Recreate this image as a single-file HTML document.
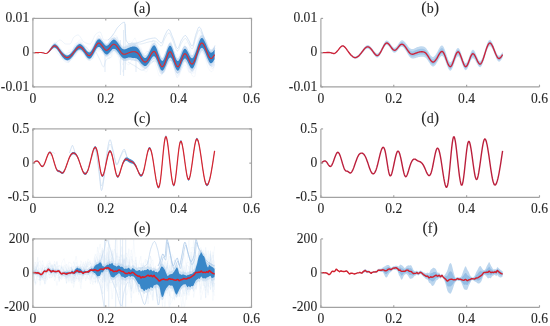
<!DOCTYPE html>
<html><head><meta charset="utf-8"><style>
html,body{margin:0;padding:0;background:#fff;width:550px;height:326px;overflow:hidden}
svg{display:block}
text{font-family:"Liberation Serif",serif;font-size:13.6px;fill:#262626;stroke:#262626;stroke-width:0.08px}
.t{font-size:14.0px}
.p{font-size:16.0px}
</style></head><body>
<svg width="550" height="326" viewBox="0 0 550 326">
<rect width="550" height="326" fill="#fff"/>
<polyline points="32.9,52.6 33.5,52.6 34.1,52.6 34.7,52.6 35.3,52.6 35.9,52.6 36.5,52.6 37.1,52.6 37.7,52.6 38.3,52.6 38.9,52.5 39.5,52.5 40.1,52.5 40.7,52.5 41.3,52.5 41.9,52.6 42.5,52.7 43.1,52.8 43.7,53.0 44.3,53.2 44.9,53.4 45.5,53.5 46.1,53.5 46.7,53.3 47.3,53.0 47.9,52.5 48.5,52.1 49.1,51.6 49.7,50.2 50.3,49.2 50.9,48.2 51.5,47.2 52.1,46.3 52.7,45.5 53.3,44.8 53.9,44.3 54.5,44.0 55.1,43.9 55.7,44.1 56.3,44.6 56.9,45.1 57.5,45.7 58.1,46.4 58.7,47.2 59.3,48.0 59.9,48.7 60.5,49.5 61.1,50.2 61.7,51.0 62.3,51.6 62.9,52.2 63.5,53.0 64.1,53.7 64.7,54.4 65.3,54.9 65.9,59.3 66.5,59.8 67.1,60.1 67.7,60.3 68.3,60.3 68.9,60.3 69.5,59.9 70.1,59.4 70.7,58.8 71.3,58.1 71.9,57.4 72.5,56.6 73.1,55.7 73.7,54.9 74.3,54.0 74.9,48.3 75.5,52.5 76.1,51.9 76.7,51.4 77.3,51.0 77.9,50.7 78.5,50.5 79.1,50.5 79.7,50.6 80.3,50.9 80.9,51.3 81.5,51.2 82.1,51.2 82.7,45.8 83.3,45.9 83.9,46.1 84.5,46.3 85.1,46.5 85.7,46.8 86.3,46.9 86.9,47.0 87.5,48.4 88.1,49.6 88.7,50.6 89.3,51.5 89.9,52.1 90.5,58.6 91.1,58.8 91.7,58.8 92.3,58.7 92.9,58.5 93.5,57.0 94.1,55.5 94.7,53.9 95.3,52.4 95.9,51.0 96.5,49.6 97.1,48.5 97.7,47.5 98.3,46.7 98.9,39.3 99.5,39.7 100.1,47.2 100.7,48.0 101.3,48.8 101.9,49.8 102.5,50.9 103.1,52.0 103.7,53.0 104.3,54.0 104.9,54.9 105.5,55.2 106.1,55.3 106.7,55.2 107.3,54.8 107.9,54.2 108.5,53.5 109.1,52.6 109.7,51.6 110.3,43.3 110.9,42.3 111.5,41.5 112.1,40.8 112.7,40.2 113.3,39.8 113.9,39.6 114.5,39.6 115.1,39.8 115.7,40.1 116.3,40.6 116.9,41.2 117.5,42.3 118.1,43.5 118.7,44.7 119.3,45.9 119.9,54.6 120.5,55.8 121.1,56.9 121.7,57.9 122.3,58.8 122.9,59.6 123.5,60.0 124.1,60.2 124.7,60.3 125.3,60.4 125.9,60.4 126.5,60.3 127.1,60.2 127.7,60.1 128.3,60.0 128.9,59.9 129.5,59.3 130.1,58.7 130.7,58.1 131.3,57.6 131.9,57.1 132.5,56.6 133.1,56.1 133.7,55.7 134.3,47.4 134.9,47.0 135.5,47.2 136.1,47.4 136.7,47.6 137.3,48.1 137.9,48.6 138.5,49.3 139.1,50.1 139.7,51.0 140.3,52.0 140.9,53.0 141.5,54.3 142.1,63.7 142.7,64.8 143.3,65.9 143.9,66.8 144.5,67.5 145.1,67.9 145.7,68.2 146.3,68.1 146.9,68.0 147.5,66.6 148.1,65.2 148.7,63.6 149.3,62.0 149.9,52.0 150.5,50.2 151.1,48.5 151.7,46.9 152.3,45.5 152.9,44.2 153.5,43.6 154.1,43.2 154.7,43.2 155.3,43.6 155.9,44.4 156.5,45.4 157.1,46.6 157.7,48.0 158.3,49.4 158.9,50.8 159.5,53.1 160.1,55.3 160.7,57.2 161.3,58.8 161.9,60.1 162.5,60.9 163.1,61.2 163.7,69.8 164.3,69.3 164.9,68.7 165.5,66.6 166.1,64.5 166.7,62.4 167.3,51.6 167.9,49.7 168.5,48.0 169.1,46.6 169.7,45.6 170.3,45.2 170.9,45.2 171.5,45.6 172.1,46.3 172.7,47.2 173.3,48.4 173.9,49.6 174.5,50.8 175.1,51.9 175.7,52.9 176.3,53.6 176.9,54.0 177.5,54.9 178.1,55.3 178.7,55.2 179.3,54.7 179.9,53.9 180.5,52.8 181.1,51.7 181.7,50.4 182.3,49.3 182.9,48.3 183.5,47.3 184.1,46.5 184.7,46.3 185.3,46.5 185.9,47.0 186.5,47.9 187.1,49.1 187.7,50.4 188.3,51.8 188.9,53.3 189.5,54.3 190.1,55.1 190.7,55.7 191.3,56.1 191.9,56.1 192.5,55.7 193.1,54.8 193.7,53.6 194.3,52.1 194.9,50.3 195.5,48.4 196.1,46.5 196.7,44.4 197.3,42.3 197.9,40.3 198.5,38.4 199.1,36.6 199.7,35.0 200.3,33.7 200.9,32.7 201.5,32.9 202.1,33.4 202.7,34.4 203.3,35.7 203.9,37.2 204.5,39.0 205.1,40.9 205.7,42.9 206.3,45.0 206.9,57.0 207.5,58.8 208.1,60.5 208.7,62.1 209.3,63.5 209.9,64.7 210.5,65.5 211.1,66.0 211.7,66.2 212.3,66.1 212.9,65.8 213.5,64.5 214.1,63.1 214.6,61.9" fill="none" stroke="#b9d1ec" stroke-width="0.6" stroke-opacity="0.22" stroke-linejoin="round"/>
<polyline points="32.9,52.6 33.5,52.6 34.1,52.6 34.7,52.6 35.3,52.6 35.9,52.6 36.5,52.6 37.1,52.6 37.7,52.6 38.3,52.6 38.9,52.5 39.5,52.5 40.1,52.5 40.7,52.5 41.3,52.5 41.9,52.6 42.5,52.7 43.1,52.8 43.7,53.0 44.3,53.2 44.9,53.4 45.5,53.5 46.1,53.5 46.7,53.3 47.3,53.0 47.9,52.5 48.5,52.1 49.1,51.6 49.7,50.2 50.3,49.3 50.9,48.3 51.5,47.4 52.1,46.6 52.7,45.9 53.3,47.6 53.9,47.5 54.5,47.6 55.1,47.9 55.7,48.3 56.3,48.9 56.9,49.6 57.5,50.4 58.1,51.3 58.7,52.2 59.3,53.2 59.9,54.1 60.5,55.1 61.1,56.0 61.7,56.9 62.3,57.8 62.9,58.6 63.5,59.0 64.1,59.4 64.7,59.7 65.3,59.9 65.9,60.0 66.5,60.0 67.1,59.9 67.7,59.7 68.3,55.2 68.9,54.7 69.5,54.2 70.1,53.6 70.7,52.9 71.3,52.2 71.9,51.4 72.5,50.6 73.1,49.7 73.7,48.8 74.3,47.8 74.9,46.8 75.5,46.3 76.1,45.7 76.7,45.2 77.3,44.8 77.9,44.5 78.5,44.3 79.1,44.3 79.7,49.6 80.3,50.0 80.9,50.5 81.5,50.9 82.1,51.4 82.7,52.0 83.3,52.7 83.9,53.5 84.5,54.3 85.1,55.1 85.7,56.0 86.3,56.8 86.9,57.5 87.5,58.4 88.1,59.1 88.7,59.6 89.3,59.9 89.9,60.0 90.5,59.8 91.1,59.5 91.7,58.9 92.3,58.2 92.9,57.4 93.5,55.7 94.1,54.0 94.7,52.3 95.3,50.6 95.9,42.3 96.5,40.8 97.1,39.4 97.7,38.1 98.3,37.1 98.9,36.4 99.5,36.7 100.1,37.1 100.7,37.8 101.3,38.6 101.9,39.4 102.5,40.4 103.1,41.3 103.7,42.3 104.3,43.2 104.9,43.9 105.5,44.3 106.1,44.6 106.7,44.6 107.3,44.3 107.9,43.9 108.5,43.2 109.1,42.5 109.7,41.7 110.3,40.8 110.9,40.0 111.5,38.9 112.1,37.9 112.7,37.1 113.3,36.4 113.9,35.9 114.5,35.7 115.1,35.6 115.7,35.6 116.3,35.8 116.9,36.1 117.5,37.6 118.1,39.1 118.7,40.6 119.3,42.2 119.9,43.7 120.5,45.3 121.1,46.8 121.7,48.2 122.3,49.5 122.9,58.2 123.5,58.6 124.1,58.9 124.7,59.0 125.3,59.1 125.9,59.1 126.5,59.0 127.1,59.0 127.7,58.9 128.3,58.8 128.9,58.7 129.5,58.0 130.1,57.3 130.7,56.7 131.3,56.0 131.9,47.6 132.5,46.9 133.1,46.4 133.7,45.8 134.3,45.3 134.9,44.9 135.5,45.8 136.1,46.9 136.7,48.0 137.3,57.2 137.9,58.6 138.5,60.1 139.1,61.8 139.7,63.6 140.3,65.4 140.9,67.2 141.5,68.0 142.1,68.7 142.7,69.3 143.3,69.8 143.9,70.1 144.5,70.3 145.1,70.2 145.7,69.8 146.3,69.3 146.9,68.5 147.5,67.7 148.1,66.8 148.7,65.8 149.3,64.7 149.9,63.5 150.5,62.4 151.1,61.2 151.7,60.2 152.3,59.3 152.9,58.6 153.5,58.1 154.1,58.0 154.7,58.2 155.3,58.7 155.9,59.7 156.5,60.9 157.1,62.3 157.7,63.8 158.3,65.4 158.9,67.0 159.5,68.8 160.1,70.4 160.7,71.8 161.3,72.9 161.9,73.7 162.5,73.9 163.1,73.7 163.7,73.1 164.3,72.1 164.9,70.9 165.5,68.4 166.1,65.8 166.7,63.2 167.3,60.6 167.9,49.5 168.5,47.3 169.1,45.4 169.7,44.0 170.3,43.0 170.9,42.5 171.5,44.2 172.1,46.2 172.7,48.4 173.3,50.8 173.9,53.3 174.5,55.8 175.1,67.2 175.7,69.5 176.3,71.5 176.9,73.1 177.5,73.6 178.1,73.6 178.7,73.0 179.3,72.1 179.9,70.9 180.5,69.4 181.1,67.8 181.7,66.1 182.3,64.6 182.9,63.1 183.5,61.0 184.1,59.2 184.7,48.7 185.3,47.8 185.9,47.3 186.5,47.1 187.1,47.2 187.7,47.4 188.3,47.7 188.9,48.1 189.5,50.2 190.1,52.2 190.7,53.9 191.3,55.4 191.9,56.6 192.5,57.3 193.1,57.6 193.7,57.5 194.3,66.5 194.9,65.9 195.5,64.0 196.1,61.9 196.7,59.7 197.3,57.6 197.9,55.4 198.5,43.8 199.1,41.9 199.7,40.2 200.3,38.8 200.9,37.7 201.5,37.6 202.1,38.0 202.7,48.4 203.3,49.5 203.9,50.9 204.5,52.5 205.1,54.2 205.7,56.1 206.3,58.0 206.9,59.9 207.5,60.9 208.1,61.8 208.7,62.6 209.3,63.2 209.9,63.5 210.5,63.5 211.1,53.3 211.7,52.6 212.3,51.7 212.9,50.5 213.5,49.8 214.1,49.0 214.6,48.3" fill="none" stroke="#b9d1ec" stroke-width="0.6" stroke-opacity="0.22" stroke-linejoin="round"/>
<polyline points="32.9,52.6 33.5,52.6 34.1,52.6 34.7,52.6 35.3,52.6 35.9,52.6 36.5,52.6 37.1,52.6 37.7,52.6 38.3,52.6 38.9,52.5 39.5,52.5 40.1,52.5 40.7,52.5 41.3,52.5 41.9,52.6 42.5,52.7 43.1,52.8 43.7,53.0 44.3,53.2 44.9,53.4 45.5,53.5 46.1,53.5 46.7,53.3 47.3,53.0 47.9,52.5 48.5,52.1 49.1,51.6 49.7,51.0 50.3,49.4 50.9,48.4 51.5,47.5 52.1,48.5 52.7,48.0 53.3,47.7 53.9,47.6 54.5,47.6 55.1,47.9 55.7,48.3 56.3,48.8 56.9,49.5 57.5,50.1 58.1,50.7 58.7,51.4 59.3,52.1 59.9,49.4 60.5,50.0 61.1,50.6 61.7,51.2 62.3,51.8 62.9,52.2 63.5,53.1 64.1,53.9 64.7,54.6 65.3,59.2 65.9,59.8 66.5,60.3 67.1,60.7 67.7,61.0 68.3,61.2 68.9,61.2 69.5,60.8 70.1,60.4 70.7,59.8 71.3,59.2 71.9,58.5 72.5,57.7 73.1,56.9 73.7,56.1 74.3,55.2 74.9,54.4 75.5,53.5 76.1,52.6 76.7,51.8 77.3,51.1 77.9,50.5 78.5,49.9 79.1,49.6 79.7,44.2 80.3,44.0 80.9,44.1 81.5,44.6 82.1,45.2 82.7,51.5 83.3,52.3 83.9,53.3 84.5,54.3 85.1,55.4 85.7,56.4 86.3,57.4 86.9,58.4 87.5,59.2 88.1,59.8 88.7,60.3 89.3,60.6 89.9,60.6 90.5,60.4 91.1,60.0 91.7,59.4 92.3,58.6 92.9,57.8 93.5,56.8 94.1,55.8 94.7,54.8 95.3,53.8 95.9,52.9 96.5,52.1 97.1,51.5 97.7,51.0 98.3,50.8 98.9,50.9 99.5,50.3 100.1,49.9 100.7,49.6 101.3,49.4 101.9,49.3 102.5,42.2 103.1,42.1 103.7,42.0 104.3,41.7 104.9,41.3 105.5,42.5 106.1,43.4 106.7,44.2 107.3,44.8 107.9,45.1 108.5,45.3 109.1,52.7 109.7,52.8 110.3,52.9 110.9,53.0 111.5,52.1 112.1,51.4 112.7,50.8 113.3,50.4 113.9,50.2 114.5,50.2 115.1,50.4 115.7,50.8 116.3,51.3 116.9,51.9 117.5,52.5 118.1,53.1 118.7,53.8 119.3,54.5 119.9,55.2 120.5,55.8 121.1,56.4 121.7,56.8 122.3,49.6 122.9,49.7 123.5,49.6 124.1,49.3 124.7,48.9 125.3,48.5 125.9,47.9 126.5,47.3 127.1,46.7 127.7,46.1 128.3,45.5 128.9,44.9 129.5,45.5 130.1,46.2 130.7,47.0 131.3,47.7 131.9,56.3 132.5,57.1 133.1,58.0 133.7,58.9 134.3,59.8 134.9,60.8 135.5,59.9 136.1,59.1 136.7,58.4 137.3,57.8 137.9,49.3 138.5,49.0 139.1,48.8 139.7,48.6 140.3,48.6 140.9,48.6 141.5,50.3 142.1,51.9 142.7,53.5 143.3,54.9 143.9,56.2 144.5,57.3 145.1,66.3 145.7,66.9 146.3,67.3 146.9,67.5 147.5,67.1 148.1,66.5 148.7,65.9 149.3,65.1 149.9,64.4 150.5,63.6 151.1,62.8 151.7,62.1 152.3,61.6 152.9,61.3 153.5,59.8 154.1,58.5 154.7,57.7 155.3,57.2 155.9,48.6 156.5,48.7 157.1,49.0 157.7,49.4 158.3,49.9 158.9,50.4 159.5,52.5 160.1,54.4 160.7,56.1 161.3,57.5 161.9,58.5 162.5,59.1 163.1,59.1 163.7,58.8 164.3,58.1 164.9,57.2 165.5,55.2 166.1,53.0 166.7,50.9 167.3,48.9 167.9,47.0 168.5,45.3 169.1,44.0 169.7,43.0 170.3,42.6 170.9,42.6 171.5,44.1 172.1,46.0 172.7,48.0 173.3,50.3 173.9,52.6 174.5,55.0 175.1,57.2 175.7,59.3 176.3,70.2 176.9,71.7 177.5,72.6 178.1,73.1 178.7,73.1 179.3,72.7 179.9,71.9 180.5,71.0 181.1,69.9 181.7,68.8 182.3,67.7 182.9,66.8 183.5,65.8 184.1,65.2 184.7,65.0 185.3,65.3 185.9,65.9 186.5,66.9 187.1,68.1 187.7,69.5 188.3,71.0 188.9,72.6 189.5,72.3 190.1,71.9 190.7,71.4 191.3,70.5 191.9,69.3 192.5,58.2 193.1,56.2 193.7,53.7 194.3,50.9 194.9,47.9 195.5,46.7 196.1,45.3 196.7,43.9 197.3,42.4 197.9,41.0 198.5,39.6 199.1,38.4 199.7,37.5 200.3,36.8 200.9,36.4 201.5,36.4 202.1,36.9 202.7,37.8 203.3,38.9 203.9,50.1 204.5,51.7 205.1,53.6 205.7,55.6 206.3,57.6 206.9,59.6 207.5,61.5 208.1,63.2 208.7,64.8 209.3,66.2 209.9,67.4 210.5,68.2 211.1,68.7 211.7,68.9 212.3,68.8 212.9,68.5 213.5,67.2 214.1,65.8 214.6,64.6" fill="none" stroke="#b9d1ec" stroke-width="0.6" stroke-opacity="0.22" stroke-linejoin="round"/>
<polyline points="32.9,52.6 33.5,52.6 34.1,52.6 34.7,52.6 35.3,52.6 35.9,52.6 36.5,52.6 37.1,52.6 37.7,52.6 38.3,52.6 38.9,52.5 39.5,52.5 40.1,52.5 40.7,52.5 41.3,52.5 41.9,52.6 42.5,52.7 43.1,52.8 43.7,53.0 44.3,53.2 44.9,53.4 45.5,53.5 46.1,53.5 46.7,53.3 47.3,53.0 47.9,52.5 48.5,51.9 49.1,51.1 49.7,50.2 50.3,49.3 50.9,48.4 51.5,47.4 52.1,46.4 52.7,45.6 53.3,44.8 53.9,44.2 54.5,43.8 55.1,43.6 55.7,43.7 56.3,44.0 56.9,44.5 57.5,45.3 58.1,46.2 58.7,47.1 59.3,48.1 59.9,49.1 60.5,50.1 61.1,54.6 61.7,55.6 62.3,56.6 62.9,57.5 63.5,58.1 64.1,58.7 64.7,59.2 65.3,59.6 65.9,59.9 66.5,60.1 67.1,60.2 67.7,60.2 68.3,60.1 68.9,59.8 69.5,59.4 70.1,59.0 70.7,58.4 71.3,57.8 71.9,57.1 72.5,56.3 73.1,55.5 73.7,50.1 74.3,49.2 74.9,48.2 75.5,47.4 76.1,46.6 76.7,45.9 77.3,45.2 77.9,44.7 78.5,44.2 79.1,43.9 79.7,43.8 80.3,43.8 80.9,44.0 81.5,44.1 82.1,44.4 82.7,44.7 83.3,45.1 83.9,45.6 84.5,46.2 85.1,46.7 85.7,47.3 86.3,47.8 86.9,48.3 87.5,49.0 88.1,49.7 88.7,50.1 89.3,50.4 89.9,50.4 90.5,50.1 91.1,49.6 91.7,49.0 92.3,48.2 92.9,47.3 93.5,46.5 94.1,45.7 94.7,51.4 95.3,50.7 95.9,50.1 96.5,49.5 97.1,49.2 97.7,49.0 98.3,49.1 98.9,49.5 99.5,49.3 100.1,49.4 100.7,49.6 101.3,50.0 101.9,50.4 102.5,50.9 103.1,51.4 103.7,51.8 104.3,45.1 104.9,45.3 105.5,45.4 106.1,45.3 106.7,45.0 107.3,44.4 107.9,43.7 108.5,42.7 109.1,41.6 109.7,40.4 110.3,39.2 110.9,38.0 111.5,38.1 112.1,38.4 112.7,38.8 113.3,39.4 113.9,40.3 114.5,48.8 115.1,50.1 115.7,51.6 116.3,53.3 116.9,55.1 117.5,55.7 118.1,56.3 118.7,56.9 119.3,57.6 119.9,58.2 120.5,58.7 121.1,59.2 121.7,59.5 122.3,59.8 122.9,59.8 123.5,60.7 124.1,61.4 124.7,62.1 125.3,62.6 125.9,63.1 126.5,63.5 127.1,63.9 127.7,64.3 128.3,64.7 128.9,65.1 129.5,64.0 130.1,63.0 130.7,62.0 131.3,61.1 131.9,60.1 132.5,59.2 133.1,58.4 133.7,57.5 134.3,56.8 134.9,56.0 135.5,55.9 136.1,48.0 136.7,48.0 137.3,48.2 137.9,48.5 138.5,49.0 139.1,49.6 139.7,50.3 140.3,51.0 140.9,51.8 141.5,52.3 142.1,52.9 142.7,53.3 143.3,53.6 143.9,53.7 144.5,53.7 145.1,53.4 145.7,52.9 146.3,52.1 146.9,51.2 147.5,51.6 148.1,51.8 148.7,52.0 149.3,52.1 149.9,52.1 150.5,60.4 151.1,60.5 151.7,60.6 152.3,60.9 152.9,61.4 153.5,61.5 154.1,61.9 154.7,62.7 155.3,63.9 155.9,65.4 156.5,67.2 157.1,69.2 157.7,71.3 158.3,73.5 158.9,75.6 159.5,75.9 160.1,75.9 160.7,75.8 161.3,75.3 161.9,74.4 162.5,73.1 163.1,71.3 163.7,60.5 164.3,57.9 164.9,55.1 165.5,53.6 166.1,51.9 166.7,50.3 167.3,48.7 167.9,47.3 168.5,46.1 169.1,45.2 169.7,44.8 170.3,44.8 170.9,45.3 171.5,46.6 172.1,48.4 172.7,50.3 173.3,52.4 173.9,54.7 174.5,65.8 175.1,68.0 175.7,70.0 176.3,71.7 176.9,73.1 177.5,73.0 178.1,72.4 178.7,71.3 179.3,69.8 179.9,58.9 180.5,56.8 181.1,54.6 181.7,52.4 182.3,50.2 182.9,48.2 183.5,47.3 184.1,46.7 184.7,46.5 185.3,46.7 185.9,47.4 186.5,48.4 187.1,49.6 187.7,51.0 188.3,52.5 188.9,54.1 189.5,55.3 190.1,56.4 190.7,57.3 191.3,57.9 191.9,58.2 192.5,58.0 193.1,57.4 193.7,56.4 194.3,55.2 194.9,53.6 195.5,52.1 196.1,50.5 196.7,48.8 197.3,47.1 197.9,45.4 198.5,43.8 199.1,51.9 199.7,50.7 200.3,49.7 200.9,49.1 201.5,49.0 202.1,49.3 202.7,50.0 203.3,51.1 203.9,52.4 204.5,53.9 205.1,55.6 205.7,57.4 206.3,59.3 206.9,61.2 207.5,62.2 208.1,63.2 208.7,64.0 209.3,64.7 209.9,65.0 210.5,65.1 211.1,64.8 211.7,64.2 212.3,63.4 212.9,62.3 213.5,61.8 214.1,61.3 214.6,60.7" fill="none" stroke="#b9d1ec" stroke-width="0.6" stroke-opacity="0.22" stroke-linejoin="round"/>
<polyline points="32.9,52.6 33.5,52.6 34.1,52.6 34.7,52.6 35.3,52.6 35.9,52.6 36.5,52.6 37.1,52.6 37.7,52.6 38.3,52.6 38.9,52.5 39.5,52.5 40.1,52.5 40.7,52.5 41.3,52.5 41.9,52.6 42.5,52.7 43.1,52.8 43.7,53.0 44.3,53.2 44.9,53.4 45.5,53.5 46.1,53.5 46.7,53.3 47.3,53.0 47.9,52.5 48.5,51.7 49.1,50.7 49.7,49.7 50.3,48.6 50.9,47.6 51.5,46.7 52.1,45.8 52.7,45.2 53.3,44.7 53.9,44.4 54.5,44.4 55.1,47.6 55.7,48.2 56.3,49.0 56.9,50.0 57.5,50.5 58.1,51.1 58.7,51.7 59.3,52.3 59.9,53.0 60.5,50.2 61.1,50.7 61.7,51.2 62.3,51.7 62.9,52.1 63.5,52.9 64.1,53.6 64.7,54.3 65.3,54.8 65.9,55.3 66.5,59.7 67.1,60.0 67.7,60.2 68.3,60.3 68.9,60.3 69.5,60.0 70.1,59.6 70.7,59.1 71.3,58.6 71.9,57.9 72.5,57.3 73.1,56.5 73.7,55.8 74.3,55.0 74.9,54.3 75.5,53.7 76.1,53.1 76.7,52.6 77.3,52.2 77.9,51.9 78.5,51.7 79.1,51.7 79.7,51.8 80.3,52.1 80.9,52.5 81.5,52.8 82.1,53.3 82.7,53.8 83.3,54.4 83.9,55.1 84.5,55.8 85.1,56.6 85.7,57.4 86.3,58.1 86.9,58.8 87.5,59.5 88.1,60.0 88.7,60.4 89.3,60.6 89.9,60.6 90.5,60.2 91.1,59.7 91.7,59.0 92.3,58.2 92.9,57.2 93.5,55.8 94.1,54.4 94.7,53.0 95.3,51.6 95.9,50.3 96.5,49.1 97.1,48.0 97.7,47.2 98.3,46.6 98.9,39.3 99.5,39.3 100.1,39.5 100.7,39.9 101.3,40.4 101.9,40.9 102.5,41.6 103.1,42.2 103.7,42.8 104.3,43.4 104.9,43.8 105.5,44.3 106.1,44.5 106.7,44.6 107.3,44.4 107.9,44.0 108.5,43.4 109.1,42.7 109.7,41.9 110.3,41.1 110.9,40.3 111.5,39.6 112.1,39.1 112.7,38.6 113.3,38.4 113.9,38.3 114.5,38.5 115.1,38.9 115.7,39.4 116.3,40.0 116.9,40.8 117.5,41.3 118.1,41.9 118.7,42.5 119.3,43.1 119.9,43.7 120.5,44.3 121.1,44.8 121.7,45.2 122.3,45.5 122.9,45.6 123.5,46.1 124.1,46.4 124.7,46.6 125.3,46.7 125.9,46.8 126.5,46.8 127.1,46.7 127.7,46.7 128.3,46.7 128.9,46.7 129.5,46.7 130.1,46.6 130.7,46.6 131.3,46.6 131.9,46.7 132.5,46.8 133.1,46.9 133.7,47.0 134.3,47.2 134.9,47.5 135.5,47.7 136.1,48.0 136.7,56.4 137.3,56.9 137.9,57.6 138.5,58.4 139.1,59.4 139.7,60.4 140.3,61.6 140.9,62.7 141.5,63.4 142.1,64.1 142.7,64.7 143.3,65.2 143.9,57.4 144.5,57.5 145.1,57.4 145.7,57.0 146.3,56.4 146.9,55.6 147.5,54.3 148.1,52.8 148.7,51.2 149.3,49.5 149.9,47.8 150.5,46.1 151.1,44.4 151.7,42.8 152.3,41.3 152.9,40.0 153.5,40.4 154.1,41.0 154.7,42.0 155.3,43.4 155.9,45.2 156.5,47.2 157.1,49.4 157.7,51.7 158.3,54.1 158.9,56.5 159.5,58.2 160.1,59.7 160.7,69.6 161.3,70.6 161.9,71.2 162.5,71.4 163.1,71.1 163.7,70.4 164.3,69.3 164.9,68.0 165.5,66.7 166.1,65.4 166.7,64.0 167.3,62.7 167.9,61.6 168.5,60.7 169.1,60.1 169.7,59.9 170.3,60.3 170.9,61.1 171.5,61.7 172.1,62.8 172.7,64.0 173.3,65.5 173.9,67.0 174.5,68.5 175.1,70.0 175.7,71.3 176.3,72.3 176.9,73.0 177.5,73.0 178.1,72.5 178.7,71.5 179.3,70.0 179.9,59.2 180.5,57.2 181.1,55.1 181.7,53.0 182.3,50.9 182.9,49.0 183.5,47.8 184.1,46.9 184.7,46.4 185.3,46.5 185.9,46.9 186.5,47.6 187.1,48.6 187.7,49.7 188.3,51.0 188.9,52.3 189.5,54.6 190.1,56.8 190.7,68.2 191.3,70.0 191.9,71.4 192.5,72.4 193.1,72.9 193.7,73.1 194.3,72.9 194.9,72.5 195.5,70.3 196.1,68.0 196.7,65.6 197.3,63.2 197.9,60.8 198.5,58.5 199.1,56.3 199.7,54.4 200.3,52.7 200.9,51.4 201.5,51.3 202.1,51.7 202.7,52.5 203.3,53.6 203.9,55.0 204.5,56.6 205.1,58.4 205.7,60.2 206.3,62.2 206.9,64.1 207.5,65.7 208.1,67.3 208.7,68.6 209.3,69.8 209.9,70.7 210.5,71.3 211.1,71.6 211.7,71.6 212.3,71.3 212.9,70.7 213.5,68.7 214.1,66.6 214.6,64.8" fill="none" stroke="#b9d1ec" stroke-width="0.6" stroke-opacity="0.22" stroke-linejoin="round"/>
<polyline points="32.9,52.6 33.5,52.6 34.1,52.6 34.7,52.6 35.3,52.6 35.9,52.6 36.5,52.6 37.1,52.6 37.7,52.6 38.3,52.6 38.9,52.5 39.5,52.5 40.1,52.5 40.7,52.5 41.3,52.5 41.9,52.6 42.5,52.7 43.1,52.8 43.7,53.0 44.3,53.2 44.9,53.4 45.5,53.5 46.1,53.5 46.7,53.3 47.3,53.0 47.9,52.5 48.5,52.1 49.1,51.7 49.7,51.2 50.3,50.6 50.9,50.1 51.5,49.5 52.1,48.9 52.7,48.4 53.3,48.0 53.9,47.8 54.5,47.8 55.1,47.9 55.7,48.1 56.3,48.5 56.9,49.1 57.5,49.8 58.1,50.6 58.7,51.4 59.3,52.3 59.9,53.1 60.5,54.0 61.1,54.8 61.7,55.6 62.3,56.4 62.9,57.1 63.5,57.5 64.1,54.0 64.7,54.1 65.3,54.2 65.9,54.2 66.5,54.0 67.1,53.8 67.7,53.4 68.3,52.9 68.9,52.3 69.5,52.2 70.1,51.9 70.7,51.6 71.3,51.2 71.9,50.8 72.5,50.3 73.1,49.8 73.7,49.2 74.3,48.7 74.9,48.1 75.5,47.2 76.1,46.3 76.7,45.5 77.3,44.7 77.9,44.1 78.5,43.5 79.1,43.1 79.7,42.9 80.3,42.8 80.9,42.9 81.5,43.4 82.1,44.1 82.7,44.8 83.3,45.7 83.9,46.6 84.5,47.5 85.1,48.5 85.7,49.5 86.3,56.3 86.9,57.2 87.5,57.8 88.1,58.1 88.7,52.4 89.3,52.3 89.9,52.0 90.5,51.4 91.1,50.6 91.7,49.7 92.3,48.6 92.9,47.3 93.5,46.4 94.1,45.5 94.7,44.5 95.3,43.6 95.9,49.4 96.5,48.7 97.1,48.2 97.7,47.9 98.3,47.8 98.9,48.0 99.5,48.3 100.1,48.7 100.7,49.3 101.3,50.1 101.9,51.0 102.5,51.9 103.1,52.8 103.7,53.7 104.3,54.6 104.9,55.3 105.5,55.7 106.1,55.9 106.7,55.9 107.3,55.6 107.9,55.1 108.5,54.5 109.1,53.7 109.7,52.8 110.3,51.9 110.9,51.0 111.5,50.4 112.1,49.8 112.7,49.3 113.3,49.0 113.9,48.9 114.5,49.1 115.1,49.4 115.7,49.9 116.3,50.5 116.9,51.3 117.5,52.0 118.1,52.8 118.7,53.7 119.3,54.5 119.9,55.3 120.5,56.0 121.1,56.7 121.7,57.3 122.3,57.8 122.9,58.1 123.5,58.1 124.1,50.4 124.7,50.1 125.3,49.8 125.9,49.4 126.5,49.0 127.1,48.5 127.7,48.0 128.3,47.5 128.9,47.1 129.5,47.0 130.1,46.9 130.7,46.8 131.3,46.8 131.9,46.8 132.5,46.8 133.1,46.8 133.7,46.9 134.3,47.0 134.9,47.2 135.5,47.2 136.1,47.2 136.7,47.3 137.3,47.6 137.9,48.0 138.5,48.5 139.1,49.2 139.7,50.0 140.3,50.8 140.9,51.6 141.5,53.0 142.1,54.2 142.7,55.4 143.3,56.5 143.9,57.4 144.5,66.2 145.1,66.7 145.7,66.9 146.3,66.9 146.9,66.8 147.5,65.9 148.1,64.9 148.7,63.8 149.3,62.7 149.9,61.4 150.5,60.2 151.1,59.0 151.7,57.9 152.3,56.9 152.9,56.2 153.5,56.0 154.1,56.2 154.7,56.7 155.3,57.6 155.9,58.8 156.5,60.3 157.1,62.0 157.7,63.9 158.3,65.8 158.9,67.7 159.5,68.5 160.1,69.2 160.7,69.6 161.3,61.1 161.9,60.8 162.5,60.1 163.1,58.9 163.7,57.3 164.3,55.3 164.9,53.1 165.5,52.3 166.1,51.5 166.7,50.7 167.3,49.9 167.9,49.3 168.5,57.7 169.1,57.7 169.7,58.1 170.3,58.9 170.9,60.3 171.5,60.5 172.1,61.1 172.7,61.9 173.3,62.9 173.9,63.9 174.5,56.1 175.1,57.1 175.7,57.9 176.3,58.4 176.9,58.6 177.5,59.1 178.1,59.1 178.7,58.5 179.3,57.6 179.9,56.3 180.5,54.9 181.1,53.3 181.7,51.6 182.3,50.1 182.9,48.6 183.5,47.7 184.1,47.0 184.7,46.8 185.3,47.1 185.9,47.7 186.5,48.7 187.1,50.0 187.7,51.4 188.3,52.8 188.9,54.4 189.5,55.5 190.1,56.5 190.7,57.2 191.3,57.7 191.9,57.9 192.5,57.6 193.1,56.9 193.7,55.8 194.3,54.4 194.9,52.8 195.5,51.4 196.1,49.9 196.7,48.3 197.3,46.7 197.9,45.1 198.5,43.6 199.1,51.9 199.7,50.8 200.3,50.0 200.9,49.5 201.5,48.7 202.1,48.3 202.7,48.3 203.3,39.0 203.9,39.5 204.5,40.3 205.1,41.3 205.7,42.4 206.3,43.6 206.9,44.7 207.5,46.0 208.1,47.2 208.7,48.2 209.3,49.0 209.9,49.6 210.5,49.9 211.1,49.9 211.7,49.5 212.3,48.8 212.9,48.0 213.5,47.2 214.1,46.4 214.6,45.6" fill="none" stroke="#b9d1ec" stroke-width="0.6" stroke-opacity="0.22" stroke-linejoin="round"/>
<polyline points="32.9,52.6 33.5,52.6 34.1,52.6 34.7,52.6 35.3,52.6 35.9,52.6 36.5,52.6 37.1,52.6 37.7,52.6 38.3,52.6 38.9,52.5 39.5,52.5 40.1,52.5 40.7,52.5 41.3,52.5 41.9,52.6 42.5,52.7 43.1,52.8 43.7,53.0 44.3,53.2 44.9,53.4 45.5,53.5 46.1,53.5 46.7,53.3 47.3,53.0 47.9,52.5 48.5,51.8 49.1,51.0 49.7,50.2 50.3,49.3 50.9,49.7 51.5,47.5 52.1,46.4 52.7,45.5 53.3,44.6 53.9,43.8 54.5,43.2 55.1,42.8 55.7,42.8 56.3,42.9 56.9,43.2 57.5,44.3 58.1,45.6 58.7,46.9 59.3,48.2 59.9,53.0 60.5,54.4 61.1,55.8 61.7,57.2 62.3,58.5 62.9,59.8 63.5,59.9 64.1,60.0 64.7,59.9 65.3,59.8 65.9,59.5 66.5,55.2 67.1,54.6 67.7,54.0 68.3,53.2 68.9,52.3 69.5,52.3 70.1,52.1 70.7,52.0 71.3,51.7 71.9,51.4 72.5,51.0 73.1,50.6 73.7,54.9 74.3,54.5 74.9,54.1 75.5,53.4 76.1,52.7 76.7,52.1 77.3,51.5 77.9,51.1 78.5,50.7 79.1,50.5 79.7,50.5 80.3,50.6 80.9,50.9 81.5,50.9 82.1,51.0 82.7,45.7 83.3,46.0 83.9,46.3 84.5,46.6 85.1,47.0 85.7,47.4 86.3,47.7 86.9,47.9 87.5,48.9 88.1,49.7 88.7,50.4 89.3,50.8 89.9,51.1 90.5,51.0 91.1,50.8 91.7,50.4 92.3,56.1 92.9,55.5 93.5,54.6 94.1,53.6 94.7,52.6 95.3,51.6 95.9,50.8 96.5,50.0 97.1,49.4 97.7,49.0 98.3,48.8 98.9,49.0 99.5,49.0 100.1,49.3 100.7,49.7 101.3,50.3 101.9,51.0 102.5,51.7 103.1,52.4 103.7,53.1 104.3,53.8 104.9,54.3 105.5,54.8 106.1,55.0 106.7,55.1 107.3,54.9 107.9,54.5 108.5,54.0 109.1,53.3 109.7,52.5 110.3,51.7 110.9,50.9 111.5,50.4 112.1,50.1 112.7,49.8 113.3,49.8 113.9,50.0 114.5,50.4 115.1,51.0 115.7,51.7 116.3,52.7 116.9,53.7 117.5,54.2 118.1,54.8 118.7,55.5 119.3,56.1 119.9,56.7 120.5,57.2 121.1,57.7 121.7,58.0 122.3,58.3 122.9,58.4 123.5,58.7 124.1,58.8 124.7,58.9 125.3,58.9 125.9,58.8 126.5,58.6 127.1,58.5 127.7,58.3 128.3,58.1 128.9,58.0 129.5,57.6 130.1,57.2 130.7,56.9 131.3,56.5 131.9,56.2 132.5,56.0 133.1,55.7 133.7,47.6 134.3,47.5 134.9,47.3 135.5,47.7 136.1,56.2 136.7,56.8 137.3,57.5 137.9,58.3 138.5,59.3 139.1,60.4 139.7,61.6 140.3,62.9 140.9,64.2 141.5,64.6 142.1,64.9 142.7,65.1 143.3,65.2 143.9,56.9 144.5,56.7 145.1,56.1 145.7,55.4 146.3,54.4 146.9,53.2 147.5,53.2 148.1,53.0 148.7,52.8 149.3,52.4 149.9,52.0 150.5,59.9 151.1,59.6 151.7,59.3 152.3,59.2 152.9,59.3 153.5,58.4 154.1,57.8 154.7,57.5 155.3,57.7 155.9,58.2 156.5,59.0 157.1,51.4 157.7,52.5 158.3,53.7 158.9,54.8 159.5,56.1 160.1,57.3 160.7,58.2 161.3,58.9 161.9,59.1 162.5,58.9 163.1,58.3 163.7,57.2 164.3,55.7 164.9,54.0 165.5,53.0 166.1,51.9 166.7,50.7 167.3,49.7 167.9,48.8 168.5,48.1 169.1,47.7 169.7,56.6 170.3,57.1 170.9,58.2 171.5,59.6 172.1,61.4 172.7,63.4 173.3,65.5 173.9,67.8 174.5,70.1 175.1,72.3 175.7,74.3 176.3,76.0 176.9,77.5 177.5,77.6 178.1,77.3 178.7,76.5 179.3,75.3 179.9,73.7 180.5,72.0 181.1,70.1 181.7,68.2 182.3,66.3 182.9,64.6 183.5,62.8 184.1,61.4 184.7,60.4 185.3,59.9 185.9,59.7 186.5,59.9 187.1,51.1 187.7,51.7 188.3,52.4 188.9,53.1 189.5,54.8 190.1,56.4 190.7,57.9 191.3,59.0 191.9,69.2 192.5,69.5 193.1,69.5 193.7,69.0 194.3,68.3 194.9,67.3 195.5,65.1 196.1,62.8 196.7,60.5 197.3,58.1 197.9,55.7 198.5,53.4 199.1,41.7 199.7,39.8 200.3,38.2 200.9,36.9 201.5,36.5 202.1,36.6 202.7,37.1 203.3,37.9 203.9,38.9 204.5,40.2 205.1,41.7 205.7,43.2 206.3,44.9 206.9,46.5 207.5,48.1 208.1,49.5 208.7,50.9 209.3,52.0 209.9,52.9 210.5,63.3 211.1,63.6 211.7,63.5 212.3,63.1 212.9,62.6 213.5,50.8 214.1,48.9 214.6,47.3" fill="none" stroke="#b9d1ec" stroke-width="0.6" stroke-opacity="0.22" stroke-linejoin="round"/>
<polyline points="32.9,52.6 33.5,52.6 34.1,52.6 34.7,52.6 35.3,52.6 35.9,52.6 36.5,52.6 37.1,52.6 37.7,52.6 38.3,52.6 38.9,52.5 39.5,52.5 40.1,52.5 40.7,52.5 41.3,52.5 41.9,52.6 42.5,52.7 43.1,52.8 43.7,53.0 44.3,53.2 44.9,53.4 45.5,53.5 46.1,53.5 46.7,53.3 47.3,53.0 47.9,52.5 48.5,51.7 49.1,50.8 49.7,49.8 50.3,48.7 50.9,47.6 51.5,46.5 52.1,45.4 52.7,44.4 53.3,43.6 53.9,42.9 54.5,42.4 55.1,42.2 55.7,42.4 56.3,42.7 56.9,43.2 57.5,44.0 58.1,44.8 58.7,45.6 59.3,46.5 59.9,47.4 60.5,48.3 61.1,49.2 61.7,50.0 62.3,50.8 62.9,51.5 63.5,52.4 64.1,53.2 64.7,54.0 65.3,54.7 65.9,55.2 66.5,59.7 67.1,60.2 67.7,60.5 68.3,60.7 68.9,60.8 69.5,60.6 70.1,60.4 70.7,60.1 71.3,59.7 71.9,59.2 72.5,58.7 73.1,58.2 73.7,57.6 74.3,57.0 74.9,56.4 75.5,55.4 76.1,54.3 76.7,53.4 77.3,52.5 77.9,51.7 78.5,51.0 79.1,50.4 79.7,50.0 80.3,49.8 80.9,44.4 81.5,50.3 82.1,51.1 82.7,52.0 83.3,52.9 83.9,54.0 84.5,55.0 85.1,56.2 85.7,57.3 86.3,58.4 86.9,59.4 87.5,59.7 88.1,60.0 88.7,60.0 89.3,59.8 89.9,59.4 90.5,58.7 91.1,57.9 91.7,56.8 92.3,49.2 92.9,47.8 93.5,46.3 94.1,44.7 94.7,43.0 95.3,41.5 95.9,39.9 96.5,38.5 97.1,37.3 97.7,36.2 98.3,35.4 98.9,34.9 99.5,35.5 100.1,36.3 100.7,37.3 101.3,38.4 101.9,39.7 102.5,41.0 103.1,42.4 103.7,43.7 104.3,45.0 104.9,53.4 105.5,54.0 106.1,54.4 106.7,54.6 107.3,54.6 107.9,54.3 108.5,53.9 109.1,53.4 109.7,52.8 110.3,52.1 110.9,51.5 111.5,50.5 112.1,49.6 112.7,48.9 113.3,48.3 113.9,47.9 114.5,40.3 115.1,40.3 115.7,40.4 116.3,40.7 116.9,41.0 117.5,42.1 118.1,43.2 118.7,44.4 119.3,45.5 119.9,46.7 120.5,55.4 121.1,56.4 121.7,57.4 122.3,58.2 122.9,58.9 123.5,59.3 124.1,59.5 124.7,59.6 125.3,59.6 125.9,59.5 126.5,59.4 127.1,59.3 127.7,59.2 128.3,59.0 128.9,58.9 129.5,58.1 130.1,57.4 130.7,56.6 131.3,48.1 131.9,47.4 132.5,46.7 133.1,46.1 133.7,45.5 134.3,44.9 134.9,44.4 135.5,44.3 136.1,44.2 136.7,44.2 137.3,44.3 137.9,44.6 138.5,45.0 139.1,45.6 139.7,46.3 140.3,47.0 140.9,47.7 141.5,49.2 142.1,50.6 142.7,51.9 143.3,53.1 143.9,54.2 144.5,55.0 145.1,55.6 145.7,56.0 146.3,56.1 146.9,56.1 147.5,55.4 148.1,54.5 148.7,53.6 149.3,52.5 149.9,51.5 150.5,50.4 151.1,49.3 151.7,48.3 152.3,47.5 152.9,46.9 153.5,46.4 154.1,46.3 154.7,46.5 155.3,47.1 155.9,48.0 156.5,49.2 157.1,50.7 157.7,52.2 158.3,53.8 158.9,55.4 159.5,57.5 160.1,59.5 160.7,69.8 161.3,71.2 161.9,72.2 162.5,72.8 163.1,72.9 163.7,72.6 164.3,71.9 164.9,71.0 165.5,69.7 166.1,68.3 166.7,66.9 167.3,65.6 167.9,64.4 168.5,63.5 169.1,62.8 169.7,62.6 170.3,62.9 170.9,63.6 171.5,63.7 172.1,64.0 172.7,64.6 173.3,65.4 173.9,66.3 174.5,67.2 175.1,68.0 175.7,68.6 176.3,60.0 176.9,60.0 177.5,60.9 178.1,61.3 178.7,61.2 179.3,69.8 179.9,69.0 180.5,68.0 181.1,66.8 181.7,65.6 182.3,64.5 182.9,63.5 183.5,62.4 184.1,61.7 184.7,61.4 185.3,61.6 185.9,62.1 186.5,63.0 187.1,64.1 187.7,65.4 188.3,66.8 188.9,68.2 189.5,69.4 190.1,70.5 190.7,71.3 191.3,71.9 191.9,72.1 192.5,71.9 193.1,71.3 193.7,70.3 194.3,68.9 194.9,67.4 195.5,65.8 196.1,64.1 196.7,62.3 197.3,60.5 197.9,58.7 198.5,57.1 199.1,55.6 199.7,54.3 200.3,53.2 200.9,52.5 201.5,51.5 202.1,50.9 202.7,50.7 203.3,50.8 203.9,51.1 204.5,51.7 205.1,52.5 205.7,43.6 206.3,44.5 206.9,45.5 207.5,47.4 208.1,49.2 208.7,50.9 209.3,62.2 209.9,63.5 210.5,64.4 211.1,65.1 211.7,65.3 212.3,65.4 212.9,65.2 213.5,64.9 214.1,64.4 214.6,64.0" fill="none" stroke="#b9d1ec" stroke-width="0.6" stroke-opacity="0.22" stroke-linejoin="round"/>
<polyline points="32.9,52.6 33.5,52.6 34.1,52.6 34.7,52.6 35.3,52.6 35.9,52.6 36.5,52.6 37.1,52.6 37.7,52.6 38.3,52.6 38.9,52.5 39.5,52.5 40.1,52.5 40.7,52.5 41.3,52.5 41.9,52.6 42.5,52.7 43.1,52.8 43.7,53.0 44.3,53.2 44.9,53.4 45.5,53.5 46.1,53.5 46.7,53.3 47.3,53.0 47.9,52.5 48.5,52.2 49.1,51.8 49.7,51.4 50.3,51.0 50.9,50.5 51.5,50.0 52.1,49.4 52.7,49.0 53.3,48.6 53.9,48.3 54.5,48.3 55.1,48.4 55.7,48.6 56.3,48.9 56.9,49.3 57.5,49.9 58.1,50.5 58.7,51.2 59.3,48.6 59.9,49.2 60.5,49.9 61.1,50.5 61.7,51.1 62.3,51.7 62.9,52.2 63.5,53.1 64.1,54.0 64.7,58.7 65.3,59.5 65.9,60.2 66.5,60.8 67.1,61.2 67.7,61.6 68.3,61.9 68.9,62.1 69.5,61.3 70.1,60.4 70.7,59.4 71.3,58.3 71.9,57.2 72.5,51.4 73.1,50.1 73.7,48.8 74.3,47.4 74.9,46.0 75.5,45.5 76.1,45.1 76.7,44.7 77.3,44.4 77.9,44.2 78.5,44.2 79.1,44.3 79.7,49.7 80.3,50.2 80.9,50.8 81.5,51.1 82.1,51.5 82.7,52.1 83.3,52.7 83.9,53.3 84.5,54.1 85.1,54.8 85.7,55.6 86.3,56.3 86.9,51.1 87.5,51.4 88.1,51.6 88.7,51.6 89.3,51.4 89.9,51.0 90.5,50.3 91.1,49.4 91.7,48.3 92.3,47.0 92.9,45.6 93.5,45.0 94.1,44.4 94.7,43.7 95.3,43.1 95.9,49.2 96.5,48.9 97.1,48.7 97.7,48.7 98.3,49.0 98.9,49.5 99.5,49.5 100.1,49.7 100.7,50.1 101.3,50.5 101.9,51.1 102.5,51.8 103.1,52.4 103.7,53.0 104.3,53.5 104.9,54.0 105.5,54.0 106.1,53.9 106.7,46.4 107.3,45.8 107.9,44.9 108.5,43.9 109.1,42.7 109.7,41.5 110.3,40.2 110.9,38.9 111.5,38.7 112.1,38.6 112.7,38.7 113.3,39.0 113.9,39.5 114.5,40.2 115.1,48.5 115.7,49.7 116.3,51.0 116.9,52.4 117.5,52.8 118.1,53.3 118.7,53.8 119.3,54.3 119.9,54.8 120.5,47.7 121.1,48.0 121.7,48.3 122.3,48.4 122.9,48.4 123.5,48.0 124.1,47.5 124.7,46.9 125.3,46.2 125.9,45.4 126.5,44.6 127.1,43.8 127.7,42.9 128.3,42.1 128.9,41.3 129.5,41.5 130.1,41.8 130.7,42.1 131.3,42.4 131.9,42.8 132.5,43.2 133.1,43.6 133.7,44.0 134.3,44.5 134.9,45.1 135.5,45.6 136.1,46.1 136.7,46.8 137.3,47.6 137.9,48.5 138.5,49.5 139.1,50.7 139.7,60.0 140.3,61.4 140.9,62.7 141.5,63.9 142.1,64.9 142.7,65.9 143.3,66.8 143.9,67.5 144.5,68.0 145.1,68.3 145.7,68.3 146.3,68.1 146.9,67.8 147.5,66.9 148.1,65.8 148.7,64.7 149.3,63.5 149.9,62.2 150.5,60.9 151.1,59.7 151.7,58.6 152.3,57.6 152.9,56.8 153.5,56.3 154.1,56.2 154.7,56.4 155.3,57.1 155.9,58.0 156.5,59.3 157.1,60.7 157.7,62.3 158.3,63.9 158.9,65.5 159.5,67.3 160.1,68.9 160.7,70.2 161.3,71.3 161.9,72.0 162.5,72.2 163.1,71.9 163.7,71.2 164.3,70.2 164.9,69.0 165.5,67.1 166.1,65.1 166.7,63.1 167.3,61.2 167.9,59.5 168.5,58.0 169.1,48.0 169.7,47.2 170.3,46.9 170.9,47.0 171.5,48.5 172.1,59.1 172.7,61.1 173.3,63.3 173.9,65.6 174.5,67.9 175.1,70.1 175.7,72.2 176.3,73.9 176.9,75.4 177.5,75.5 178.1,75.0 178.7,74.1 179.3,72.7 179.9,71.1 180.5,69.2 181.1,67.2 181.7,65.1 182.3,63.2 182.9,61.3 183.5,60.2 184.1,59.4 184.7,59.1 185.3,59.2 185.9,59.7 186.5,60.6 187.1,61.7 187.7,62.9 188.3,64.3 188.9,65.7 189.5,67.0 190.1,68.3 190.7,69.3 191.3,70.1 191.9,70.5 192.5,70.5 193.1,70.0 193.7,69.2 194.3,68.1 194.9,66.7 195.5,64.3 196.1,61.9 196.7,59.3 197.3,47.2 197.9,44.6 198.5,42.2 199.1,39.9 199.7,37.8 200.3,36.0 200.9,34.5 201.5,34.1 202.1,34.2 202.7,34.7 203.3,35.5 203.9,36.6 204.5,37.9 205.1,39.3 205.7,40.9 206.3,42.5 206.9,44.2 207.5,46.5 208.1,48.8 208.7,50.9 209.3,62.7 209.9,64.4 210.5,65.8 211.1,66.9 211.7,67.6 212.3,68.1 212.9,68.3 213.5,67.0 214.1,65.6 214.6,64.4" fill="none" stroke="#b9d1ec" stroke-width="0.6" stroke-opacity="0.22" stroke-linejoin="round"/>
<polyline points="32.9,52.6 33.5,52.6 34.1,52.6 34.7,52.6 35.3,52.6 35.9,52.6 36.5,52.6 37.1,52.6 37.7,52.6 38.3,52.6 38.9,52.5 39.5,52.5 40.1,52.5 40.7,52.5 41.3,52.5 41.9,52.6 42.5,52.7 43.1,52.8 43.7,53.0 44.3,53.2 44.9,53.4 45.5,53.5 46.1,53.5 46.7,53.3 47.3,53.0 47.9,52.5 48.5,51.9 49.1,51.6 49.7,51.1 50.3,50.5 50.9,49.9 51.5,49.2 52.1,48.5 52.7,45.9 53.3,45.2 53.9,44.5 54.5,44.1 55.1,43.9 55.7,43.9 56.3,44.2 56.9,44.6 57.5,45.3 58.1,46.2 58.7,47.2 59.3,48.1 59.9,49.1 60.5,50.1 61.1,51.0 61.7,55.5 62.3,56.4 62.9,57.3 63.5,57.6 64.1,54.1 64.7,54.2 65.3,54.3 65.9,54.2 66.5,54.0 67.1,53.8 67.7,53.3 68.3,52.8 68.9,52.2 69.5,52.3 70.1,52.4 70.7,52.4 71.3,52.3 71.9,52.1 72.5,56.5 73.1,56.4 73.7,56.2 74.3,56.0 74.9,55.8 75.5,54.7 76.1,53.6 76.7,52.6 77.3,51.7 77.9,50.9 78.5,50.1 79.1,49.5 79.7,43.9 80.3,43.6 80.9,43.4 81.5,43.5 82.1,43.8 82.7,44.1 83.3,44.5 83.9,45.0 84.5,45.5 85.1,46.1 85.7,46.7 86.3,47.2 86.9,47.6 87.5,48.5 88.1,49.3 88.7,49.8 89.3,50.2 89.9,50.3 90.5,50.2 91.1,49.9 91.7,49.3 92.3,48.7 92.9,47.9 93.5,46.7 94.1,45.5 94.7,44.2 95.3,43.0 95.9,41.8 96.5,40.8 97.1,39.9 97.7,39.3 98.3,38.8 98.9,38.7 99.5,38.9 100.1,39.4 100.7,40.0 101.3,40.8 101.9,41.7 102.5,42.7 103.1,43.6 103.7,51.7 104.3,52.6 104.9,53.4 105.5,53.5 106.1,46.3 106.7,46.0 107.3,45.4 107.9,44.7 108.5,43.7 109.1,42.6 109.7,41.4 110.3,40.2 110.9,38.9 111.5,38.7 112.1,38.5 112.7,38.5 113.3,38.7 113.9,39.2 114.5,39.8 115.1,40.7 115.7,49.1 116.3,50.3 116.9,51.6 117.5,53.7 118.1,55.8 118.7,58.0 119.3,60.2 119.9,62.5 120.5,64.6 121.1,66.7 121.7,68.7 122.3,70.5 122.9,72.2 123.5,70.5 124.1,68.6 124.7,66.7 125.3,64.6 125.9,62.5 126.5,60.3 127.1,58.1 127.7,48.2 128.3,46.0 128.9,43.8 129.5,44.2 130.1,44.6 130.7,45.1 131.3,45.6 131.9,46.1 132.5,46.6 133.1,47.2 133.7,55.7 134.3,56.4 134.9,57.1 135.5,57.0 136.1,56.9 136.7,56.9 137.3,57.1 137.9,57.3 138.5,49.8 139.1,50.3 139.7,51.0 140.3,51.7 140.9,52.4 141.5,53.5 142.1,54.7 142.7,55.7 143.3,56.6 143.9,57.3 144.5,57.9 145.1,66.4 145.7,66.4 146.3,66.3 146.9,66.0 147.5,56.2 148.1,54.6 148.7,52.8 149.3,51.0 149.9,49.1 150.5,47.2 151.1,45.3 151.7,43.5 152.3,41.9 152.9,40.5 153.5,40.3 154.1,40.5 154.7,41.0 155.3,42.0 155.9,43.2 156.5,44.8 157.1,46.5 157.7,48.4 158.3,50.3 158.9,52.2 159.5,54.4 160.1,56.5 160.7,58.3 161.3,59.8 161.9,60.9 162.5,61.6 163.1,61.8 163.7,70.3 164.3,69.7 164.9,68.9 165.5,67.1 166.1,65.2 166.7,63.3 167.3,61.5 167.9,59.8 168.5,58.4 169.1,57.3 169.7,56.5 170.3,56.3 170.9,47.7 171.5,58.1 172.1,60.0 172.7,62.2 173.3,64.5 173.9,66.9 174.5,69.3 175.1,71.6 175.7,73.8 176.3,75.7 176.9,77.2 177.5,76.8 178.1,75.8 178.7,74.3 179.3,72.5 179.9,70.3 180.5,67.9 181.1,56.2 181.7,53.6 182.3,51.1 182.9,48.7 183.5,47.9 184.1,47.4 184.7,47.3 185.3,47.7 185.9,48.5 186.5,49.7 187.1,51.0 187.7,52.6 188.3,63.5 188.9,65.2 189.5,67.5 190.1,69.8 190.7,71.8 191.3,73.6 191.9,75.0 192.5,76.0 193.1,76.5 193.7,76.7 194.3,76.5 194.9,76.2 195.5,73.0 196.1,69.7 196.7,66.3 197.3,62.9 197.9,59.5 198.5,56.2 199.1,53.1 199.7,40.6 200.3,38.0 200.9,35.6 201.5,35.1 202.1,35.0 202.7,35.3 203.3,35.9 203.9,36.8 204.5,37.9 205.1,39.1 205.7,40.5 206.3,41.9 206.9,43.4 207.5,45.2 208.1,46.9 208.7,48.5 209.3,49.9 209.9,51.0 210.5,51.9 211.1,52.4 211.7,52.5 212.3,52.4 212.9,52.1 213.5,51.3 214.1,50.3 214.6,49.5" fill="none" stroke="#b9d1ec" stroke-width="0.6" stroke-opacity="0.22" stroke-linejoin="round"/>
<polyline points="32.9,52.6 33.5,52.6 34.1,52.6 34.7,52.6 35.3,52.6 35.9,52.6 36.5,52.6 37.1,52.6 37.7,52.6 38.3,52.6 38.9,52.5 39.5,52.5 40.1,52.5 40.7,52.5 41.3,52.5 41.9,52.6 42.5,52.7 43.1,52.8 43.7,53.0 44.3,53.2 44.9,53.4 45.5,53.5 46.1,53.5 46.7,53.3 47.3,53.0 47.9,52.5 48.5,51.9 49.1,51.1 49.7,51.0 50.3,50.4 50.9,49.9 51.5,49.4 52.1,49.1 52.7,48.9 53.3,48.9 53.9,49.1 54.5,49.6 55.1,50.3 55.7,51.0 56.3,51.8 56.9,52.8 57.5,53.3 58.1,54.0 58.7,54.6 59.3,55.3 59.9,56.0 60.5,56.7 61.1,57.3 61.7,57.9 62.3,58.4 62.9,58.9 63.5,58.9 64.1,58.8 64.7,58.6 65.3,54.5 65.9,54.0 66.5,53.5 67.1,52.8 67.7,52.0 68.3,51.1 68.9,50.0 69.5,50.1 70.1,50.1 70.7,50.0 71.3,49.8 71.9,49.6 72.5,49.4 73.1,49.1 73.7,48.8 74.3,48.5 74.9,48.2 75.5,47.2 76.1,46.3 76.7,45.4 77.3,44.7 77.9,44.0 78.5,43.4 79.1,43.0 79.7,42.7 80.3,42.6 80.9,42.6 81.5,43.3 82.1,44.1 82.7,45.0 83.3,45.9 83.9,47.0 84.5,53.7 85.1,54.9 85.7,56.1 86.3,57.2 86.9,58.3 87.5,58.8 88.1,59.2 88.7,59.3 89.3,59.3 89.9,59.0 90.5,58.4 91.1,57.7 91.7,50.5 92.3,49.3 92.9,48.0 93.5,53.8 94.1,53.1 94.7,52.5 95.3,51.9 95.9,51.3 96.5,50.9 97.1,50.7 97.7,50.6 98.3,50.8 98.9,51.3 99.5,51.2 100.1,51.4 100.7,51.8 101.3,52.3 101.9,52.8 102.5,53.5 103.1,54.1 103.7,54.7 104.3,55.2 104.9,55.6 105.5,56.2 106.1,56.5 106.7,56.6 107.3,56.5 107.9,56.2 108.5,55.7 109.1,55.1 109.7,54.4 110.3,53.7 110.9,53.0 111.5,52.1 112.1,51.3 112.7,50.6 113.3,50.1 113.9,49.8 114.5,49.6 115.1,49.7 115.7,50.0 116.3,50.3 116.9,50.8 117.5,51.5 118.1,52.3 118.7,53.1 119.3,54.0 119.9,54.8 120.5,55.5 121.1,56.2 121.7,56.8 122.3,49.7 122.9,50.0 123.5,50.3 124.1,58.2 124.7,58.4 125.3,58.4 125.9,58.4 126.5,58.3 127.1,58.2 127.7,58.2 128.3,58.1 128.9,58.0 129.5,58.2 130.1,58.4 130.7,58.6 131.3,58.8 131.9,59.1 132.5,59.4 133.1,59.7 133.7,60.1 134.3,60.5 134.9,60.9 135.5,60.8 136.1,60.6 136.7,60.6 137.3,60.7 137.9,61.0 138.5,61.3 139.1,61.9 139.7,62.5 140.3,63.1 140.9,63.8 141.5,64.4 142.1,65.0 142.7,65.5 143.3,65.9 143.9,66.1 144.5,66.1 145.1,57.7 145.7,57.2 146.3,56.5 146.9,55.6 147.5,55.5 148.1,55.3 148.7,63.3 149.3,62.9 149.9,62.5 150.5,62.0 151.1,61.6 151.7,61.3 152.3,61.2 152.9,61.2 153.5,60.4 154.1,59.9 154.7,59.7 155.3,60.0 155.9,60.5 156.5,61.4 157.1,62.5 157.7,63.7 158.3,64.9 158.9,66.1 159.5,67.6 160.1,68.9 160.7,70.0 161.3,70.8 161.9,71.2 162.5,71.1 163.1,70.6 163.7,61.0 164.3,59.6 164.9,58.1 165.5,56.2 166.1,54.2 166.7,52.2 167.3,50.2 167.9,48.5 168.5,46.9 169.1,45.7 169.7,44.9 170.3,44.5 170.9,44.7 171.5,45.7 172.1,47.0 172.7,48.5 173.3,50.2 173.9,52.0 174.5,53.9 175.1,55.6 175.7,57.1 176.3,58.5 176.9,59.4 177.5,59.8 178.1,59.8 178.7,59.2 179.3,58.2 179.9,56.9 180.5,55.4 181.1,53.8 181.7,52.1 182.3,50.5 182.9,49.0 183.5,47.0 184.1,45.3 184.7,44.0 185.3,43.2 185.9,42.7 186.5,42.7 187.1,42.8 187.7,43.1 188.3,43.5 188.9,44.0 189.5,46.8 190.1,49.4 190.7,51.9 191.3,54.0 191.9,55.9 192.5,57.2 193.1,58.2 193.7,68.2 194.3,68.5 194.9,68.6 195.5,66.7 196.1,64.7 196.7,62.6 197.3,60.5 197.9,58.4 198.5,56.4 199.1,54.6 199.7,53.0 200.3,51.6 200.9,50.6 201.5,49.8 202.1,49.5 202.7,49.5 203.3,49.9 203.9,50.5 204.5,51.4 205.1,52.4 205.7,43.8 206.3,45.0 206.9,46.2 207.5,48.1 208.1,59.8 208.7,61.6 209.3,63.1 209.9,64.5 210.5,65.5 211.1,66.1 211.7,66.5 212.3,66.5 212.9,66.4 213.5,65.3 214.1,64.1 214.6,63.1" fill="none" stroke="#b9d1ec" stroke-width="0.6" stroke-opacity="0.22" stroke-linejoin="round"/>
<polyline points="32.9,52.6 33.5,52.6 34.1,52.6 34.7,52.6 35.3,52.6 35.9,52.6 36.5,52.6 37.1,52.6 37.7,52.6 38.3,52.6 38.9,52.5 39.5,52.5 40.1,52.5 40.7,52.5 41.3,52.5 41.9,52.6 42.5,52.7 43.1,52.8 43.7,53.0 44.3,53.2 44.9,53.4 45.5,53.5 46.1,53.5 46.7,53.3 47.3,53.0 47.9,52.5 48.5,52.1 49.1,51.7 49.7,51.2 50.3,50.6 50.9,50.1 51.5,49.6 52.1,49.1 52.7,48.8 53.3,48.6 53.9,48.7 54.5,48.9 55.1,49.4 55.7,49.8 56.3,50.5 56.9,51.2 57.5,52.0 58.1,52.8 58.7,53.7 59.3,54.7 59.9,55.6 60.5,56.5 61.1,57.4 61.7,58.3 62.3,59.1 62.9,59.9 63.5,60.5 64.1,61.0 64.7,61.5 65.3,61.9 65.9,62.1 66.5,62.3 67.1,62.4 67.7,62.3 68.3,62.1 68.9,61.9 69.5,61.1 70.1,60.2 70.7,59.3 71.3,58.2 71.9,57.1 72.5,51.4 73.1,50.1 73.7,48.8 74.3,47.5 74.9,46.2 75.5,45.1 76.1,44.2 76.7,43.2 77.3,42.4 77.9,41.6 78.5,41.0 79.1,40.5 79.7,40.1 80.3,39.9 80.9,39.9 81.5,40.8 82.1,41.8 82.7,43.0 83.3,44.2 83.9,45.5 84.5,46.9 85.1,48.3 85.7,55.4 86.3,56.9 86.9,58.2 87.5,58.8 88.1,59.2 88.7,59.4 89.3,59.4 89.9,59.2 90.5,58.7 91.1,58.0 91.7,57.1 92.3,56.0 92.9,54.9 93.5,54.0 94.1,53.0 94.7,52.1 95.3,51.2 95.9,50.4 96.5,49.7 97.1,49.1 97.7,48.8 98.3,48.7 98.9,48.9 99.5,48.8 100.1,48.9 100.7,49.2 101.3,49.7 101.9,50.2 102.5,50.7 103.1,51.3 103.7,51.8 104.3,45.1 104.9,45.5 105.5,46.1 106.1,46.5 106.7,46.6 107.3,53.8 107.9,53.5 108.5,53.1 109.1,52.6 109.7,52.0 110.3,51.4 110.9,50.8 111.5,49.5 112.1,41.0 112.7,39.9 113.3,38.9 113.9,38.2 114.5,37.7 115.1,37.3 115.7,37.1 116.3,37.0 116.9,37.0 117.5,38.5 118.1,40.0 118.7,41.6 119.3,43.2 119.9,44.9 120.5,46.5 121.1,48.0 121.7,57.0 122.3,58.3 122.9,59.5 123.5,59.4 124.1,59.1 124.7,58.8 125.3,58.3 125.9,57.8 126.5,49.5 127.1,48.9 127.7,48.3 128.3,47.7 128.9,47.1 129.5,47.2 130.1,47.3 130.7,47.4 131.3,47.6 131.9,47.8 132.5,55.8 133.1,56.1 133.7,56.4 134.3,56.8 134.9,57.2 135.5,57.3 136.1,57.6 136.7,57.9 137.3,58.3 137.9,58.9 138.5,59.6 139.1,60.5 139.7,61.5 140.3,62.5 140.9,63.5 141.5,64.3 142.1,65.0 142.7,65.6 143.3,66.1 143.9,66.4 144.5,66.5 145.1,66.4 145.7,57.9 146.3,57.3 146.9,56.5 147.5,56.0 148.1,55.3 148.7,62.8 149.3,61.9 149.9,61.0 150.5,60.1 151.1,59.2 151.7,58.4 152.3,57.8 152.9,57.4 153.5,56.9 154.1,56.7 154.7,56.8 155.3,57.3 155.9,58.2 156.5,59.4 157.1,60.7 157.7,62.2 158.3,63.8 158.9,56.8 159.5,67.2 160.1,68.9 160.7,70.4 161.3,71.6 161.9,72.4 162.5,72.8 163.1,72.7 163.7,72.1 164.3,71.3 164.9,70.1 165.5,68.4 166.1,66.6 166.7,64.8 167.3,63.1 167.9,61.5 168.5,60.2 169.1,59.1 169.7,58.5 170.3,58.4 170.9,58.7 171.5,59.2 172.1,60.0 172.7,61.1 173.3,62.3 173.9,54.7 174.5,56.0 175.1,57.2 175.7,58.2 176.3,59.0 176.9,59.5 177.5,59.9 178.1,59.9 178.7,59.3 179.3,58.3 179.9,57.1 180.5,55.6 181.1,53.9 181.7,52.3 182.3,50.7 182.9,49.2 183.5,49.0 184.1,49.0 184.7,58.8 185.3,59.8 185.9,61.2 186.5,62.9 187.1,64.8 187.7,67.0 188.3,69.2 188.9,71.5 189.5,72.0 190.1,72.4 190.7,72.6 191.3,72.5 191.9,72.1 192.5,71.2 193.1,70.0 193.7,68.3 194.3,66.3 194.9,54.6 195.5,62.8 196.1,61.4 196.7,60.0 197.3,58.5 197.9,57.0 198.5,55.6 199.1,54.4 199.7,53.4 200.3,52.7 200.9,52.3 201.5,51.6 202.1,51.3 202.7,51.4 203.3,51.9 203.9,52.6 204.5,53.5 205.1,54.6 205.7,55.8 206.3,57.1 206.9,58.4 207.5,59.5 208.1,60.5 208.7,61.4 209.3,62.0 209.9,52.6 210.5,52.7 211.1,52.4 211.7,51.9 212.3,51.1 212.9,50.0 213.5,49.1 214.1,48.1 214.6,47.2" fill="none" stroke="#b9d1ec" stroke-width="0.6" stroke-opacity="0.22" stroke-linejoin="round"/>
<polyline points="32.9,52.6 33.5,52.6 34.1,52.6 34.7,52.6 35.3,52.6 35.9,52.6 36.5,52.6 37.1,52.6 37.7,52.6 38.3,52.6 38.9,52.5 39.5,52.5 40.1,52.5 40.7,52.5 41.3,52.5 41.9,52.6 42.5,52.7 43.1,52.8 43.7,53.0 44.3,53.2 44.9,53.4 45.5,53.5 46.1,53.5 46.7,53.3 47.3,53.0 47.9,52.5 48.5,51.8 49.1,50.9 49.7,50.0 50.3,48.9 50.9,47.7 51.5,46.7 52.1,45.7 52.7,44.9 53.3,44.1 53.9,43.6 54.5,43.3 55.1,43.2 55.7,43.6 56.3,44.0 56.9,44.7 57.5,45.4 58.1,46.2 58.7,47.1 59.3,48.0 59.9,48.9 60.5,49.7 61.1,50.6 61.7,51.4 62.3,52.2 62.9,53.0 63.5,57.6 64.1,58.5 64.7,59.3 65.3,60.0 65.9,60.6 66.5,61.1 67.1,61.6 67.7,61.9 68.3,62.1 68.9,62.2 69.5,61.2 70.1,60.0 70.7,58.8 71.3,57.5 71.9,51.7 72.5,50.2 73.1,48.7 73.7,47.1 74.3,45.5 74.9,43.8 75.5,43.6 76.1,43.3 76.7,43.1 77.3,43.0 77.9,43.1 78.5,43.2 79.1,43.5 79.7,44.0 80.3,49.8 80.9,50.7 81.5,50.9 82.1,51.2 82.7,51.6 83.3,52.1 83.9,47.1 84.5,47.7 85.1,48.3 85.7,48.9 86.3,49.5 86.9,49.9 87.5,50.7 88.1,51.4 88.7,51.9 89.3,52.2 89.9,52.2 90.5,58.2 91.1,57.8 91.7,57.3 92.3,56.6 92.9,55.8 93.5,54.5 94.1,53.1 94.7,51.7 95.3,50.4 95.9,42.5 96.5,41.3 97.1,40.2 97.7,39.4 98.3,38.7 98.9,38.4 99.5,38.7 100.1,39.3 100.7,40.0 101.3,40.9 101.9,41.8 102.5,50.0 103.1,51.0 103.7,52.1 104.3,53.1 104.9,54.0 105.5,54.9 106.1,55.6 106.7,56.1 107.3,56.3 107.9,56.4 108.5,56.3 109.1,56.1 109.7,55.8 110.3,55.5 110.9,55.2 111.5,54.2 112.1,53.2 112.7,52.4 113.3,51.7 113.9,51.2 114.5,51.0 115.1,50.9 115.7,51.0 116.3,51.1 116.9,51.4 117.5,52.3 118.1,53.2 118.7,54.2 119.3,55.1 119.9,56.0 120.5,56.9 121.1,57.7 121.7,58.4 122.3,59.0 122.9,59.4 123.5,59.7 124.1,59.7 124.7,59.7 125.3,59.6 125.9,59.4 126.5,59.2 127.1,58.9 127.7,58.6 128.3,58.4 128.9,58.1 129.5,57.5 130.1,56.8 130.7,56.2 131.3,47.8 131.9,47.2 132.5,46.7 133.1,46.2 133.7,45.7 134.3,45.2 134.9,44.8 135.5,45.5 136.1,46.2 136.7,46.9 137.3,47.9 137.9,48.9 138.5,58.1 139.1,59.4 139.7,60.9 140.3,62.3 140.9,63.9 141.5,64.5 142.1,65.2 142.7,65.7 143.3,66.1 143.9,66.4 144.5,66.4 145.1,66.3 145.7,57.7 146.3,57.0 146.9,56.2 147.5,55.2 148.1,54.1 148.7,52.9 149.3,51.6 149.9,50.3 150.5,48.9 151.1,47.6 151.7,46.4 152.3,45.3 152.9,44.5 153.5,44.4 154.1,44.6 154.7,45.2 155.3,46.1 155.9,47.5 156.5,49.0 157.1,50.8 157.7,52.7 158.3,54.7 158.9,56.7 159.5,58.2 160.1,59.5 160.7,60.6 161.3,61.4 161.9,61.8 162.5,61.8 163.1,61.2 163.7,60.3 164.3,59.0 164.9,57.5 165.5,56.3 166.1,54.9 166.7,62.4 167.3,61.1 167.9,60.0 168.5,59.2 169.1,58.7 169.7,58.5 170.3,58.9 170.9,59.7 171.5,60.3 172.1,61.2 172.7,62.4 173.3,63.7 173.9,65.1 174.5,66.5 175.1,67.9 175.7,69.0 176.3,69.9 176.9,61.5 177.5,61.8 178.1,61.5 178.7,60.8 179.3,59.7 179.9,58.2 180.5,56.5 181.1,54.7 181.7,52.9 182.3,51.1 182.9,49.4 183.5,49.1 184.1,49.0 184.7,58.6 185.3,59.4 185.9,60.7 186.5,62.3 187.1,64.1 187.7,66.1 188.3,68.2 188.9,70.3 189.5,71.4 190.1,72.3 190.7,73.1 191.3,73.6 191.9,73.7 192.5,73.4 193.1,72.7 193.7,71.6 194.3,70.1 194.9,68.5 195.5,66.9 196.1,65.2 196.7,63.4 197.3,61.5 197.9,59.7 198.5,58.0 199.1,56.5 199.7,55.2 200.3,54.1 200.9,53.4 201.5,52.7 202.1,52.4 202.7,52.5 203.3,52.9 203.9,53.6 204.5,54.5 205.1,55.5 205.7,56.7 206.3,58.0 206.9,59.2 207.5,60.4 208.1,61.5 208.7,62.5 209.3,63.3 209.9,63.8 210.5,64.0 211.1,63.9 211.7,63.4 212.3,52.8 212.9,51.8 213.5,50.9 214.1,49.8 214.6,48.8" fill="none" stroke="#b9d1ec" stroke-width="0.6" stroke-opacity="0.22" stroke-linejoin="round"/>
<polyline points="32.9,52.6 33.5,52.6 34.1,52.6 34.7,52.6 35.3,52.6 35.9,52.6 36.5,52.6 37.1,52.6 37.7,52.6 38.3,52.6 38.9,52.5 39.5,52.5 40.1,52.5 40.7,52.5 41.3,52.5 41.9,52.6 42.5,52.7 43.1,52.8 43.7,53.0 44.3,53.2 44.9,53.4 45.5,53.5 46.1,53.5 46.7,53.3 47.3,53.0 47.9,52.5 48.5,51.8 49.1,50.9 49.7,49.9 50.3,48.7 50.9,47.6 51.5,46.6 52.1,45.7 52.7,44.9 53.3,44.3 53.9,43.8 54.5,43.6 55.1,43.7 55.7,44.2 56.3,44.8 56.9,45.5 57.5,46.0 58.1,46.5 58.7,47.0 59.3,47.6 59.9,48.2 60.5,48.8 61.1,49.4 61.7,49.9 62.3,50.3 62.9,50.7 63.5,51.6 64.1,52.4 64.7,53.1 65.3,53.7 65.9,54.2 66.5,54.7 67.1,55.0 67.7,55.2 68.3,59.5 68.9,59.6 69.5,59.0 70.1,54.0 70.7,53.2 71.3,52.3 71.9,51.4 72.5,50.4 73.1,49.4 73.7,48.3 74.3,47.2 74.9,46.1 75.5,45.3 76.1,44.5 76.7,43.7 77.3,43.1 77.9,42.5 78.5,42.1 79.1,41.8 79.7,41.6 80.3,41.7 80.9,41.8 81.5,42.5 82.1,43.2 82.7,44.1 83.3,45.0 83.9,46.0 84.5,47.1 85.1,48.2 85.7,49.3 86.3,50.4 86.9,57.2 87.5,57.8 88.1,58.3 88.7,58.6 89.3,58.7 89.9,58.5 90.5,58.1 91.1,51.3 91.7,50.4 92.3,49.4 92.9,48.2 93.5,46.7 94.1,45.1 94.7,43.5 95.3,42.0 95.9,40.5 96.5,39.1 97.1,37.9 97.7,36.8 98.3,36.0 98.9,35.5 99.5,36.2 100.1,37.1 100.7,38.2 101.3,39.4 101.9,40.8 102.5,42.2 103.1,50.8 103.7,52.3 104.3,53.7 104.9,55.1 105.5,56.1 106.1,56.8 106.7,57.4 107.3,57.7 107.9,57.9 108.5,57.9 109.1,57.8 109.7,57.6 110.3,57.4 110.9,57.2 111.5,55.4 112.1,53.6 112.7,51.9 113.3,50.4 113.9,49.1 114.5,40.5 115.1,39.5 115.7,38.6 116.3,37.8 116.9,37.1 117.5,39.1 118.1,41.1 118.7,43.3 119.3,45.4 119.9,55.1 120.5,57.3 121.1,59.4 121.7,61.4 122.3,63.3 122.9,65.0 123.5,64.2 124.1,63.3 124.7,62.3 125.3,61.2 125.9,60.1 126.5,58.8 127.1,57.6 127.7,48.6 128.3,47.4 128.9,46.1 129.5,46.0 130.1,45.9 130.7,45.7 131.3,45.7 131.9,45.6 132.5,45.6 133.1,45.6 133.7,45.6 134.3,45.7 134.9,45.9 135.5,46.1 136.1,46.4 136.7,46.8 137.3,47.3 137.9,48.0 138.5,48.8 139.1,49.7 139.7,50.7 140.3,51.8 140.9,52.9 141.5,53.4 142.1,53.8 142.7,54.1 143.3,54.3 143.9,54.3 144.5,54.2 145.1,53.8 145.7,53.1 146.3,52.3 146.9,51.2 147.5,51.6 148.1,51.8 148.7,52.0 149.3,52.0 149.9,52.0 150.5,60.3 151.1,60.4 151.7,60.5 152.3,60.8 152.9,61.3 153.5,60.6 154.1,60.2 154.7,60.2 155.3,60.5 155.9,61.2 156.5,62.2 157.1,63.3 157.7,64.6 158.3,66.0 158.9,67.3 159.5,68.4 160.1,69.3 160.7,70.0 161.3,61.8 161.9,61.8 162.5,61.3 163.1,60.4 163.7,59.0 164.3,57.3 164.9,55.4 165.5,54.0 166.1,52.4 166.7,50.9 167.3,49.4 167.9,48.1 168.5,47.1 169.1,46.3 169.7,46.0 170.3,46.1 170.9,46.8 171.5,47.1 172.1,47.8 172.7,48.8 173.3,50.0 173.9,51.2 174.5,52.4 175.1,53.5 175.7,54.5 176.3,55.2 176.9,55.6 177.5,56.5 178.1,57.0 178.7,56.9 179.3,56.4 179.9,55.6 180.5,54.6 181.1,53.4 181.7,52.3 182.3,51.1 182.9,50.2 183.5,49.5 184.1,49.2 184.7,58.5 185.3,59.0 185.9,60.0 186.5,61.3 187.1,62.9 187.7,64.6 188.3,66.4 188.9,68.2 189.5,68.4 190.1,68.5 190.7,68.4 191.3,58.6 191.9,57.8 192.5,56.7 193.1,55.0 193.7,53.0 194.3,50.7 194.9,48.2 195.5,47.0 196.1,45.6 196.7,44.2 197.3,42.8 197.9,41.4 198.5,40.1 199.1,38.9 199.7,38.0 200.3,37.3 200.9,36.9 201.5,36.7 202.1,36.9 202.7,37.5 203.3,38.4 203.9,39.5 204.5,40.9 205.1,42.5 205.7,53.9 206.3,55.6 206.9,57.4 207.5,59.2 208.1,61.0 208.7,62.6 209.3,64.0 209.9,65.2 210.5,66.0 211.1,66.6 211.7,66.8 212.3,66.7 212.9,66.4 213.5,65.7 214.1,64.9 214.6,64.1" fill="none" stroke="#b9d1ec" stroke-width="0.6" stroke-opacity="0.22" stroke-linejoin="round"/>
<polyline points="32.9,52.6 33.5,52.6 34.1,52.6 34.7,52.6 35.3,52.6 35.9,52.6 36.5,52.6 37.1,52.6 37.7,52.6 38.3,52.6 38.9,52.5 39.5,52.5 40.1,52.5 40.7,52.5 41.3,52.5 41.9,52.6 42.5,52.7 43.1,52.8 43.7,53.0 44.3,53.2 44.9,53.4 45.5,53.5 46.1,53.5 46.7,53.3 47.3,53.0 47.9,52.5 48.5,51.9 49.1,51.1 49.7,50.2 50.3,49.3 50.9,48.3 51.5,47.3 52.1,46.4 52.7,45.6 53.3,44.9 53.9,44.4 54.5,44.0 55.1,43.9 55.7,44.2 56.3,44.6 56.9,45.1 57.5,46.0 58.1,46.9 58.7,51.3 59.3,52.4 59.9,53.5 60.5,54.6 61.1,55.6 61.7,56.7 62.3,57.7 62.9,58.6 63.5,59.4 64.1,60.1 64.7,60.7 65.3,61.3 65.9,61.7 66.5,62.1 67.1,62.3 67.7,62.4 68.3,62.4 68.9,62.3 69.5,61.8 70.1,61.1 70.7,60.4 71.3,59.6 71.9,58.7 72.5,57.8 73.1,56.8 73.7,55.8 74.3,54.8 74.9,53.7 75.5,52.9 76.1,52.1 76.7,51.3 77.3,50.7 77.9,50.1 78.5,44.6 79.1,44.2 79.7,44.0 80.3,44.0 80.9,44.1 81.5,44.6 82.1,45.2 82.7,51.4 83.3,52.3 83.9,53.2 84.5,54.2 85.1,55.3 85.7,56.3 86.3,57.3 86.9,58.2 87.5,58.3 88.1,58.3 88.7,52.1 89.3,51.6 89.9,50.9 90.5,49.9 91.1,48.7 91.7,47.3 92.3,45.7 92.9,44.0 93.5,43.3 94.1,42.5 94.7,41.7 95.3,40.9 95.9,40.3 96.5,39.7 97.1,39.3 97.7,39.1 98.3,39.2 98.9,39.5 99.5,39.4 100.1,39.5 100.7,39.7 101.3,40.1 101.9,40.6 102.5,41.1 103.1,41.6 103.7,42.1 104.3,42.5 104.9,42.8 105.5,44.2 106.1,45.5 106.7,46.6 107.3,54.7 107.9,55.4 108.5,56.0 109.1,56.6 109.7,57.0 110.3,57.5 110.9,57.9 111.5,56.8 112.1,55.7 112.7,54.8 113.3,54.0 113.9,53.4 114.5,52.9 115.1,52.7 115.7,52.6 116.3,52.7 116.9,52.8 117.5,53.4 118.1,54.1 118.7,54.8 119.3,55.5 119.9,56.2 120.5,56.8 121.1,57.3 121.7,57.8 122.3,58.1 122.9,58.3 123.5,58.4 124.1,58.4 124.7,58.2 125.3,58.0 125.9,50.0 126.5,49.6 127.1,49.3 127.7,48.9 128.3,48.5 128.9,48.1 129.5,47.0 130.1,45.8 130.7,44.7 131.3,43.6 131.9,42.6 132.5,41.5 133.1,40.5 133.7,39.6 134.3,38.7 134.9,37.8 135.5,39.2 136.1,40.7 136.7,42.2 137.3,43.9 137.9,45.7 138.5,47.7 139.1,49.8 139.7,60.0 140.3,62.2 140.9,64.5 141.5,65.9 142.1,67.2 142.7,68.4 143.3,69.5 143.9,70.4 144.5,71.1 145.1,71.6 145.7,71.9 146.3,71.9 146.9,71.7 147.5,70.1 148.1,68.3 148.7,66.4 149.3,64.4 149.9,62.4 150.5,60.4 151.1,50.1 151.7,48.1 152.3,46.4 152.9,44.8 153.5,45.0 154.1,45.5 154.7,46.3 155.3,47.5 155.9,49.1 156.5,59.4 157.1,61.4 157.7,63.6 158.3,65.9 158.9,68.1 159.5,69.7 160.1,71.1 160.7,72.3 161.3,73.2 161.9,73.7 162.5,73.8 163.1,73.4 163.7,72.6 164.3,71.4 164.9,70.0 165.5,67.5 166.1,64.9 166.7,62.2 167.3,51.0 167.9,48.6 168.5,46.4 169.1,44.5 169.7,43.1 170.3,42.1 170.9,41.7 171.5,43.5 172.1,45.7 172.7,48.2 173.3,50.8 173.9,53.5 174.5,56.3 175.1,67.8 175.7,70.3 176.3,72.5 176.9,74.4 177.5,75.1 178.1,75.2 178.7,74.9 179.3,74.1 179.9,73.0 180.5,71.7 181.1,70.3 181.7,68.8 182.3,67.4 182.9,66.1 183.5,64.5 184.1,63.2 184.7,62.4 185.3,62.0 185.9,62.0 186.5,62.3 187.1,62.9 187.7,63.7 188.3,64.5 188.9,65.4 189.5,66.5 190.1,67.6 190.7,68.4 191.3,68.9 191.9,69.1 192.5,68.9 193.1,68.2 193.7,57.8 194.3,56.4 194.9,54.8 195.5,62.9 196.1,61.4 196.7,59.8 197.3,58.2 197.9,56.7 198.5,55.2 199.1,53.9 199.7,52.8 200.3,52.0 200.9,51.5 201.5,50.1 202.1,49.1 202.7,48.6 203.3,38.6 203.9,38.6 204.5,38.8 205.1,39.2 205.7,39.7 206.3,40.3 206.9,40.9 207.5,43.0 208.1,45.0 208.7,46.9 209.3,48.6 209.9,50.0 210.5,51.2 211.1,52.0 211.7,52.4 212.3,52.6 212.9,62.6 213.5,62.1 214.1,61.6 214.6,61.1" fill="none" stroke="#b9d1ec" stroke-width="0.6" stroke-opacity="0.22" stroke-linejoin="round"/>
<polyline points="32.9,52.6 33.5,52.6 34.1,52.6 34.7,52.6 35.3,52.6 35.9,52.6 36.5,52.6 37.1,52.6 37.7,52.6 38.3,52.6 38.9,52.5 39.5,52.5 40.1,52.5 40.7,52.5 41.3,52.5 41.9,52.6 42.5,52.7 43.1,52.8 43.7,53.0 44.3,53.2 44.9,53.4 45.5,53.5 46.1,53.5 46.7,53.3 47.3,53.0 47.9,52.5 48.5,51.7 49.1,50.7 49.7,49.6 50.3,48.5 50.9,47.2 51.5,46.2 52.1,45.2 52.7,44.4 53.3,43.8 53.9,43.4 54.5,43.2 55.1,43.4 55.7,43.9 56.3,44.6 56.9,45.4 57.5,45.9 58.1,46.5 58.7,47.2 59.3,47.9 59.9,48.5 60.5,49.2 61.1,49.8 61.7,50.4 62.3,51.0 62.9,51.5 63.5,52.3 64.1,53.0 64.7,53.7 65.3,54.3 65.9,54.8 66.5,55.2 67.1,55.4 67.7,59.7 68.3,59.8 68.9,59.9 69.5,59.3 70.1,58.6 70.7,53.4 71.3,52.5 71.9,51.6 72.5,50.6 73.1,49.5 73.7,48.4 74.3,47.3 74.9,46.2 75.5,45.8 76.1,45.4 76.7,45.1 77.3,45.0 77.9,44.9 78.5,50.0 79.1,50.2 79.7,50.6 80.3,51.2 80.9,51.9 81.5,52.0 82.1,52.1 82.7,52.4 83.3,52.7 83.9,53.1 84.5,48.0 85.1,48.4 85.7,48.8 86.3,49.2 86.9,49.5 87.5,50.3 88.1,51.0 88.7,51.5 89.3,51.9 89.9,51.9 90.5,51.8 91.1,57.6 91.7,57.1 92.3,56.4 92.9,55.6 93.5,54.3 94.1,52.9 94.7,51.5 95.3,43.6 95.9,42.3 96.5,41.1 97.1,40.0 97.7,39.1 98.3,38.5 98.9,38.1 99.5,38.3 100.1,38.7 100.7,39.3 101.3,40.0 101.9,40.8 102.5,41.7 103.1,42.6 103.7,43.4 104.3,44.2 104.9,44.9 105.5,45.8 106.1,46.6 106.7,54.3 107.3,54.6 107.9,54.7 108.5,54.7 109.1,54.6 109.7,54.4 110.3,54.2 110.9,54.0 111.5,53.0 112.1,52.1 112.7,51.3 113.3,50.7 113.9,50.3 114.5,50.1 115.1,50.1 115.7,50.3 116.3,50.5 116.9,50.9 117.5,51.5 118.1,52.1 118.7,52.8 119.3,46.0 119.9,46.6 120.5,47.2 121.1,47.7 121.7,48.1 122.3,48.4 122.9,48.5 123.5,48.4 124.1,48.2 124.7,47.8 125.3,47.3 125.9,46.8 126.5,46.2 127.1,45.7 127.7,45.1 128.3,44.5 128.9,43.9 129.5,44.6 130.1,45.4 130.7,46.2 131.3,47.0 131.9,47.8 132.5,56.5 133.1,57.4 133.7,58.4 134.3,59.4 134.9,60.4 135.5,60.3 136.1,60.4 136.7,60.5 137.3,60.7 137.9,61.1 138.5,61.6 139.1,62.2 139.7,63.0 140.3,63.8 140.9,64.6 141.5,65.2 142.1,65.7 142.7,66.1 143.3,66.4 143.9,66.5 144.5,66.5 145.1,58.0 145.7,57.4 146.3,56.7 146.9,55.7 147.5,55.2 148.1,54.6 148.7,53.8 149.3,53.0 149.9,52.2 150.5,59.6 151.1,58.8 151.7,58.0 152.3,57.5 152.9,57.1 153.5,56.2 154.1,47.2 154.7,46.9 155.3,47.1 155.9,47.6 156.5,48.3 157.1,49.3 157.7,50.4 158.3,51.6 158.9,52.7 159.5,54.3 160.1,55.7 160.7,56.9 161.3,57.7 161.9,58.2 162.5,58.3 163.1,57.8 163.7,57.0 164.3,55.8 164.9,54.3 165.5,52.8 166.1,51.2 166.7,49.5 167.3,47.9 167.9,46.5 168.5,45.3 169.1,44.5 169.7,44.0 170.3,44.0 170.9,44.6 171.5,45.9 172.1,47.6 172.7,49.5 173.3,51.6 173.9,53.8 174.5,56.0 175.1,58.1 175.7,69.0 176.3,70.7 176.9,72.1 177.5,72.6 178.1,72.5 178.7,72.0 179.3,71.0 179.9,69.7 180.5,68.2 181.1,66.6 181.7,64.9 182.3,63.4 182.9,61.9 183.5,60.3 184.1,59.1 184.7,49.0 185.3,48.7 185.9,48.7 186.5,49.1 187.1,49.7 187.7,50.4 188.3,51.3 188.9,52.2 189.5,54.0 190.1,55.7 190.7,57.3 191.3,58.5 191.9,59.4 192.5,69.3 193.1,69.3 193.7,69.0 194.3,68.4 194.9,67.5 195.5,65.8 196.1,64.0 196.7,62.1 197.3,60.2 197.9,58.3 198.5,56.5 199.1,54.9 199.7,53.4 200.3,52.3 200.9,51.5 201.5,50.8 202.1,50.5 202.7,50.6 203.3,51.0 203.9,51.7 204.5,52.7 205.1,53.7 205.7,54.9 206.3,56.2 206.9,57.5 207.5,59.3 208.1,61.1 208.7,62.7 209.3,64.1 209.9,65.2 210.5,66.1 211.1,66.6 211.7,66.7 212.3,66.7 212.9,66.4 213.5,65.0 214.1,63.5 214.6,62.3" fill="none" stroke="#b9d1ec" stroke-width="0.6" stroke-opacity="0.22" stroke-linejoin="round"/>
<polyline points="48.0,52.0 48.5,51.3 49.0,50.7 49.5,50.0 50.0,49.4 50.5,48.8 51.0,48.2 51.5,47.6 52.0,47.1 52.5,46.5 53.0,46.0 53.5,45.5 54.0,45.0 54.5,44.5 55.0,44.0 55.5,43.5 56.0,43.0 56.5,42.5 57.0,41.9 57.5,41.4 58.0,41.0 58.5,40.6 59.0,40.3 59.5,40.1 60.0,40.0 60.5,40.1 61.0,40.3 61.5,40.6 62.0,41.0 62.5,41.5 63.0,42.0 63.5,42.5 64.0,43.0 64.5,43.4 65.0,43.7 65.5,43.9 66.0,44.0 66.5,44.0 67.0,44.0 67.5,44.0 68.0,44.0 68.5,44.0 69.0,44.0 69.5,44.0 70.0,44.0 70.5,43.7 71.0,43.1 71.5,42.1 72.0,40.9 72.5,39.7 73.0,38.5 73.5,37.6 74.0,37.0 74.5,36.6 75.0,36.2 75.5,35.9 76.0,35.6 76.5,35.4 77.0,35.2 77.5,35.0 78.0,35.0 78.5,35.1 79.0,35.4 79.5,35.9 80.0,36.6 80.5,37.3 81.0,38.1 81.5,38.9 82.0,39.7 82.5,40.5 83.0,41.1 83.5,41.6 84.0,42.0 84.5,42.3 85.0,42.5 85.5,42.8 86.0,43.0 86.5,43.2 87.0,43.4 87.5,43.6 88.0,43.7 88.5,43.8 89.0,43.9 89.5,44.0 90.0,44.0 90.5,43.8 91.0,43.4 91.5,42.6 92.0,41.7 92.5,40.7 93.0,39.6 93.5,38.4 94.0,37.3 94.5,36.2 95.0,35.3 95.5,34.5 96.0,34.0 96.5,33.6 97.0,33.3 97.5,32.9 98.0,32.6 98.5,32.4 99.0,32.2 99.5,32.0 100.0,32.0 100.5,32.3 101.0,33.2 101.5,34.5 102.0,36.0 102.5,37.5 103.0,38.8 103.5,39.7 104.0,40.0 104.5,40.0 105.0,40.0 105.5,40.0 106.0,40.0 106.5,40.0 107.0,40.0 107.5,40.0 108.0,40.0 108.5,39.9 109.0,39.7 109.5,39.4 110.0,39.0 110.5,38.5 111.0,37.9 111.5,37.2 112.0,36.5 112.5,35.7 113.0,34.9 113.5,34.1" fill="none" stroke="#b9d1ec" stroke-width="0.8" stroke-opacity="0.3" stroke-linejoin="round"/>
<polyline points="108.0,40.0 108.5,39.6 109.0,39.1 109.5,38.6 110.0,38.1 110.5,37.6 111.0,37.1 111.5,36.5 112.0,35.9 112.5,35.3 113.0,34.7 113.5,34.0 114.0,33.3 114.5,32.6 115.0,31.7 115.5,30.8 116.0,29.9 116.5,29.1 117.0,28.3 117.5,27.6 118.0,27.0 118.5,26.5 119.0,26.0 119.5,25.5 120.0,25.0 120.5,24.5 121.0,24.1 121.5,23.6 122.0,23.3 122.5,22.9 123.0,22.6 123.5,22.4 124.0,22.3 124.5,22.2 125.0,24.5 125.5,33.7 126.0,40.0 126.5,41.0 127.0,41.9 127.5,42.5 128.0,43.1 128.5,43.5 129.0,43.8 129.5,43.9 130.0,44.0 130.5,44.0 131.0,44.0 131.5,43.9 132.0,43.9 132.5,43.8 133.0,43.7 133.5,43.6 134.0,43.5 134.5,43.4 135.0,43.3 135.5,43.2 136.0,43.1 136.5,42.9 137.0,42.8 137.5,42.7 138.0,42.5 138.5,42.4 139.0,42.3 139.5,42.1 140.0,42.0 140.5,41.9 141.0,41.7 141.5,41.5 142.0,41.4 142.5,41.2 143.0,41.0 143.5,40.8 144.0,40.6 144.5,40.4 145.0,40.2 145.5,40.0 146.0,39.8 146.5,39.6 147.0,39.5 147.5,39.3 148.0,39.2 148.5,39.0 149.0,38.9 149.5,38.8 150.0,38.7 150.5,38.6 151.0,38.5 151.5,38.4 152.0,38.3 152.5,38.2 153.0,38.1 153.5,38.1 154.0,38.0 154.5,38.0 155.0,38.0 155.5,38.1 156.0,38.3 156.5,38.7 157.0,39.2 157.5,39.7 158.0,40.3 158.5,40.9 159.0,41.4 159.5,41.9 160.0,42.4 160.5,42.7 161.0,42.9 161.5,43.0 162.0,42.6 162.5,41.6 163.0,40.4 163.5,38.9 164.0,37.4 164.5,36.1 165.0,35.0 165.5,34.1 166.0,33.1 166.5,32.1 167.0,31.2 167.5,30.4 168.0,29.8 168.5,29.5 169.0,29.6 169.5,30.0 170.0,30.8 170.5,31.8 171.0,33.0 171.5,34.3 172.0,35.6 172.5,36.8 173.0,38.0 173.5,39.2 174.0,40.6 174.5,42.1 175.0,43.7 175.5,45.2 176.0,46.5 176.5,47.5 177.0,48.2 177.5,48.5 178.0,48.2 178.5,47.5 179.0,46.3 179.5,45.0 180.0,43.6 180.5,42.2 181.0,40.9 181.5,40.0 182.0,39.2 182.5,38.4 183.0,37.6 183.5,36.9 184.0,36.3 184.5,35.8 185.0,35.5 185.5,35.5 186.0,35.9 186.5,36.5 187.0,37.3 187.5,38.2 188.0,39.2 188.5,40.0 189.0,40.9 189.5,41.9 190.0,43.0 190.5,44.1 191.0,45.1 191.5,45.8 192.0,46.2 192.5,46.0 193.0,45.1 193.5,43.7 194.0,41.7 194.5,39.6 195.0,37.5 195.5,35.6 196.0,34.0 196.5,32.6 197.0,31.2 197.5,29.7 198.0,28.5 198.5,27.5 199.0,27.0 199.5,27.1 200.0,27.5 200.5,28.2 201.0,29.1 201.5,30.3 202.0,31.7 202.5,33.1 203.0,34.6 203.5,36.1 204.0,37.5 204.5,38.8 205.0,40.0 205.5,41.2 206.0,42.5 206.5,43.8 207.0,45.2 207.5,46.6 208.0,47.9 208.5,49.0 209.0,50.0 209.5,50.8 210.0,51.3 210.5,51.5 211.0,51.4 211.5,51.2 212.0,50.9 212.5,50.4 213.0,49.8 213.5,49.0 214.0,48.0 214.5,46.8 215.0,45.5" fill="none" stroke="#b9d1ec" stroke-width="0.8" stroke-opacity="0.75" stroke-linejoin="round"/>
<polyline points="126.0,46.0 126.5,45.6 127.0,45.3 127.5,45.0 128.0,44.7 128.5,44.4 129.0,44.1 129.5,43.9 130.0,43.7 130.5,43.5 131.0,43.3 131.5,43.2 132.0,43.1 132.5,43.0 133.0,43.0 133.5,43.0 134.0,43.1 134.5,43.1 135.0,43.2 135.5,43.3 136.0,43.4 136.5,43.5 137.0,43.6 137.5,43.7 138.0,43.8 138.5,43.9 139.0,43.9 139.5,44.0 140.0,44.0 140.5,44.0 141.0,43.9 141.5,43.9 142.0,43.8 142.5,43.7 143.0,43.6 143.5,43.4 144.0,43.3 144.5,43.2 145.0,43.0 145.5,42.9 146.0,42.7 146.5,42.5 147.0,42.4 147.5,42.3 148.0,42.1 148.5,42.0 149.0,41.9 149.5,41.8 150.0,41.7 150.5,41.6 151.0,41.5 151.5,41.4 152.0,41.3 152.5,41.2 153.0,41.2 153.5,41.1 154.0,41.0 154.5,41.0 155.0,41.0 155.5,41.1 156.0,41.3 156.5,41.7 157.0,42.2 157.5,42.7 158.0,43.3 158.5,43.9 159.0,44.4 159.5,44.9 160.0,45.4 160.5,45.7 161.0,45.9 161.5,46.0 162.0,45.5 162.5,44.6 163.0,43.3 163.5,41.8 164.0,40.4 164.5,39.0 165.0,38.0 165.5,37.2 166.0,36.3 166.5,35.4 167.0,34.6 167.5,33.9 168.0,33.4 168.5,33.1 169.0,33.0 169.5,33.3 170.0,34.0 170.5,34.9 171.0,36.1 171.5,37.3 172.0,38.6 172.5,39.9 173.0,41.0 173.5,42.2 174.0,43.5 174.5,45.0 175.0,46.5 175.5,47.9 176.0,49.1 176.5,50.1 177.0,50.8 177.5,51.0 178.0,50.7 178.5,50.0 179.0,49.0 179.5,47.7 180.0,46.4 180.5,45.1 181.0,43.9 181.5,43.0 182.0,42.2 182.5,41.4 183.0,40.6 183.5,39.9 184.0,39.3 184.5,38.8 185.0,38.5 185.5,38.5 186.0,38.9 186.5,39.5 187.0,40.3 187.5,41.2 188.0,42.2 188.5,43.0 189.0,43.9 189.5,44.9 190.0,46.0 190.5,47.0 191.0,47.9 191.5,48.6 192.0,49.0 192.5,48.8 193.0,48.0 193.5,46.5 194.0,44.6 194.5,42.5 195.0,40.4 195.5,38.5 196.0,37.0 196.5,35.7 197.0,34.3 197.5,33.0 198.0,31.7 198.5,30.8 199.0,30.2 199.5,30.0 200.0,30.3 200.5,30.9 201.0,31.9 201.5,33.1 202.0,34.4 202.5,35.9 203.0,37.4 203.5,39.0 204.0,40.5 204.5,41.8 205.0,43.0 205.5,44.1 206.0,45.4 206.5,46.7 207.0,48.0 207.5,49.3 208.0,50.6 208.5,51.7 209.0,52.6 209.5,53.4 210.0,53.8 210.5,54.0 211.0,53.9 211.5,53.7 212.0,53.4 212.5,52.9 213.0,52.3 213.5,51.4 214.0,50.5 214.5,49.3 215.0,48.0" fill="none" stroke="#b9d1ec" stroke-width="0.8" stroke-opacity="0.5" stroke-linejoin="round"/>
<polyline points="96.0,52.0 96.5,53.0 97.0,54.0 97.5,55.0 98.0,56.0 98.5,57.0 99.0,58.0 99.5,59.0 100.0,60.0 100.5,61.1 101.0,62.4 101.5,63.7 102.0,65.0 102.5,66.0 103.0,66.7 103.5,67.0 104.0,66.3 104.5,64.8 105.0,62.8 105.5,61.0 106.0,60.0 106.5,59.6 107.0,59.2 107.5,58.8 108.0,58.6 108.5,58.3 109.0,58.1 109.5,58.0 110.0,58.0" fill="none" stroke="#b9d1ec" stroke-width="0.8" stroke-opacity="0.45" stroke-linejoin="round"/>
<polyline points="128.0,62.0 128.5,62.3 129.0,62.6 129.5,62.9 130.0,63.1 130.5,63.4 131.0,63.7 131.5,64.0 132.0,64.3 132.5,64.6 133.0,64.9 133.5,65.1 134.0,65.4 134.5,65.7 135.0,66.0 135.5,66.3 136.0,66.6 136.5,67.0 137.0,67.4 137.5,67.7 138.0,68.1 138.5,68.5 139.0,68.8 139.5,69.2 140.0,69.5 140.5,69.7 141.0,69.9 141.5,70.1 142.0,70.2 142.5,70.2 143.0,70.1 143.5,69.9 144.0,69.6 144.5,69.2 145.0,68.8 145.5,68.3 146.0,67.8 146.5,67.3 147.0,66.8 147.5,66.4 148.0,66.0 148.5,65.6 149.0,65.2 149.5,64.7 150.0,64.3 150.5,63.8 151.0,63.3 151.5,62.9 152.0,62.4 152.5,62.0 153.0,61.7 153.5,61.4 154.0,61.2 154.5,61.0 155.0,61.0 155.5,61.2 156.0,61.9 156.5,62.8 157.0,64.0 157.5,65.4 158.0,66.9 158.5,68.4 159.0,69.9 159.5,71.2 160.0,72.4 160.5,73.3 161.0,73.9 161.5,74.0 162.0,73.7 162.5,73.1 163.0,72.3 163.5,71.3 164.0,70.1 164.5,69.0 165.0,67.8 165.5,66.8 166.0,66.0 166.5,65.3 167.0,64.5 167.5,63.7 168.0,62.9 168.5,62.1 169.0,61.4 169.5,60.8 170.0,60.4 170.5,60.1 171.0,60.0 171.5,60.2 172.0,60.9 172.5,61.9 173.0,63.1 173.5,64.5 174.0,66.0 174.5,67.6 175.0,69.1 175.5,70.4 176.0,71.6 176.5,72.4 177.0,72.9 177.5,73.0 178.0,72.8 178.5,72.3 179.0,71.6 179.5,70.7 180.0,69.7 180.5,68.4 181.0,67.0" fill="none" stroke="#b9d1ec" stroke-width="0.8" stroke-opacity="0.5" stroke-linejoin="round"/>
<line x1="120.4" y1="40" x2="120.4" y2="75" stroke="#b9d1ec" stroke-width="0.7" stroke-opacity="0.6"/>
<line x1="123.6" y1="30" x2="123.6" y2="76" stroke="#b9d1ec" stroke-width="0.7" stroke-opacity="0.6"/>
<line x1="125.2" y1="24" x2="125.2" y2="70" stroke="#b9d1ec" stroke-width="0.7" stroke-opacity="0.6"/>
<line x1="105" y1="52" x2="105" y2="72" stroke="#b9d1ec" stroke-width="0.7" stroke-opacity="0.6"/>
<line x1="136" y1="58" x2="136" y2="72" stroke="#b9d1ec" stroke-width="0.7" stroke-opacity="0.6"/>
<path d="M32.9,52.6 33.5,52.6 34.1,52.6 34.7,52.6 35.3,52.6 35.9,52.6 36.5,52.6 37.1,52.6 37.7,52.6 38.3,52.6 38.9,52.5 39.5,52.5 40.1,52.5 40.7,52.5 41.3,52.5 41.9,52.6 42.5,52.7 43.1,52.8 43.7,53.0 44.3,53.2 44.9,53.4 45.5,53.5 46.1,53.5 46.7,53.3 47.3,52.9 47.9,52.2 48.5,51.3 49.1,50.5 49.7,49.6 50.3,48.6 50.9,47.7 51.5,46.7 52.1,45.9 52.7,45.1 53.3,44.5 53.9,44.0 54.5,43.8 55.1,43.8 55.7,44.0 56.3,44.3 56.9,44.9 57.5,45.5 58.1,46.2 58.7,47.0 59.3,47.8 59.9,48.6 60.5,49.4 61.1,50.2 61.7,51.0 62.3,51.7 62.9,52.3 63.5,52.9 64.1,53.5 64.7,53.9 65.3,54.3 65.9,54.6 66.5,54.7 67.1,54.8 67.7,54.7 68.3,54.5 68.9,54.2 69.5,53.9 70.1,53.4 70.7,52.8 71.3,52.2 71.9,51.5 72.5,50.8 73.1,50.0 73.7,49.2 74.3,48.4 74.9,47.5 75.5,46.7 76.1,46.0 76.7,45.2 77.3,44.6 77.9,44.1 78.5,43.7 79.1,43.4 79.7,43.3 80.3,43.3 80.9,43.5 81.5,43.8 82.1,44.3 82.7,44.9 83.3,45.5 83.9,46.2 84.5,47.0 85.1,47.8 85.7,48.6 86.3,49.4 86.9,50.1 87.5,50.7 88.1,51.1 88.7,51.4 89.3,51.4 89.9,51.2 90.5,50.8 91.1,50.1 91.7,49.3 92.3,48.3 92.9,47.1 93.5,45.9 94.1,44.7 94.7,43.4 95.3,42.2 95.9,41.1 96.5,40.0 97.1,39.1 97.7,38.4 98.3,38.0 98.9,37.8 99.5,37.9 100.1,38.1 100.7,38.6 101.3,39.1 101.9,39.8 102.5,40.5 103.1,41.2 103.7,41.9 104.3,42.6 104.9,43.2 105.5,43.6 106.1,43.8 106.7,43.9 107.3,43.7 107.9,43.3 108.5,42.7 109.1,42.0 109.7,41.3 110.3,40.4 110.9,39.7 111.5,38.9 112.1,38.2 112.7,37.7 113.3,37.4 113.9,37.2 114.5,37.3 115.1,37.6 115.7,38.0 116.3,38.6 116.9,39.3 117.5,40.0 118.1,40.9 118.7,41.7 119.3,42.6 119.9,43.4 120.5,44.3 121.1,45.0 121.7,45.6 122.3,46.2 122.9,46.5 123.5,46.7 124.1,46.8 124.7,46.8 125.3,46.7 125.9,46.5 126.5,46.2 127.1,45.9 127.7,45.7 128.3,45.4 128.9,45.1 129.5,44.9 130.1,44.7 130.7,44.4 131.3,44.3 131.9,44.1 132.5,44.0 133.1,43.9 133.7,43.9 134.3,43.9 134.9,44.0 135.5,44.1 136.1,44.3 136.7,44.6 137.3,45.0 137.9,45.6 138.5,46.3 139.1,47.1 139.7,48.1 140.3,49.2 140.9,50.3 141.5,51.4 142.1,52.5 142.7,53.4 143.3,54.3 143.9,54.9 144.5,55.3 145.1,55.4 145.7,55.2 146.3,54.7 146.9,54.1 147.5,53.2 148.1,52.2 148.7,51.1 149.3,49.8 149.9,48.6 150.5,47.3 151.1,46.0 151.7,44.9 152.3,43.9 152.9,43.1 153.5,42.7 154.1,42.5 154.7,42.7 155.3,43.4 155.9,44.4 156.5,45.7 157.1,47.2 157.7,48.9 158.3,50.6 158.9,52.3 159.5,53.9 160.1,55.3 160.7,56.6 161.3,57.5 161.9,58.0 162.5,58.0 163.1,57.6 163.7,56.7 164.3,55.4 164.9,54.0 165.5,52.3 166.1,50.5 166.7,48.8 167.3,47.1 167.9,45.5 168.5,44.3 169.1,43.3 169.7,42.8 170.3,42.8 170.9,43.2 171.5,44.1 172.1,45.4 172.7,46.9 173.3,48.5 173.9,50.3 174.5,52.1 175.1,53.8 175.7,55.3 176.3,56.5 176.9,57.5 177.5,58.0 178.1,58.0 178.7,57.5 179.3,56.6 179.9,55.5 180.5,54.1 181.1,52.5 181.7,51.0 182.3,49.5 182.9,48.1 183.5,47.0 184.1,46.2 184.7,45.8 185.3,45.8 185.9,46.2 186.5,46.9 187.1,47.9 187.7,49.0 188.3,50.2 188.9,51.4 189.5,52.5 190.1,53.6 190.7,54.4 191.3,55.1 191.9,55.3 192.5,55.2 193.1,54.7 193.7,53.8 194.3,52.6 194.9,51.1 195.5,49.5 196.1,47.7 196.7,45.9 197.3,44.0 197.9,42.2 198.5,40.4 199.1,38.8 199.7,37.4 200.3,36.3 200.9,35.5 201.5,35.1 202.1,35.0 202.7,35.4 203.3,36.0 203.9,36.9 204.5,38.0 205.1,39.2 205.7,40.6 206.3,42.0 206.9,43.5 207.5,44.9 208.1,46.2 208.7,47.4 209.3,48.3 209.9,49.1 210.5,49.6 211.1,49.7 211.7,49.6 212.3,49.2 212.9,48.7 213.5,48.0 214.1,47.2 214.6,46.5 L214.6,62.2 214.1,63.0 213.5,64.1 212.9,64.9 212.3,65.6 211.7,66.1 211.1,66.3 210.5,66.1 209.9,65.7 209.3,64.9 208.7,63.8 208.1,62.6 207.5,61.2 206.9,59.7 206.3,58.2 205.7,56.7 205.1,55.2 204.5,53.9 203.9,52.8 203.3,51.8 202.7,51.1 202.1,50.8 201.5,50.8 200.9,51.3 200.3,52.1 199.7,53.3 199.1,54.7 198.5,56.3 197.9,58.1 197.3,60.0 196.7,61.9 196.1,63.8 195.5,65.6 194.9,67.3 194.3,68.8 193.7,70.0 193.1,70.9 192.5,71.5 191.9,71.6 191.3,71.3 190.7,70.6 190.1,69.7 189.5,68.6 188.9,67.4 188.3,66.1 187.7,64.9 187.1,63.7 186.5,62.7 185.9,62.0 185.3,61.5 184.7,61.5 184.1,61.8 183.5,62.6 182.9,63.8 182.3,65.1 181.7,66.6 181.1,68.1 180.5,69.7 179.9,71.1 179.3,72.2 178.7,73.1 178.1,73.6 177.5,73.6 176.9,73.1 176.3,72.3 175.7,71.1 175.1,69.8 174.5,68.3 173.9,66.7 173.3,65.2 172.7,63.8 172.1,62.5 171.5,61.5 170.9,60.7 170.3,60.4 169.7,60.5 169.1,61.1 168.5,62.0 167.9,63.1 167.3,64.4 166.7,65.9 166.1,67.3 165.5,68.8 164.9,70.2 164.3,71.4 163.7,72.4 163.1,73.1 162.5,73.5 161.9,73.5 161.3,73.0 160.7,72.2 160.1,71.1 159.5,69.8 158.9,68.3 158.3,66.7 157.7,65.2 157.1,63.6 156.5,62.2 155.9,61.0 155.3,60.0 154.7,59.3 154.1,59.0 153.5,59.1 152.9,59.4 152.3,60.0 151.7,60.8 151.1,61.6 150.5,62.6 149.9,63.7 149.3,64.7 148.7,65.6 148.1,66.5 147.5,67.3 146.9,68.0 146.3,68.4 145.7,68.8 145.1,68.9 144.5,68.7 143.9,68.4 143.3,68.0 142.7,67.6 142.1,67.0 141.5,66.4 140.9,65.7 140.3,65.0 139.7,64.2 139.1,63.5 138.5,62.7 137.9,62.1 137.3,61.6 136.7,61.2 136.1,61.0 135.5,60.8 134.9,60.7 134.3,60.7 133.7,60.6 133.1,60.6 132.5,60.5 131.9,60.4 131.3,60.3 130.7,60.2 130.1,60.1 129.5,60.1 128.9,60.1 128.3,60.2 127.7,60.4 127.1,60.5 126.5,60.7 125.9,60.8 125.3,61.0 124.7,61.0 124.1,60.9 123.5,60.8 122.9,60.5 122.3,60.1 121.7,59.5 121.1,58.8 120.5,58.1 119.9,57.3 119.3,56.4 118.7,55.6 118.1,54.7 117.5,53.9 116.9,53.2 116.3,52.5 115.7,52.0 115.1,51.5 114.5,51.2 113.9,51.1 113.3,51.1 112.7,51.4 112.1,51.8 111.5,52.4 110.9,53.0 110.3,53.7 109.7,54.4 109.1,55.1 108.5,55.6 107.9,56.1 107.3,56.4 106.7,56.4 106.1,56.3 105.5,55.9 104.9,55.3 104.3,54.6 103.7,53.8 103.1,52.9 102.5,52.0 101.9,51.1 101.3,50.3 100.7,49.5 100.1,48.9 99.5,48.5 98.9,48.3 98.3,48.3 97.7,48.6 97.1,49.1 96.5,49.8 95.9,50.7 95.3,51.7 94.7,52.8 94.1,53.9 93.5,55.0 92.9,56.1 92.3,57.1 91.7,58.0 91.1,58.7 90.5,59.3 89.9,59.6 89.3,59.7 88.7,59.5 88.1,59.2 87.5,58.6 86.9,57.9 86.3,57.1 85.7,56.3 85.1,55.4 84.5,54.5 83.9,53.6 83.3,52.8 82.7,52.1 82.1,51.4 81.5,50.9 80.9,50.5 80.3,50.2 79.7,50.1 79.1,50.2 78.5,50.5 77.9,50.8 77.3,51.3 76.7,51.9 76.1,52.6 75.5,53.4 74.9,54.1 74.3,54.9 73.7,55.7 73.1,56.5 72.5,57.3 71.9,58.0 71.3,58.6 70.7,59.2 70.1,59.7 69.5,60.1 68.9,60.5 68.3,60.7 67.7,60.9 67.1,60.9 66.5,60.8 65.9,60.6 65.3,60.3 64.7,59.9 64.1,59.3 63.5,58.8 62.9,58.1 62.3,57.4 61.7,56.6 61.1,55.7 60.5,54.9 59.9,54.0 59.3,53.0 58.7,52.1 58.1,51.2 57.5,50.4 56.9,49.6 56.3,49.0 55.7,48.5 55.1,48.2 54.5,48.0 53.9,48.1 53.3,48.4 52.7,48.8 52.1,49.3 51.5,49.9 50.9,50.5 50.3,51.1 49.7,51.7 49.1,52.2 48.5,52.6 47.9,52.8 47.3,53.0 46.7,53.3 46.1,53.5 45.5,53.5 44.9,53.4 44.3,53.2 43.7,53.0 43.1,52.8 42.5,52.7 41.9,52.6 41.3,52.5 40.7,52.5 40.1,52.5 39.5,52.5 38.9,52.5 38.3,52.6 37.7,52.6 37.1,52.6 36.5,52.6 35.9,52.6 35.3,52.6 34.7,52.6 34.1,52.6 33.5,52.6 32.9,52.6Z" fill="#9fc3e6" fill-opacity="0.4"/>
<path d="M32.9,52.6 33.5,52.6 34.1,52.6 34.7,52.6 35.3,52.6 35.9,52.6 36.5,52.6 37.1,52.6 37.7,52.6 38.3,52.6 38.9,52.5 39.5,52.5 40.1,52.5 40.7,52.5 41.3,52.5 41.9,52.6 42.5,52.7 43.1,52.8 43.7,53.0 44.3,53.2 44.9,53.4 45.5,53.5 46.1,53.5 46.7,53.3 47.3,52.9 47.9,52.2 48.5,51.4 49.1,50.5 49.7,49.7 50.3,48.8 50.9,47.9 51.5,47.0 52.1,46.2 52.7,45.5 53.3,44.9 53.9,44.5 54.5,44.3 55.1,44.3 55.7,44.5 56.3,44.9 56.9,45.4 57.5,46.1 58.1,46.8 58.7,47.6 59.3,48.4 59.9,49.3 60.5,50.1 61.1,50.9 61.7,51.6 62.3,52.3 62.9,53.0 63.5,53.6 64.1,54.1 64.7,54.6 65.3,55.0 65.9,55.3 66.5,55.4 67.1,55.5 67.7,55.4 68.3,55.3 68.9,55.0 69.5,54.6 70.1,54.1 70.7,53.6 71.3,53.0 71.9,52.3 72.5,51.6 73.1,50.8 73.7,50.0 74.3,49.2 74.9,48.3 75.5,47.5 76.1,46.8 76.7,46.1 77.3,45.4 77.9,44.9 78.5,44.5 79.1,44.2 79.7,44.1 80.3,44.1 80.9,44.4 81.5,44.7 82.1,45.2 82.7,45.7 83.3,46.4 83.9,47.1 84.5,47.9 85.1,48.7 85.7,49.5 86.3,50.3 86.9,51.0 87.5,51.6 88.1,52.1 88.7,52.3 89.3,52.4 89.9,52.2 90.5,51.8 91.1,51.2 91.7,50.3 92.3,49.3 92.9,48.2 93.5,47.1 94.1,45.8 94.7,44.6 95.3,43.4 95.9,42.3 96.5,41.3 97.1,40.4 97.7,39.8 98.3,39.4 98.9,39.2 99.5,39.3 100.1,39.6 100.7,40.1 101.3,40.7 101.9,41.4 102.5,42.1 103.1,42.9 103.7,43.6 104.3,44.3 104.9,44.9 105.5,45.4 106.1,45.7 106.7,45.8 107.3,45.6 107.9,45.3 108.5,44.7 109.1,44.1 109.7,43.3 110.3,42.6 110.9,41.8 111.5,41.1 112.1,40.5 112.7,40.0 113.3,39.7 113.9,39.6 114.5,39.7 115.1,40.0 115.7,40.4 116.3,41.0 116.9,41.7 117.5,42.5 118.1,43.3 118.7,44.2 119.3,45.1 119.9,45.9 120.5,46.8 121.1,47.5 121.7,48.2 122.3,48.7 122.9,49.1 123.5,49.3 124.1,49.4 124.7,49.3 125.3,49.2 125.9,49.0 126.5,48.8 127.1,48.5 127.7,48.2 128.3,48.0 128.9,47.7 129.5,47.5 130.1,47.3 130.7,47.1 131.3,46.9 131.9,46.7 132.5,46.6 133.1,46.5 133.7,46.5 134.3,46.5 134.9,46.6 135.5,46.7 136.1,46.9 136.7,47.2 137.3,47.7 137.9,48.2 138.5,48.9 139.1,49.8 139.7,50.8 140.3,51.9 140.9,53.0 141.5,54.1 142.1,55.2 142.7,56.2 143.3,57.0 143.9,57.6 144.5,58.0 145.1,58.1 145.7,57.9 146.3,57.5 146.9,56.8 147.5,56.0 148.1,54.9 148.7,53.8 149.3,52.6 149.9,51.3 150.5,50.0 151.1,48.8 151.7,47.7 152.3,46.7 152.9,45.9 153.5,45.5 154.1,45.3 154.7,45.5 155.3,46.2 155.9,47.2 156.5,48.5 157.1,50.0 157.7,51.7 158.3,53.4 158.9,55.1 159.5,56.7 160.1,58.2 160.7,59.4 161.3,60.3 161.9,60.8 162.5,60.9 163.1,60.4 163.7,59.5 164.3,58.3 164.9,56.8 165.5,55.2 166.1,53.4 166.7,51.6 167.3,49.9 167.9,48.4 168.5,47.2 169.1,46.2 169.7,45.7 170.3,45.7 170.9,46.1 171.5,47.0 172.1,48.3 172.7,49.8 173.3,51.5 173.9,53.2 174.5,55.0 175.1,56.7 175.7,58.2 176.3,59.5 176.9,60.4 177.5,60.9 178.1,60.9 178.7,60.4 179.3,59.6 179.9,58.4 180.5,57.0 181.1,55.5 181.7,53.9 182.3,52.4 182.9,51.0 183.5,49.9 184.1,49.1 184.7,48.7 185.3,48.8 185.9,49.2 186.5,49.9 187.1,50.8 187.7,51.9 188.3,53.1 188.9,54.3 189.5,55.5 190.1,56.6 190.7,57.4 191.3,58.0 191.9,58.3 192.5,58.2 193.1,57.7 193.7,56.8 194.3,55.6 194.9,54.1 195.5,52.5 196.1,50.7 196.7,48.9 197.3,47.0 197.9,45.2 198.5,43.4 199.1,41.8 199.7,40.4 200.3,39.3 200.9,38.5 201.5,38.0 202.1,38.0 202.7,38.3 203.3,39.0 203.9,39.9 204.5,41.0 205.1,42.2 205.7,43.6 206.3,45.0 206.9,46.5 207.5,47.9 208.1,49.2 208.7,50.3 209.3,51.3 209.9,52.1 210.5,52.6 211.1,52.7 211.7,52.6 212.3,52.2 212.9,51.7 213.5,51.0 214.1,50.2 214.6,49.5 L214.6,59.2 214.1,60.0 213.5,61.1 212.9,61.9 212.3,62.6 211.7,63.1 211.1,63.3 210.5,63.2 209.9,62.7 209.3,61.9 208.7,60.8 208.1,59.6 207.5,58.2 206.9,56.7 206.3,55.2 205.7,53.7 205.1,52.2 204.5,50.9 203.9,49.8 203.3,48.8 202.7,48.2 202.1,47.8 201.5,47.9 200.9,48.3 200.3,49.1 199.7,50.3 199.1,51.7 198.5,53.4 197.9,55.1 197.3,57.0 196.7,58.9 196.1,60.8 195.5,62.6 194.9,64.3 194.3,65.8 193.7,67.0 193.1,67.9 192.5,68.5 191.9,68.6 191.3,68.3 190.7,67.7 190.1,66.8 189.5,65.7 188.9,64.4 188.3,63.2 187.7,61.9 187.1,60.8 186.5,59.8 185.9,59.0 185.3,58.6 184.7,58.5 184.1,58.9 183.5,59.7 182.9,60.8 182.3,62.2 181.7,63.7 181.1,65.2 180.5,66.7 179.9,68.1 179.3,69.3 178.7,70.2 178.1,70.7 177.5,70.7 176.9,70.2 176.3,69.3 175.7,68.2 175.1,66.9 174.5,65.4 173.9,63.8 173.3,62.3 172.7,60.9 172.1,59.6 171.5,58.6 170.9,57.8 170.3,57.5 169.7,57.7 169.1,58.2 168.5,59.1 167.9,60.3 167.3,61.6 166.7,63.0 166.1,64.5 165.5,65.9 164.9,67.3 164.3,68.5 163.7,69.5 163.1,70.3 162.5,70.7 161.9,70.6 161.3,70.2 160.7,69.4 160.1,68.3 159.5,67.0 158.9,65.5 158.3,63.9 157.7,62.3 157.1,60.8 156.5,59.4 155.9,58.1 155.3,57.2 154.7,56.5 154.1,56.2 153.5,56.3 152.9,56.6 152.3,57.2 151.7,58.0 151.1,58.9 150.5,59.9 149.9,60.9 149.3,61.9 148.7,62.9 148.1,63.8 147.5,64.5 146.9,65.2 146.3,65.7 145.7,66.0 145.1,66.1 144.5,66.0 143.9,65.7 143.3,65.3 142.7,64.8 142.1,64.3 141.5,63.7 140.9,63.0 140.3,62.3 139.7,61.6 139.1,60.8 138.5,60.0 137.9,59.4 137.3,58.9 136.7,58.6 136.1,58.3 135.5,58.2 134.9,58.1 134.3,58.0 133.7,58.0 133.1,57.9 132.5,57.9 131.9,57.8 131.3,57.7 130.7,57.6 130.1,57.5 129.5,57.5 128.9,57.6 128.3,57.6 127.7,57.8 127.1,58.0 126.5,58.1 125.9,58.3 125.3,58.4 124.7,58.4 124.1,58.4 123.5,58.2 122.9,58.0 122.3,57.5 121.7,57.0 121.1,56.3 120.5,55.6 119.9,54.8 119.3,53.9 118.7,53.1 118.1,52.3 117.5,51.5 116.9,50.8 116.3,50.1 115.7,49.6 115.1,49.1 114.5,48.9 113.9,48.8 113.3,48.9 112.7,49.1 112.1,49.6 111.5,50.2 110.9,50.9 110.3,51.6 109.7,52.3 109.1,53.0 108.5,53.6 107.9,54.1 107.3,54.4 106.7,54.5 106.1,54.4 105.5,54.1 104.9,53.5 104.3,52.9 103.7,52.1 103.1,51.2 102.5,50.4 101.9,49.5 101.3,48.7 100.7,48.0 100.1,47.4 99.5,47.0 98.9,46.9 98.3,46.9 97.7,47.3 97.1,47.8 96.5,48.6 95.9,49.5 95.3,50.5 94.7,51.7 94.1,52.8 93.5,53.9 92.9,55.0 92.3,56.0 91.7,56.9 91.1,57.7 90.5,58.3 89.9,58.6 89.3,58.7 88.7,58.6 88.1,58.2 87.5,57.7 86.9,57.0 86.3,56.2 85.7,55.4 85.1,54.5 84.5,53.6 83.9,52.7 83.3,51.9 82.7,51.2 82.1,50.6 81.5,50.0 80.9,49.6 80.3,49.4 79.7,49.3 79.1,49.4 78.5,49.6 77.9,50.0 77.3,50.5 76.7,51.1 76.1,51.8 75.5,52.6 74.9,53.3 74.3,54.1 73.7,55.0 73.1,55.7 72.5,56.5 71.9,57.2 71.3,57.8 70.7,58.4 70.1,59.0 69.5,59.4 68.9,59.8 68.3,60.0 67.7,60.2 67.1,60.2 66.5,60.1 65.9,59.9 65.3,59.6 64.7,59.2 64.1,58.7 63.5,58.1 62.9,57.4 62.3,56.7 61.7,55.9 61.1,55.1 60.5,54.2 59.9,53.3 59.3,52.4 58.7,51.5 58.1,50.7 57.5,49.8 56.9,49.1 56.3,48.5 55.7,48.0 55.1,47.7 54.5,47.5 53.9,47.6 53.3,47.9 52.7,48.4 52.1,49.0 51.5,49.6 50.9,50.3 50.3,51.0 49.7,51.6 49.1,52.2 48.5,52.6 47.9,52.8 47.3,53.0 46.7,53.3 46.1,53.5 45.5,53.5 44.9,53.4 44.3,53.2 43.7,53.0 43.1,52.8 42.5,52.7 41.9,52.6 41.3,52.5 40.7,52.5 40.1,52.5 39.5,52.5 38.9,52.5 38.3,52.6 37.7,52.6 37.1,52.6 36.5,52.6 35.9,52.6 35.3,52.6 34.7,52.6 34.1,52.6 33.5,52.6 32.9,52.6Z" fill="#3582c6"/>
<polyline points="32.9,52.6 33.5,52.6 34.1,52.6 34.7,52.6 35.3,52.6 35.9,52.6 36.5,52.6 37.1,52.6 37.7,52.6 38.3,52.6 38.9,52.5 39.5,52.5 40.1,52.5 40.7,52.5 41.3,52.5 41.9,52.6 42.5,52.7 43.1,52.8 43.7,53.0 44.3,53.2 44.9,53.4 45.5,53.5 46.1,53.5 46.7,53.3 47.3,53.0 47.9,52.5 48.5,52.0 49.1,51.3 49.7,50.6 50.3,49.9 50.9,49.1 51.5,48.3 52.1,47.6 52.7,46.9 53.3,46.4 53.9,46.1 54.5,45.9 55.1,45.9 55.7,46.2 56.3,46.6 56.9,47.2 57.5,47.8 58.1,48.6 58.7,49.4 59.3,50.3 59.9,51.1 60.5,52.0 61.1,52.8 61.7,53.5 62.3,54.3 62.9,55.0 63.5,55.6 64.1,56.1 64.7,56.6 65.3,57.0 65.9,57.3 66.5,57.5 67.1,57.6 67.7,57.6 68.3,57.4 68.9,57.2 69.5,56.8 70.1,56.4 70.7,55.9 71.3,55.3 71.9,54.6 72.5,53.9 73.1,53.2 73.7,52.4 74.3,51.6 74.9,50.8 75.5,50.0 76.1,49.3 76.7,48.6 77.3,48.0 77.9,47.5 78.5,47.1 79.1,46.9 79.7,46.8 80.3,46.9 80.9,47.1 81.5,47.5 82.1,48.0 82.7,48.6 83.3,49.3 83.9,50.0 84.5,50.8 85.1,51.7 85.7,52.5 86.3,53.3 86.9,54.0 87.5,54.7 88.1,55.2 88.7,55.5 89.3,55.6 89.9,55.4 90.5,55.0 91.1,54.4 91.7,53.6 92.3,52.7 92.9,51.6 93.5,50.5 94.1,49.3 94.7,48.1 95.3,47.0 95.9,45.9 96.5,44.9 97.1,44.1 97.7,43.5 98.3,43.1 98.9,43.0 99.5,43.2 100.1,43.6 100.7,44.1 101.3,44.8 101.9,45.5 102.5,46.4 103.1,47.2 103.7,48.0 104.3,48.8 104.9,49.4 105.5,49.9 106.1,50.2 106.7,50.3 107.3,50.1 107.9,49.8 108.5,49.3 109.1,48.6 109.7,47.9 110.3,47.1 110.9,46.4 111.5,45.7 112.1,45.1 112.7,44.6 113.3,44.3 113.9,44.2 114.5,44.3 115.1,44.6 115.7,45.1 116.3,45.7 116.9,46.4 117.5,47.2 118.1,48.0 118.7,48.9 119.3,49.8 119.9,50.7 120.5,51.5 121.1,52.3 121.7,53.0 122.3,53.5 122.9,53.9 123.5,54.1 124.1,54.2 124.7,54.2 125.3,54.1 125.9,54.0 126.5,53.7 127.1,53.5 127.7,53.2 128.3,53.0 128.9,52.8 129.5,52.5 130.1,52.3 130.7,52.2 131.3,52.0 131.9,51.9 132.5,51.8 133.1,51.7 133.7,51.7 134.3,51.7 134.9,51.8 135.5,51.9 136.1,52.1 136.7,52.4 137.3,52.8 137.9,53.3 138.5,54.0 139.1,54.8 139.7,55.7 140.3,56.7 140.9,57.7 141.5,58.6 142.1,59.5 142.7,60.4 143.3,61.1 143.9,61.6 144.5,62.0 145.1,62.1 145.7,62.0 146.3,61.6 146.9,61.1 147.5,60.4 148.1,59.5 148.7,58.6 149.3,57.6 149.9,56.5 150.5,55.4 151.1,54.3 151.7,53.4 152.3,52.5 152.9,51.9 153.5,51.5 154.1,51.4 154.7,51.7 155.3,52.4 155.9,53.4 156.5,54.7 157.1,56.1 157.7,57.8 158.3,59.4 158.9,61.1 159.5,62.7 160.1,64.1 160.7,65.3 161.3,66.1 161.9,66.6 162.5,66.7 163.1,66.2 163.7,65.4 164.3,64.2 164.9,62.7 165.5,61.1 166.1,59.4 166.7,57.7 167.3,56.1 167.9,54.6 168.5,53.3 169.1,52.4 169.7,51.9 170.3,51.8 170.9,52.3 171.5,53.2 172.1,54.4 172.7,55.9 173.3,57.5 173.9,59.2 174.5,61.0 175.1,62.6 175.7,64.1 176.3,65.3 176.9,66.2 177.5,66.7 178.1,66.6 178.7,66.1 179.3,65.1 179.9,63.9 180.5,62.4 181.1,60.8 181.7,59.2 182.3,57.6 182.9,56.1 183.5,55.0 184.1,54.1 184.7,53.7 185.3,53.8 185.9,54.2 186.5,55.0 187.1,56.0 187.7,57.2 188.3,58.5 188.9,59.8 189.5,61.1 190.1,62.2 190.7,63.1 191.3,63.8 191.9,64.1 192.5,64.0 193.1,63.4 193.7,62.5 194.3,61.3 194.9,59.8 195.5,58.1 196.1,56.2 196.7,54.3 197.3,52.4 197.9,50.4 198.5,48.6 199.1,47.0 199.7,45.5 200.3,44.4 200.9,43.5 201.5,43.1 202.1,43.0 202.7,43.4 203.3,44.0 203.9,45.0 204.5,46.1 205.1,47.4 205.7,48.9 206.3,50.4 206.9,51.9 207.5,53.4 208.1,54.8 208.7,56.0 209.3,57.1 209.9,57.9 210.5,58.4 211.1,58.5 211.7,58.3 212.3,57.9 212.9,57.2 213.5,56.4 214.1,55.5 214.6,54.6" fill="none" stroke="#d92a30" stroke-width="1.15" stroke-linejoin="round"/>
<path d="M320.9,52.3 321.5,52.3 322.1,52.3 322.7,52.3 323.3,52.3 323.9,52.3 324.5,52.3 325.1,52.3 325.7,52.3 326.3,52.2 326.9,52.2 327.5,52.2 328.1,52.2 328.7,52.2 329.3,52.2 329.9,52.3 330.5,52.3 331.1,52.5 331.7,52.7 332.3,52.9 332.9,53.1 333.5,53.1 334.1,53.1 334.7,52.9 335.3,52.6 335.9,52.1 336.5,51.6 337.1,51.0 337.7,50.2 338.3,49.5 338.9,48.7 339.5,47.9 340.1,47.2 340.7,46.5 341.3,46.0 341.9,45.6 342.5,45.4 343.1,45.5 343.7,45.7 344.3,46.1 344.9,46.7 345.5,47.3 346.1,48.1 346.7,48.9 347.3,49.7 347.9,50.5 348.5,51.3 349.1,52.1 349.7,52.8 350.3,53.5 350.9,54.1 351.5,54.7 352.1,55.2 352.7,55.7 353.3,56.0 353.9,56.2 354.5,56.4 355.1,56.4 355.7,56.3 356.3,56.2 356.9,55.9 357.5,55.5 358.1,55.0 358.7,54.4 359.3,53.8 359.9,53.1 360.5,52.4 361.1,51.6 361.7,50.8 362.3,50.0 362.9,49.2 363.5,48.4 364.1,47.6 364.7,46.9 365.3,46.3 365.9,45.8 366.5,45.4 367.1,45.1 367.7,45.0 368.3,45.1 368.9,45.3 369.5,45.7 370.1,46.2 370.7,46.7 371.3,47.4 371.9,48.1 372.5,48.9 373.1,49.7 373.7,50.6 374.3,51.3 374.9,52.0 375.5,52.6 376.1,53.1 376.7,53.4 377.3,53.5 377.9,53.3 378.5,52.8 379.1,52.2 379.7,51.4 380.3,50.4 380.9,49.3 381.5,48.1 382.1,46.9 382.7,45.7 383.3,44.5 383.9,43.4 384.5,42.4 385.1,41.6 385.7,41.0 386.3,40.6 386.9,40.5 387.5,40.7 388.1,41.1 388.7,41.6 389.3,42.3 389.9,43.0 390.5,43.9 391.1,44.7 391.7,45.5 392.3,46.3 392.9,46.9 393.5,47.4 394.1,47.7 394.7,47.8 395.3,47.6 395.9,47.1 396.5,46.5 397.1,45.7 397.7,44.9 398.3,44.0 398.9,43.1 399.5,42.3 400.1,41.5 400.7,40.9 401.3,40.5 401.9,40.3 402.5,40.3 403.1,40.5 403.7,40.9 404.3,41.4 404.9,42.0 405.5,42.7 406.1,43.5 406.7,44.3 407.3,45.1 407.9,45.9 408.5,46.7 409.1,47.4 409.7,48.0 410.3,48.5 410.9,48.8 411.5,49.0 412.1,49.1 412.7,49.0 413.3,48.9 413.9,48.7 414.5,48.4 415.1,48.1 415.7,47.9 416.3,47.6 416.9,47.3 417.5,47.1 418.1,46.9 418.7,46.7 419.3,46.5 419.9,46.4 420.5,46.3 421.1,46.3 421.7,46.3 422.3,46.3 422.9,46.4 423.5,46.6 424.1,46.8 424.7,47.1 425.3,47.5 425.9,48.1 426.5,48.8 427.1,49.7 427.7,50.6 428.3,51.6 428.9,52.6 429.5,53.6 430.1,54.5 430.7,55.4 431.3,56.1 431.9,56.6 432.5,56.9 433.1,56.9 433.7,56.8 434.3,56.3 434.9,55.7 435.5,55.0 436.1,54.0 436.7,53.0 437.3,51.9 437.9,50.7 438.5,49.6 439.1,48.5 439.7,47.4 440.3,46.6 440.9,45.9 441.5,45.5 442.1,45.4 442.7,45.7 443.3,46.5 443.9,47.5 444.5,48.9 445.1,50.5 445.7,52.3 446.3,54.1 446.9,55.9 447.5,57.6 448.1,59.2 448.7,60.5 449.3,61.5 449.9,62.1 450.5,62.2 451.1,61.8 451.7,61.0 452.3,59.8 452.9,58.4 453.5,56.9 454.1,55.2 454.7,53.5 455.3,51.9 455.9,50.5 456.5,49.3 457.1,48.4 457.7,47.9 458.3,47.9 458.9,48.4 459.5,49.3 460.1,50.5 460.7,52.1 461.3,53.8 461.9,55.5 462.5,57.3 463.1,59.0 463.7,60.5 464.3,61.8 464.9,62.7 465.5,63.1 466.1,63.1 466.7,62.6 467.3,61.6 467.9,60.3 468.5,58.8 469.1,57.1 469.7,55.4 470.3,53.7 470.9,52.3 471.5,51.0 472.1,50.1 472.7,49.7 473.3,49.8 473.9,50.3 474.5,51.1 475.1,52.2 475.7,53.5 476.3,54.9 476.9,56.3 477.5,57.6 478.1,58.9 478.7,59.9 479.3,60.6 479.9,60.9 480.5,60.8 481.1,60.2 481.7,59.3 482.3,58.1 482.9,56.6 483.5,54.9 484.1,53.0 484.7,51.1 485.3,49.2 485.9,47.2 486.5,45.4 487.1,43.8 487.7,42.3 488.3,41.2 488.9,40.3 489.5,39.9 490.1,39.8 490.7,40.2 491.3,40.9 491.9,41.9 492.5,43.1 493.1,44.5 493.7,46.0 494.3,47.5 494.9,49.1 495.5,50.6 496.1,52.0 496.7,53.3 497.3,54.4 497.9,55.2 498.5,55.6 499.1,55.8 499.7,55.6 500.3,55.1 500.9,54.4 501.5,53.5 502.1,52.5 502.6,51.7 L502.6,57.6 502.1,58.5 501.5,59.5 500.9,60.3 500.3,61.0 499.7,61.5 499.1,61.7 498.5,61.5 497.9,61.1 497.3,60.3 496.7,59.2 496.1,58.0 495.5,56.6 494.9,55.1 494.3,53.6 493.7,52.1 493.1,50.6 492.5,49.3 491.9,48.2 491.3,47.2 490.7,46.6 490.1,46.2 489.5,46.3 488.9,46.7 488.3,47.6 487.7,48.7 487.1,50.2 486.5,51.8 485.9,53.6 485.3,55.6 484.7,57.5 484.1,59.4 483.5,61.3 482.9,63.0 482.3,64.5 481.7,65.7 481.1,66.6 480.5,67.2 479.9,67.3 479.3,67.0 478.7,66.5 478.1,65.6 477.5,64.7 476.9,63.6 476.3,62.4 475.7,61.3 475.1,60.2 474.5,59.3 473.9,58.7 473.3,58.3 472.7,58.2 472.1,58.6 471.5,59.3 470.9,60.4 470.3,61.7 469.7,63.2 469.1,64.7 468.5,66.2 467.9,67.6 467.3,68.7 466.7,69.6 466.1,70.1 465.5,70.2 464.9,69.7 464.3,68.9 463.7,67.8 463.1,66.4 462.5,64.9 461.9,63.2 461.3,61.6 460.7,60.1 460.1,58.7 459.5,57.6 458.9,56.8 458.3,56.3 457.7,56.4 457.1,56.9 456.5,57.8 455.9,59.0 455.3,60.4 454.7,62.0 454.1,63.7 453.5,65.3 452.9,66.9 452.3,68.3 451.7,69.4 451.1,70.2 450.5,70.7 449.9,70.6 449.3,70.2 448.7,69.3 448.1,68.2 447.5,66.8 446.9,65.3 446.3,63.7 445.7,62.1 445.1,60.5 444.5,59.1 443.9,57.8 443.3,56.8 442.7,56.2 442.1,55.9 441.5,56.0 440.9,56.4 440.3,57.0 439.7,57.9 439.1,58.8 438.5,59.9 437.9,61.0 437.3,62.1 436.7,63.1 436.1,64.0 435.5,64.9 434.9,65.6 434.3,66.1 433.7,66.5 433.1,66.6 432.5,66.5 431.9,66.1 431.3,65.6 430.7,64.9 430.1,64.0 429.5,63.1 428.9,62.2 428.3,61.2 427.7,60.3 427.1,59.4 426.5,58.6 425.9,58.0 425.3,57.5 424.7,57.2 424.1,56.9 423.5,56.8 422.9,56.7 422.3,56.7 421.7,56.7 421.1,56.7 420.5,56.8 419.9,56.9 419.3,57.0 418.7,57.1 418.1,57.3 417.5,57.4 416.9,57.6 416.3,57.8 415.7,58.0 415.1,58.2 414.5,58.3 413.9,58.5 413.3,58.6 412.7,58.6 412.1,58.5 411.5,58.3 410.9,58.0 410.3,57.6 409.7,56.9 409.1,56.2 408.5,55.3 407.9,54.4 407.3,53.3 406.7,52.3 406.1,51.3 405.5,50.3 404.9,49.4 404.3,48.5 403.7,47.8 403.1,47.2 402.5,46.9 401.9,46.7 401.3,46.8 400.7,47.1 400.1,47.6 399.5,48.2 398.9,48.9 398.3,49.6 397.7,50.4 397.1,51.1 396.5,51.8 395.9,52.3 395.3,52.6 394.7,52.8 394.1,52.7 393.5,52.4 392.9,51.9 392.3,51.2 391.7,50.4 391.1,49.5 390.5,48.7 389.9,47.8 389.3,47.0 388.7,46.2 388.1,45.6 387.5,45.2 386.9,45.1 386.3,45.1 385.7,45.5 385.1,46.1 384.5,46.9 383.9,47.9 383.3,49.0 382.7,50.1 382.1,51.3 381.5,52.5 380.9,53.6 380.3,54.7 379.7,55.6 379.1,56.4 378.5,57.0 377.9,57.4 377.3,57.6 376.7,57.5 376.1,57.2 375.5,56.7 374.9,56.0 374.3,55.3 373.7,54.5 373.1,53.7 372.5,52.8 371.9,52.0 371.3,51.2 370.7,50.5 370.1,49.9 369.5,49.4 368.9,49.0 368.3,48.7 367.7,48.6 367.1,48.7 366.5,48.9 365.9,49.3 365.3,49.8 364.7,50.3 364.1,51.0 363.5,51.7 362.9,52.4 362.3,53.2 361.7,54.0 361.1,54.7 360.5,55.5 359.9,56.1 359.3,56.7 358.7,57.3 358.1,57.8 357.5,58.2 356.9,58.5 356.3,58.7 355.7,58.8 355.1,58.8 354.5,58.6 353.9,58.4 353.3,58.0 352.7,57.6 352.1,57.1 351.5,56.5 350.9,55.8 350.3,55.0 349.7,54.3 349.1,53.5 348.5,52.6 347.9,51.7 347.3,50.8 346.7,50.0 346.1,49.1 345.5,48.4 344.9,47.7 344.3,47.1 343.7,46.7 343.1,46.4 342.5,46.4 341.9,46.5 341.3,46.9 340.7,47.4 340.1,48.0 339.5,48.7 338.9,49.5 338.3,50.3 337.7,51.0 337.1,51.7 336.5,52.4 335.9,52.9 335.3,53.3 334.7,53.6 334.1,53.8 333.5,53.9 332.9,53.8 332.3,53.6 331.7,53.4 331.1,53.2 330.5,53.0 329.9,52.9 329.3,52.9 328.7,52.8 328.1,52.8 327.5,52.8 326.9,52.8 326.3,52.9 325.7,52.9 325.1,52.9 324.5,52.9 323.9,52.9 323.3,52.9 322.7,52.9 322.1,52.9 321.5,52.9 320.9,52.9Z" fill="#c2daf0"/>
<path d="M320.9,52.4 321.5,52.4 322.1,52.4 322.7,52.4 323.3,52.5 323.9,52.5 324.5,52.4 325.1,52.4 325.7,52.4 326.3,52.4 326.9,52.4 327.5,52.3 328.1,52.3 328.7,52.3 329.3,52.3 329.9,52.4 330.5,52.5 331.1,52.6 331.7,52.8 332.3,53.1 332.9,53.2 333.5,53.3 334.1,53.3 334.7,53.1 335.3,52.7 335.9,52.3 336.5,51.8 337.1,51.1 337.7,50.4 338.3,49.7 338.9,48.9 339.5,48.1 340.1,47.4 340.7,46.7 341.3,46.2 341.9,45.8 342.5,45.6 343.1,45.7 343.7,45.9 344.3,46.3 344.9,46.9 345.5,47.6 346.1,48.3 346.7,49.1 347.3,50.0 347.9,50.8 348.5,51.6 349.1,52.4 349.7,53.1 350.3,53.9 350.9,54.5 351.5,55.1 352.1,55.6 352.7,56.1 353.3,56.5 353.9,56.7 354.5,56.9 355.1,57.0 355.7,56.9 356.3,56.7 356.9,56.4 357.5,56.1 358.1,55.6 358.7,55.1 359.3,54.5 359.9,53.8 360.5,53.1 361.1,52.3 361.7,51.5 362.3,50.7 362.9,49.9 363.5,49.1 364.1,48.4 364.7,47.7 365.3,47.1 365.9,46.6 366.5,46.2 367.1,45.9 367.7,45.8 368.3,45.9 368.9,46.1 369.5,46.5 370.1,47.0 370.7,47.6 371.3,48.2 371.9,49.0 372.5,49.8 373.1,50.6 373.7,51.4 374.3,52.2 374.9,52.9 375.5,53.6 376.1,54.0 376.7,54.3 377.3,54.4 377.9,54.2 378.5,53.8 379.1,53.2 379.7,52.4 380.3,51.4 380.9,50.3 381.5,49.2 382.1,48.0 382.7,46.8 383.3,45.6 383.9,44.5 384.5,43.6 385.1,42.7 385.7,42.1 386.3,41.8 386.9,41.7 387.5,41.8 388.1,42.2 388.7,42.7 389.3,43.4 389.9,44.2 390.5,45.0 391.1,45.8 391.7,46.6 392.3,47.4 392.9,48.0 393.5,48.5 394.1,48.8 394.7,48.9 395.3,48.7 395.9,48.3 396.5,47.7 397.1,47.0 397.7,46.2 398.3,45.4 398.9,44.6 399.5,43.8 400.1,43.1 400.7,42.6 401.3,42.2 401.9,42.0 402.5,42.1 403.1,42.4 403.7,42.8 404.3,43.3 404.9,44.0 405.5,44.7 406.1,45.5 406.7,46.4 407.3,47.2 407.9,48.1 408.5,48.9 409.1,49.6 409.7,50.2 410.3,50.8 410.9,51.1 411.5,51.3 412.1,51.4 412.7,51.4 413.3,51.2 413.9,51.1 414.5,50.8 415.1,50.5 415.7,50.3 416.3,50.0 416.9,49.8 417.5,49.5 418.1,49.3 418.7,49.2 419.3,49.0 419.9,48.9 420.5,48.8 421.1,48.7 421.7,48.7 422.3,48.7 422.9,48.8 423.5,49.0 424.1,49.2 424.7,49.5 425.3,49.9 425.9,50.4 426.5,51.2 427.1,52.0 427.7,52.9 428.3,53.9 428.9,54.9 429.5,55.9 430.1,56.8 430.7,57.6 431.3,58.3 431.9,58.9 432.5,59.2 433.1,59.3 433.7,59.1 434.3,58.7 434.9,58.1 435.5,57.4 436.1,56.5 436.7,55.5 437.3,54.4 437.9,53.3 438.5,52.2 439.1,51.1 439.7,50.1 440.3,49.3 440.9,48.6 441.5,48.2 442.1,48.1 442.7,48.4 443.3,49.1 443.9,50.2 444.5,51.5 445.1,53.1 445.7,54.8 446.3,56.5 446.9,58.3 447.5,59.9 448.1,61.4 448.7,62.6 449.3,63.6 449.9,64.1 450.5,64.2 451.1,63.8 451.7,63.0 452.3,61.8 452.9,60.4 453.5,58.8 454.1,57.1 454.7,55.4 455.3,53.8 455.9,52.3 456.5,51.1 457.1,50.2 457.7,49.7 458.3,49.7 458.9,50.1 459.5,51.0 460.1,52.3 460.7,53.8 461.3,55.4 461.9,57.2 462.5,58.9 463.1,60.6 463.7,62.1 464.3,63.4 464.9,64.3 465.5,64.7 466.1,64.7 466.7,64.1 467.3,63.2 467.9,61.9 468.5,60.4 469.1,58.8 469.7,57.1 470.3,55.5 470.9,54.0 471.5,52.8 472.1,51.9 472.7,51.5 473.3,51.6 473.9,52.0 474.5,52.9 475.1,53.9 475.7,55.2 476.3,56.5 476.9,57.9 477.5,59.2 478.1,60.4 478.7,61.3 479.3,62.0 479.9,62.3 480.5,62.2 481.1,61.7 481.7,60.7 482.3,59.5 482.9,58.0 483.5,56.3 484.1,54.5 484.7,52.5 485.3,50.6 485.9,48.7 486.5,46.9 487.1,45.2 487.7,43.8 488.3,42.6 488.9,41.7 489.5,41.3 490.1,41.3 490.7,41.6 491.3,42.3 491.9,43.3 492.5,44.5 493.1,45.8 493.7,47.3 494.3,48.8 494.9,50.4 495.5,51.9 496.1,53.3 496.7,54.5 497.3,55.6 497.9,56.4 498.5,56.9 499.1,57.0 499.7,56.8 500.3,56.4 500.9,55.7 501.5,54.8 502.1,53.9 502.6,53.0 L502.6,56.3 502.1,57.1 501.5,58.1 500.9,58.9 500.3,59.6 499.7,60.1 499.1,60.3 498.5,60.1 497.9,59.6 497.3,58.8 496.7,57.8 496.1,56.5 495.5,55.2 494.9,53.7 494.3,52.2 493.7,50.6 493.1,49.2 492.5,47.9 491.9,46.7 491.3,45.8 490.7,45.1 490.1,44.8 489.5,44.8 488.9,45.3 488.3,46.1 487.7,47.3 487.1,48.7 486.5,50.4 485.9,52.2 485.3,54.1 484.7,56.1 484.1,58.0 483.5,59.8 482.9,61.5 482.3,63.0 481.7,64.3 481.1,65.2 480.5,65.7 479.9,65.9 479.3,65.6 478.7,65.0 478.1,64.1 477.5,63.0 476.9,61.9 476.3,60.7 475.7,59.5 475.1,58.3 474.5,57.4 473.9,56.7 473.3,56.2 472.7,56.2 472.1,56.6 471.5,57.4 470.9,58.5 470.3,59.9 469.7,61.4 469.1,62.9 468.5,64.5 467.9,65.9 467.3,67.1 466.7,68.0 466.1,68.5 465.5,68.6 464.9,68.1 464.3,67.3 463.7,66.1 463.1,64.7 462.5,63.1 461.9,61.4 461.3,59.8 460.7,58.2 460.1,56.8 459.5,55.6 458.9,54.8 458.3,54.3 457.7,54.4 457.1,54.9 456.5,55.8 455.9,57.0 455.3,58.5 454.7,60.1 454.1,61.8 453.5,63.4 452.9,65.0 452.3,66.4 451.7,67.6 451.1,68.4 450.5,68.9 449.9,68.8 449.3,68.3 448.7,67.5 448.1,66.3 447.5,64.9 446.9,63.4 446.3,61.8 445.7,60.1 445.1,58.5 444.5,57.1 443.9,55.8 443.3,54.8 442.7,54.2 442.1,53.9 441.5,54.0 440.9,54.4 440.3,55.0 439.7,55.8 439.1,56.8 438.5,57.8 437.9,58.9 437.3,60.0 436.7,61.1 436.1,62.0 435.5,62.9 434.9,63.6 434.3,64.1 433.7,64.5 433.1,64.6 432.5,64.5 431.9,64.1 431.3,63.6 430.7,62.9 430.1,62.0 429.5,61.1 428.9,60.1 428.3,59.2 427.7,58.2 427.1,57.3 426.5,56.5 425.9,55.9 425.3,55.4 424.7,55.0 424.1,54.7 423.5,54.6 422.9,54.5 422.3,54.4 421.7,54.4 421.1,54.5 420.5,54.5 419.9,54.6 419.3,54.8 418.7,54.9 418.1,55.1 417.5,55.2 416.9,55.4 416.3,55.6 415.7,55.8 415.1,56.1 414.5,56.3 413.9,56.4 413.3,56.6 412.7,56.6 412.1,56.6 411.5,56.5 410.9,56.2 410.3,55.7 409.7,55.2 409.1,54.4 408.5,53.6 407.9,52.7 407.3,51.8 406.7,50.8 406.1,49.8 405.5,48.9 404.9,48.0 404.3,47.2 403.7,46.6 403.1,46.0 402.5,45.7 401.9,45.6 401.3,45.6 400.7,45.9 400.1,46.4 399.5,47.0 398.9,47.8 398.3,48.5 397.7,49.3 397.1,50.0 396.5,50.6 395.9,51.2 395.3,51.5 394.7,51.7 394.1,51.6 393.5,51.3 392.9,50.8 392.3,50.1 391.7,49.3 391.1,48.5 390.5,47.6 389.9,46.8 389.3,46.0 388.7,45.3 388.1,44.7 387.5,44.3 386.9,44.1 386.3,44.2 385.7,44.6 385.1,45.2 384.5,46.0 383.9,47.0 383.3,48.1 382.7,49.2 382.1,50.4 381.5,51.6 380.9,52.7 380.3,53.8 379.7,54.7 379.1,55.5 378.5,56.1 377.9,56.5 377.3,56.7 376.7,56.6 376.1,56.3 375.5,55.8 374.9,55.1 374.3,54.4 373.7,53.6 373.1,52.8 372.5,51.9 371.9,51.1 371.3,50.3 370.7,49.7 370.1,49.0 369.5,48.5 368.9,48.2 368.3,47.9 367.7,47.8 367.1,47.9 366.5,48.1 365.9,48.5 365.3,49.0 364.7,49.6 364.1,50.2 363.5,50.9 362.9,51.7 362.3,52.5 361.7,53.3 361.1,54.0 360.5,54.8 359.9,55.4 359.3,56.1 358.7,56.6 358.1,57.1 357.5,57.6 356.9,57.9 356.3,58.1 355.7,58.2 355.1,58.2 354.5,58.1 353.9,57.9 353.3,57.6 352.7,57.2 352.1,56.6 351.5,56.1 350.9,55.4 350.3,54.7 349.7,53.9 349.1,53.1 348.5,52.3 347.9,51.5 347.3,50.6 346.7,49.7 346.1,48.9 345.5,48.1 344.9,47.4 344.3,46.9 343.7,46.5 343.1,46.2 342.5,46.1 341.9,46.3 341.3,46.7 340.7,47.2 340.1,47.8 339.5,48.6 338.9,49.3 338.3,50.1 337.7,50.9 337.1,51.6 336.5,52.2 335.9,52.7 335.3,53.2 334.7,53.5 334.1,53.7 333.5,53.7 332.9,53.6 332.3,53.4 331.7,53.2 331.1,53.0 330.5,52.9 329.9,52.8 329.3,52.7 328.7,52.7 328.1,52.7 327.5,52.7 326.9,52.7 326.3,52.7 325.7,52.7 325.1,52.8 324.5,52.8 323.9,52.8 323.3,52.8 322.7,52.8 322.1,52.8 321.5,52.8 320.9,52.8Z" fill="#9fc5e8"/>
<polyline points="320.9,52.6 321.5,52.6 322.1,52.6 322.7,52.6 323.3,52.6 323.9,52.6 324.5,52.6 325.1,52.6 325.7,52.6 326.3,52.6 326.9,52.5 327.5,52.5 328.1,52.5 328.7,52.5 329.3,52.5 329.9,52.6 330.5,52.7 331.1,52.8 331.7,53.0 332.3,53.2 332.9,53.4 333.5,53.5 334.1,53.5 334.7,53.3 335.3,53.0 335.9,52.5 336.5,52.0 337.1,51.3 337.7,50.6 338.3,49.9 338.9,49.1 339.5,48.3 340.1,47.6 340.7,46.9 341.3,46.4 341.9,46.1 342.5,45.9 343.1,45.9 343.7,46.2 344.3,46.6 344.9,47.2 345.5,47.8 346.1,48.6 346.7,49.4 347.3,50.3 347.9,51.1 348.5,52.0 349.1,52.8 349.7,53.5 350.3,54.3 350.9,55.0 351.5,55.6 352.1,56.1 352.7,56.6 353.3,57.0 353.9,57.3 354.5,57.5 355.1,57.6 355.7,57.6 356.3,57.4 356.9,57.2 357.5,56.8 358.1,56.4 358.7,55.9 359.3,55.3 359.9,54.6 360.5,53.9 361.1,53.2 361.7,52.4 362.3,51.6 362.9,50.8 363.5,50.0 364.1,49.3 364.7,48.6 365.3,48.0 365.9,47.5 366.5,47.1 367.1,46.9 367.7,46.8 368.3,46.9 368.9,47.1 369.5,47.5 370.1,48.0 370.7,48.6 371.3,49.3 371.9,50.0 372.5,50.8 373.1,51.7 373.7,52.5 374.3,53.3 374.9,54.0 375.5,54.7 376.1,55.2 376.7,55.5 377.3,55.6 377.9,55.4 378.5,55.0 379.1,54.4 379.7,53.6 380.3,52.7 380.9,51.6 381.5,50.5 382.1,49.3 382.7,48.1 383.3,47.0 383.9,45.9 384.5,44.9 385.1,44.1 385.7,43.5 386.3,43.1 386.9,43.0 387.5,43.2 388.1,43.6 388.7,44.1 389.3,44.8 389.9,45.5 390.5,46.4 391.1,47.2 391.7,48.0 392.3,48.8 392.9,49.4 393.5,49.9 394.1,50.2 394.7,50.3 395.3,50.1 395.9,49.8 396.5,49.3 397.1,48.6 397.7,47.9 398.3,47.1 398.9,46.4 399.5,45.7 400.1,45.1 400.7,44.6 401.3,44.3 401.9,44.2 402.5,44.3 403.1,44.6 403.7,45.1 404.3,45.7 404.9,46.4 405.5,47.2 406.1,48.0 406.7,48.9 407.3,49.8 407.9,50.7 408.5,51.5 409.1,52.3 409.7,53.0 410.3,53.5 410.9,53.9 411.5,54.1 412.1,54.2 412.7,54.2 413.3,54.1 413.9,54.0 414.5,53.7 415.1,53.5 415.7,53.2 416.3,53.0 416.9,52.8 417.5,52.5 418.1,52.3 418.7,52.2 419.3,52.0 419.9,51.9 420.5,51.8 421.1,51.7 421.7,51.7 422.3,51.7 422.9,51.8 423.5,51.9 424.1,52.1 424.7,52.4 425.3,52.8 425.9,53.3 426.5,54.0 427.1,54.8 427.7,55.7 428.3,56.7 428.9,57.7 429.5,58.6 430.1,59.5 430.7,60.4 431.3,61.1 431.9,61.6 432.5,62.0 433.1,62.1 433.7,62.0 434.3,61.6 434.9,61.1 435.5,60.4 436.1,59.5 436.7,58.6 437.3,57.6 437.9,56.5 438.5,55.4 439.1,54.3 439.7,53.4 440.3,52.5 440.9,51.9 441.5,51.5 442.1,51.4 442.7,51.7 443.3,52.4 443.9,53.4 444.5,54.7 445.1,56.1 445.7,57.8 446.3,59.4 446.9,61.1 447.5,62.7 448.1,64.1 448.7,65.3 449.3,66.1 449.9,66.6 450.5,66.7 451.1,66.2 451.7,65.4 452.3,64.2 452.9,62.7 453.5,61.1 454.1,59.4 454.7,57.7 455.3,56.1 455.9,54.6 456.5,53.3 457.1,52.4 457.7,51.9 458.3,51.8 458.9,52.3 459.5,53.2 460.1,54.4 460.7,55.9 461.3,57.5 461.9,59.2 462.5,61.0 463.1,62.6 463.7,64.1 464.3,65.3 464.9,66.2 465.5,66.7 466.1,66.6 466.7,66.1 467.3,65.1 467.9,63.9 468.5,62.4 469.1,60.8 469.7,59.2 470.3,57.6 470.9,56.1 471.5,55.0 472.1,54.1 472.7,53.7 473.3,53.8 473.9,54.2 474.5,55.0 475.1,56.0 475.7,57.2 476.3,58.5 476.9,59.8 477.5,61.1 478.1,62.2 478.7,63.1 479.3,63.8 479.9,64.1 480.5,64.0 481.1,63.4 481.7,62.5 482.3,61.3 482.9,59.8 483.5,58.1 484.1,56.2 484.7,54.3 485.3,52.4 485.9,50.4 486.5,48.6 487.1,47.0 487.7,45.5 488.3,44.4 488.9,43.5 489.5,43.1 490.1,43.0 490.7,43.4 491.3,44.0 491.9,45.0 492.5,46.1 493.1,47.4 493.7,48.9 494.3,50.4 494.9,51.9 495.5,53.4 496.1,54.8 496.7,56.0 497.3,57.1 497.9,57.9 498.5,58.4 499.1,58.5 499.7,58.3 500.3,57.9 500.9,57.2 501.5,56.4 502.1,55.5 502.6,54.6" fill="none" stroke="#cf2238" stroke-width="1.35" stroke-linejoin="round"/>
<polyline points="88.0,167.0 88.5,165.8 89.0,164.6 89.5,163.4 90.0,162.2 90.5,160.9 91.0,159.6 91.5,158.3 92.0,157.0 92.5,155.4 93.0,153.6 93.5,151.8 94.0,150.1 94.5,148.9 95.0,148.5 95.5,149.2 96.0,151.1 96.5,153.8 97.0,157.2 97.5,160.9 98.0,164.6 98.5,168.0 99.0,171.9 99.5,176.7 100.0,181.7 100.5,186.1 101.0,189.3 101.5,190.5 102.0,189.7 102.5,187.6 103.0,184.7 103.5,181.3 104.0,178.0 104.5,174.3 105.0,169.7 105.5,164.7 106.0,159.8 106.5,155.4 107.0,152.0 107.5,149.2 108.0,146.3 108.5,143.8 109.0,141.7 109.5,140.2 110.0,139.7 110.5,140.2 111.0,141.6 111.5,143.5 112.0,145.7 112.5,148.0 113.0,150.0 113.5,152.1 114.0,154.6 114.5,157.2 115.0,159.7 115.5,162.0 116.0,163.8 116.5,164.8 117.0,164.9 117.5,164.4 118.0,163.3 118.5,161.9 119.0,160.3 119.5,158.7 120.0,157.2 120.5,156.0 121.0,154.9 121.5,153.7 122.0,152.4 122.5,151.3 123.0,150.3 123.5,149.6 124.0,149.2 124.5,149.4 125.0,150.3 125.5,151.9 126.0,153.7 126.5,155.5 127.0,157.0 127.5,157.8 128.0,158.4 128.5,159.0 129.0,159.5 129.5,159.9 130.0,160.2 130.5,160.4 131.0,160.5" fill="none" stroke="#b9d1ec" stroke-width="0.8" stroke-opacity="0.8" stroke-linejoin="round"/>
<polyline points="92.0,157.0 92.5,154.2 93.0,152.0 93.5,150.4 94.0,149.3 94.5,148.7 95.0,148.5 95.5,149.1 96.0,150.8 96.5,153.2 97.0,156.3 97.5,159.8 98.0,163.3 98.5,166.8 99.0,170.0 99.5,173.5 100.0,177.7 100.5,181.8 101.0,184.8 101.5,186.0 102.0,185.4 102.5,183.7 103.0,181.3 103.5,178.6 104.0,176.0 104.5,173.1 105.0,169.7 105.5,166.0 106.0,162.3 106.5,158.9 107.0,156.0 107.5,153.4 108.0,150.7 108.5,148.1 109.0,146.0 109.5,144.5 110.0,144.0 110.5,144.4 111.0,145.4 111.5,146.9 112.0,148.6 112.5,150.4 113.0,152.0 113.5,153.7 114.0,155.6 114.5,157.7 115.0,159.8 115.5,161.6 116.0,163.0 116.5,163.9 117.0,164.0 117.5,163.5 118.0,162.7 118.5,161.7 119.0,160.4 119.5,159.2 120.0,158.0 120.5,157.0 121.0,156.0 121.5,155.0 122.0,153.9 122.5,152.9 123.0,152.0 123.5,151.4 124.0,151.0 124.5,151.1 125.0,151.8 125.5,153.0 126.0,154.3 126.5,155.7 127.0,156.9 127.5,157.6 128.0,158.2 128.5,158.8 129.0,159.3 129.5,159.7 130.0,160.1 130.5,160.3 131.0,160.5" fill="none" stroke="#b9d1ec" stroke-width="0.8" stroke-opacity="0.5" stroke-linejoin="round"/>
<polyline points="69.5,153.0 70.0,151.4 70.5,149.9 71.0,148.5 71.5,147.2 72.0,145.8 72.5,145.3 73.0,146.2 73.5,147.7 74.0,149.2 74.5,151.0 75.0,153.0" fill="none" stroke="#b9d1ec" stroke-width="1.0" stroke-opacity="0.6" stroke-linejoin="round"/>
<polyline points="50.0,156.0 50.5,154.9 51.0,154.1 51.5,153.4 52.0,152.9 52.5,152.6 53.0,152.5 53.5,152.6 54.0,152.9 54.5,153.3 55.0,154.0" fill="none" stroke="#b9d1ec" stroke-width="0.8" stroke-opacity="0.5" stroke-linejoin="round"/>
<path d="M32.9,163.3 33.5,162.7 34.1,162.1 34.7,161.5 35.3,161.1 35.9,160.7 36.5,160.5 37.1,160.5 37.7,160.7 38.3,161.2 38.9,161.9 39.5,162.8 40.1,163.7 40.7,164.5 41.3,165.2 41.9,165.7 42.5,165.8 43.1,165.4 43.7,164.6 44.3,163.4 44.9,162.0 45.5,160.4 46.1,158.7 46.7,156.9 47.3,155.3 47.9,153.9 48.5,152.7 49.1,151.8 49.7,151.4 50.3,151.5 50.9,152.1 51.5,153.2 52.1,154.7 52.7,156.5 53.3,158.4 53.9,160.4 54.5,162.5 55.1,164.4 55.7,166.2 56.3,167.8 56.9,168.9 57.5,169.7 58.1,170.0 58.7,170.1 59.3,170.2 59.9,170.4 60.5,170.9 61.1,171.4 61.7,171.8 62.3,171.9 62.9,171.7 63.5,171.1 64.1,170.2 64.7,169.0 65.3,167.6 65.9,166.1 66.5,164.4 67.1,162.7 67.7,161.0 68.3,159.3 68.9,157.7 69.5,156.2 70.1,154.9 70.7,153.9 71.3,153.1 71.9,152.5 72.5,152.1 73.1,152.0 73.7,151.9 74.3,152.1 74.9,152.3 75.5,152.8 76.1,153.5 76.7,154.3 77.3,155.3 77.9,156.6 78.5,158.0 79.1,159.7 79.7,161.4 80.3,163.2 80.9,165.0 81.5,166.7 82.1,168.3 82.7,169.8 83.3,171.0 83.9,171.9 84.5,172.4 85.1,172.6 85.7,172.5 86.3,172.0 86.9,171.1 87.5,170.0 88.1,168.5 88.7,166.7 89.3,164.6 89.9,162.2 90.5,159.7 91.1,157.2 91.7,154.7 92.3,152.3 92.9,150.2 93.5,148.4 94.1,147.1 94.7,146.3 95.3,146.1 95.9,146.6 96.5,147.8 97.1,149.8 97.7,152.7 98.3,156.1 98.9,159.9 99.5,163.8 100.1,167.5 100.7,170.7 101.3,173.1 101.9,174.4 102.5,174.7 103.1,174.0 103.7,172.5 104.3,170.4 104.9,167.9 105.5,165.2 106.1,162.3 106.7,159.5 107.3,156.8 107.9,154.3 108.5,152.3 109.1,150.8 109.7,150.0 110.3,150.0 110.9,150.7 111.5,152.1 112.1,154.1 112.7,156.5 113.3,159.3 113.9,162.3 114.5,165.4 115.1,168.3 115.7,171.0 116.3,173.2 116.9,174.7 117.5,175.5 118.1,175.4 118.7,174.6 119.3,173.3 119.9,171.5 120.5,169.6 121.1,167.5 121.7,165.4 122.3,163.5 122.9,161.8 123.5,160.4 124.1,159.2 124.7,158.4 125.3,157.7 125.9,157.4 126.5,157.3 127.1,157.4 127.7,157.6 128.3,158.0 128.9,158.3 129.5,158.7 130.1,159.0 130.7,159.3 131.3,159.5 131.9,159.9 132.5,160.3 133.1,160.7 133.7,161.3 134.3,162.1 134.9,163.0 135.5,164.0 136.1,165.1 136.7,166.5 137.3,167.9 137.9,169.4 138.5,170.8 139.1,172.1 139.7,173.1 140.3,173.9 140.9,174.3 141.5,174.2 142.1,173.6 142.7,172.6 143.3,170.9 143.9,168.8 144.5,166.2 145.1,163.2 145.7,160.1 146.3,157.0 146.9,154.0 147.5,151.4 148.1,149.2 148.7,147.6 149.3,146.9 149.9,147.0 150.5,147.8 151.1,149.4 151.7,151.7 152.3,154.5 152.9,157.9 153.5,161.7 154.1,165.7 154.7,169.8 155.3,173.7 155.9,177.4 156.5,180.6 157.1,183.2 157.7,185.1 158.3,186.0 158.9,185.8 159.5,184.3 160.1,181.4 160.7,177.0 161.3,171.6 161.9,165.4 162.5,158.9 163.1,152.5 163.7,146.6 164.3,141.5 164.9,137.8 165.5,135.7 166.1,135.5 166.7,137.0 167.3,139.9 167.9,143.9 168.5,148.7 169.1,154.1 169.7,159.6 170.3,165.1 170.9,170.3 171.5,175.0 172.1,178.9 172.7,181.9 173.3,183.6 173.9,183.9 174.5,182.6 175.1,179.8 175.7,175.7 176.3,170.8 176.9,165.2 177.5,159.6 178.1,154.0 178.7,148.9 179.3,144.7 179.9,141.7 180.5,140.2 181.1,140.1 181.7,141.3 182.3,143.7 182.9,146.8 183.5,150.6 184.1,154.8 184.7,159.3 185.3,163.7 185.9,167.9 186.5,171.7 187.1,174.8 187.7,177.0 188.3,178.2 188.9,178.1 189.5,176.9 190.1,174.6 190.7,171.6 191.3,167.9 191.9,163.8 192.5,159.5 193.1,155.1 193.7,150.8 194.3,146.8 194.9,143.3 195.5,140.5 196.1,138.6 196.7,137.7 197.3,137.9 197.9,139.0 198.5,141.0 199.1,143.6 199.7,146.8 200.3,150.5 200.9,154.4 201.5,158.6 202.1,162.8 202.7,167.0 203.3,170.9 203.9,174.5 204.5,177.7 205.1,180.3 205.7,182.1 206.3,183.3 206.9,183.7 207.5,183.5 208.1,182.7 208.7,181.3 209.3,179.5 209.9,177.2 210.5,174.5 211.1,171.5 211.7,168.1 212.3,164.6 212.9,160.8 213.5,156.9 214.1,152.9 214.6,149.5 L214.6,152.1 214.1,155.5 213.5,159.5 212.9,163.4 212.3,167.2 211.7,170.7 211.1,174.1 210.5,177.1 209.9,179.8 209.3,182.1 208.7,183.9 208.1,185.3 207.5,186.1 206.9,186.3 206.3,185.9 205.7,184.7 205.1,182.9 204.5,180.3 203.9,177.1 203.3,173.5 202.7,169.6 202.1,165.4 201.5,161.2 200.9,157.0 200.3,153.1 199.7,149.4 199.1,146.2 198.5,143.6 197.9,141.6 197.3,140.5 196.7,140.3 196.1,141.2 195.5,143.1 194.9,145.9 194.3,149.4 193.7,153.4 193.1,157.7 192.5,162.1 191.9,166.4 191.3,170.5 190.7,174.2 190.1,177.2 189.5,179.5 188.9,180.7 188.3,180.8 187.7,179.6 187.1,177.4 186.5,174.3 185.9,170.5 185.3,166.3 184.7,161.9 184.1,157.4 183.5,153.2 182.9,149.4 182.3,146.3 181.7,143.9 181.1,142.7 180.5,142.8 179.9,144.3 179.3,147.3 178.7,151.5 178.1,156.6 177.5,162.2 176.9,167.8 176.3,173.4 175.7,178.3 175.1,182.4 174.5,185.2 173.9,186.5 173.3,186.2 172.7,184.5 172.1,181.5 171.5,177.6 170.9,172.9 170.3,167.7 169.7,162.2 169.1,156.7 168.5,151.3 167.9,146.5 167.3,142.5 166.7,139.6 166.1,138.1 165.5,138.3 164.9,140.4 164.3,144.1 163.7,149.2 163.1,155.1 162.5,161.5 161.9,168.0 161.3,174.2 160.7,179.6 160.1,184.0 159.5,186.9 158.9,188.4 158.3,188.6 157.7,187.7 157.1,185.8 156.5,183.2 155.9,180.0 155.3,176.3 154.7,172.4 154.1,168.3 153.5,164.3 152.9,160.5 152.3,157.1 151.7,154.3 151.1,152.0 150.5,150.4 149.9,149.6 149.3,149.5 148.7,150.2 148.1,151.8 147.5,154.0 146.9,156.6 146.3,159.6 145.7,162.7 145.1,165.8 144.5,168.8 143.9,171.4 143.3,173.5 142.7,175.2 142.1,176.2 141.5,176.8 140.9,176.9 140.3,176.5 139.7,175.7 139.1,174.7 138.5,173.4 137.9,172.1 137.3,170.6 136.7,169.3 136.1,168.0 135.5,166.9 134.9,166.0 134.3,165.2 133.7,164.6 133.1,164.1 132.5,163.8 131.9,163.6 131.3,163.4 130.7,163.2 130.1,163.0 129.5,162.7 128.9,162.3 128.3,161.9 127.7,161.4 127.1,161.1 126.5,160.9 125.9,160.9 125.3,161.1 124.7,161.7 124.1,162.5 123.5,163.5 122.9,164.8 122.3,166.3 121.7,168.0 121.1,170.0 120.5,172.0 119.9,173.9 119.3,175.7 118.7,177.0 118.1,177.8 117.5,177.9 116.9,177.1 116.3,175.6 115.7,173.4 115.1,170.7 114.5,167.8 113.9,164.7 113.3,161.7 112.7,158.9 112.1,156.5 111.5,154.5 110.9,153.1 110.3,152.4 109.7,152.4 109.1,153.2 108.5,154.7 107.9,156.7 107.3,159.2 106.7,161.9 106.1,164.7 105.5,167.6 104.9,170.3 104.3,172.8 103.7,174.9 103.1,176.4 102.5,177.1 101.9,176.8 101.3,175.5 100.7,173.1 100.1,169.9 99.5,166.2 98.9,162.3 98.3,158.5 97.7,155.1 97.1,152.2 96.5,150.2 95.9,149.0 95.3,148.5 94.7,148.7 94.1,149.5 93.5,150.8 92.9,152.6 92.3,154.7 91.7,157.1 91.1,159.6 90.5,162.1 89.9,164.6 89.3,167.0 88.7,169.1 88.1,170.9 87.5,172.4 86.9,173.5 86.3,174.4 85.7,174.9 85.1,175.0 84.5,174.8 83.9,174.3 83.3,173.4 82.7,172.2 82.1,170.7 81.5,169.1 80.9,167.4 80.3,165.6 79.7,163.8 79.1,162.1 78.5,160.4 77.9,159.0 77.3,157.7 76.7,156.7 76.1,155.8 75.5,155.2 74.9,154.7 74.3,154.4 73.7,154.3 73.1,154.3 72.5,154.5 71.9,154.9 71.3,155.4 70.7,156.2 70.1,157.2 69.5,158.5 68.9,160.0 68.3,161.5 67.7,163.2 67.1,165.0 66.5,166.7 65.9,168.3 65.3,169.8 64.7,171.2 64.1,172.4 63.5,173.3 62.9,173.9 62.3,174.1 61.7,173.9 61.1,173.5 60.5,173.0 59.9,172.5 59.3,172.2 58.7,172.2 58.1,172.0 57.5,171.7 56.9,171.0 56.3,169.8 55.7,168.2 55.1,166.4 54.5,164.4 53.9,162.4 53.3,160.3 52.7,158.3 52.1,156.6 51.5,155.1 50.9,154.0 50.3,153.3 49.7,153.2 49.1,153.6 48.5,154.4 47.9,155.6 47.3,157.0 46.7,158.6 46.1,160.3 45.5,161.9 44.9,163.5 44.3,164.9 43.7,166.1 43.1,166.8 42.5,167.2 41.9,167.0 41.3,166.5 40.7,165.8 40.1,164.9 39.5,163.9 38.9,163.0 38.3,162.2 37.7,161.7 37.1,161.4 36.5,161.4 35.9,161.6 35.3,161.9 34.7,162.3 34.1,162.8 33.5,163.3 32.9,163.9Z" fill="#4a8fd0"/>
<polyline points="32.9,163.6 33.5,163.0 34.1,162.4 34.7,161.9 35.3,161.5 35.9,161.1 36.5,161.0 37.1,161.0 37.7,161.2 38.3,161.7 38.9,162.4 39.5,163.3 40.1,164.3 40.7,165.2 41.3,165.9 41.9,166.4 42.5,166.5 43.1,166.1 43.7,165.3 44.3,164.2 44.9,162.8 45.5,161.2 46.1,159.5 46.7,157.8 47.3,156.2 47.9,154.7 48.5,153.5 49.1,152.7 49.7,152.3 50.3,152.4 50.9,153.1 51.5,154.2 52.1,155.6 52.7,157.4 53.3,159.4 53.9,161.4 54.5,163.5 55.1,165.4 55.7,167.2 56.3,168.8 56.9,169.9 57.5,170.7 58.1,171.0 58.7,171.1 59.3,171.2 59.9,171.5 60.5,171.9 61.1,172.4 61.7,172.8 62.3,173.0 62.9,172.8 63.5,172.2 64.1,171.3 64.7,170.1 65.3,168.7 65.9,167.2 66.5,165.5 67.1,163.8 67.7,162.1 68.3,160.4 68.9,158.8 69.5,157.3 70.1,156.1 70.7,155.0 71.3,154.2 71.9,153.7 72.5,153.3 73.1,153.1 73.7,153.1 74.3,153.2 74.9,153.5 75.5,154.0 76.1,154.6 76.7,155.5 77.3,156.5 77.9,157.8 78.5,159.2 79.1,160.9 79.7,162.6 80.3,164.4 80.9,166.2 81.5,167.9 82.1,169.5 82.7,171.0 83.3,172.2 83.9,173.1 84.5,173.6 85.1,173.8 85.7,173.7 86.3,173.2 86.9,172.3 87.5,171.2 88.1,169.7 88.7,167.9 89.3,165.8 89.9,163.4 90.5,160.9 91.1,158.4 91.7,155.9 92.3,153.5 92.9,151.4 93.5,149.6 94.1,148.3 94.7,147.5 95.3,147.3 95.9,147.8 96.5,149.0 97.1,151.0 97.7,153.9 98.3,157.3 98.9,161.1 99.5,165.0 100.1,168.7 100.7,171.9 101.3,174.3 101.9,175.6 102.5,175.9 103.1,175.2 103.7,173.7 104.3,171.6 104.9,169.1 105.5,166.4 106.1,163.5 106.7,160.7 107.3,158.0 107.9,155.5 108.5,153.5 109.1,152.0 109.7,151.2 110.3,151.2 110.9,151.9 111.5,153.3 112.1,155.3 112.7,157.7 113.3,160.5 113.9,163.5 114.5,166.6 115.1,169.5 115.7,172.2 116.3,174.4 116.9,175.9 117.5,176.7 118.1,176.6 118.7,175.8 119.3,174.5 119.9,172.7 120.5,170.8 121.1,168.7 121.7,166.7 122.3,164.9 122.9,163.3 123.5,162.0 124.1,160.9 124.7,160.0 125.3,159.4 125.9,159.1 126.5,159.1 127.1,159.2 127.7,159.5 128.3,159.9 128.9,160.3 129.5,160.7 130.1,161.0 130.7,161.2 131.3,161.5 131.9,161.7 132.5,162.0 133.1,162.4 133.7,163.0 134.3,163.6 134.9,164.5 135.5,165.4 136.1,166.6 136.7,167.9 137.3,169.3 137.9,170.7 138.5,172.1 139.1,173.4 139.7,174.4 140.3,175.2 140.9,175.6 141.5,175.5 142.1,174.9 142.7,173.9 143.3,172.2 143.9,170.1 144.5,167.5 145.1,164.5 145.7,161.4 146.3,158.3 146.9,155.3 147.5,152.7 148.1,150.5 148.7,148.9 149.3,148.2 149.9,148.3 150.5,149.1 151.1,150.7 151.7,153.0 152.3,155.8 152.9,159.2 153.5,163.0 154.1,167.0 154.7,171.1 155.3,175.0 155.9,178.7 156.5,181.9 157.1,184.5 157.7,186.4 158.3,187.3 158.9,187.1 159.5,185.6 160.1,182.7 160.7,178.3 161.3,172.9 161.9,166.7 162.5,160.2 163.1,153.8 163.7,147.9 164.3,142.8 164.9,139.1 165.5,137.0 166.1,136.8 166.7,138.3 167.3,141.2 167.9,145.2 168.5,150.0 169.1,155.4 169.7,160.9 170.3,166.4 170.9,171.6 171.5,176.3 172.1,180.2 172.7,183.2 173.3,184.9 173.9,185.2 174.5,183.9 175.1,181.1 175.7,177.0 176.3,172.1 176.9,166.5 177.5,160.9 178.1,155.3 178.7,150.2 179.3,146.0 179.9,143.0 180.5,141.5 181.1,141.4 181.7,142.6 182.3,145.0 182.9,148.1 183.5,151.9 184.1,156.1 184.7,160.6 185.3,165.0 185.9,169.2 186.5,173.0 187.1,176.1 187.7,178.3 188.3,179.5 188.9,179.4 189.5,178.2 190.1,175.9 190.7,172.9 191.3,169.2 191.9,165.1 192.5,160.8 193.1,156.4 193.7,152.1 194.3,148.1 194.9,144.6 195.5,141.8 196.1,139.9 196.7,139.0 197.3,139.2 197.9,140.3 198.5,142.3 199.1,144.9 199.7,148.1 200.3,151.8 200.9,155.7 201.5,159.9 202.1,164.1 202.7,168.3 203.3,172.2 203.9,175.8 204.5,179.0 205.1,181.6 205.7,183.4 206.3,184.6 206.9,185.0 207.5,184.8 208.1,184.0 208.7,182.6 209.3,180.8 209.9,178.5 210.5,175.8 211.1,172.8 211.7,169.4 212.3,165.9 212.9,162.1 213.5,158.2 214.1,154.2 214.6,150.8" fill="none" stroke="#d82630" stroke-width="1.25" stroke-linejoin="round"/>
<polyline points="320.9,163.6 321.5,163.0 322.1,162.4 322.7,161.9 323.3,161.5 323.9,161.1 324.5,161.0 325.1,161.0 325.7,161.2 326.3,161.7 326.9,162.4 327.5,163.3 328.1,164.3 328.7,165.2 329.3,165.9 329.9,166.4 330.5,166.5 331.1,166.1 331.7,165.3 332.3,164.2 332.9,162.8 333.5,161.2 334.1,159.5 334.7,157.8 335.3,156.2 335.9,154.7 336.5,153.5 337.1,152.7 337.7,152.3 338.3,152.4 338.9,153.1 339.5,154.2 340.1,155.6 340.7,157.4 341.3,159.4 341.9,161.4 342.5,163.5 343.1,165.4 343.7,167.2 344.3,168.8 344.9,169.9 345.5,170.7 346.1,171.0 346.7,171.1 347.3,171.2 347.9,171.5 348.5,171.9 349.1,172.4 349.7,172.8 350.3,173.0 350.9,172.8 351.5,172.2 352.1,171.3 352.7,170.1 353.3,168.7 353.9,167.2 354.5,165.5 355.1,163.8 355.7,162.1 356.3,160.4 356.9,158.8 357.5,157.3 358.1,156.1 358.7,155.0 359.3,154.2 359.9,153.7 360.5,153.3 361.1,153.1 361.7,153.1 362.3,153.2 362.9,153.5 363.5,154.0 364.1,154.6 364.7,155.5 365.3,156.5 365.9,157.8 366.5,159.2 367.1,160.9 367.7,162.6 368.3,164.4 368.9,166.2 369.5,167.9 370.1,169.5 370.7,171.0 371.3,172.2 371.9,173.1 372.5,173.6 373.1,173.8 373.7,173.7 374.3,173.2 374.9,172.3 375.5,171.2 376.1,169.7 376.7,167.9 377.3,165.8 377.9,163.4 378.5,160.9 379.1,158.4 379.7,155.9 380.3,153.5 380.9,151.4 381.5,149.6 382.1,148.3 382.7,147.5 383.3,147.3 383.9,147.8 384.5,149.0 385.1,151.0 385.7,153.9 386.3,157.3 386.9,161.1 387.5,165.0 388.1,168.7 388.7,171.9 389.3,174.3 389.9,175.6 390.5,175.9 391.1,175.2 391.7,173.7 392.3,171.6 392.9,169.1 393.5,166.4 394.1,163.5 394.7,160.7 395.3,158.0 395.9,155.5 396.5,153.5 397.1,152.0 397.7,151.2 398.3,151.2 398.9,151.9 399.5,153.3 400.1,155.3 400.7,157.7 401.3,160.5 401.9,163.5 402.5,166.6 403.1,169.5 403.7,172.2 404.3,174.4 404.9,175.9 405.5,176.7 406.1,176.6 406.7,175.8 407.3,174.5 407.9,172.7 408.5,170.8 409.1,168.7 409.7,166.7 410.3,164.9 410.9,163.3 411.5,162.0 412.1,160.9 412.7,160.0 413.3,159.4 413.9,159.1 414.5,159.1 415.1,159.2 415.7,159.5 416.3,159.9 416.9,160.3 417.5,160.7 418.1,161.0 418.7,161.2 419.3,161.5 419.9,161.7 420.5,162.0 421.1,162.4 421.7,163.0 422.3,163.6 422.9,164.5 423.5,165.4 424.1,166.6 424.7,167.9 425.3,169.3 425.9,170.7 426.5,172.1 427.1,173.4 427.7,174.4 428.3,175.2 428.9,175.6 429.5,175.5 430.1,174.9 430.7,173.9 431.3,172.2 431.9,170.1 432.5,167.5 433.1,164.5 433.7,161.4 434.3,158.3 434.9,155.3 435.5,152.7 436.1,150.5 436.7,148.9 437.3,148.2 437.9,148.3 438.5,149.1 439.1,150.7 439.7,153.0 440.3,155.8 440.9,159.2 441.5,163.0 442.1,167.0 442.7,171.1 443.3,175.0 443.9,178.7 444.5,181.9 445.1,184.5 445.7,186.4 446.3,187.3 446.9,187.1 447.5,185.6 448.1,182.7 448.7,178.3 449.3,172.9 449.9,166.7 450.5,160.2 451.1,153.8 451.7,147.9 452.3,142.8 452.9,139.1 453.5,137.0 454.1,136.8 454.7,138.3 455.3,141.2 455.9,145.2 456.5,150.0 457.1,155.4 457.7,160.9 458.3,166.4 458.9,171.6 459.5,176.3 460.1,180.2 460.7,183.2 461.3,184.9 461.9,185.2 462.5,183.9 463.1,181.1 463.7,177.0 464.3,172.1 464.9,166.5 465.5,160.9 466.1,155.3 466.7,150.2 467.3,146.0 467.9,143.0 468.5,141.5 469.1,141.4 469.7,142.6 470.3,145.0 470.9,148.1 471.5,151.9 472.1,156.1 472.7,160.6 473.3,165.0 473.9,169.2 474.5,173.0 475.1,176.1 475.7,178.3 476.3,179.5 476.9,179.4 477.5,178.2 478.1,175.9 478.7,172.9 479.3,169.2 479.9,165.1 480.5,160.8 481.1,156.4 481.7,152.1 482.3,148.1 482.9,144.6 483.5,141.8 484.1,139.9 484.7,139.0 485.3,139.2 485.9,140.3 486.5,142.3 487.1,144.9 487.7,148.1 488.3,151.8 488.9,155.7 489.5,159.9 490.1,164.1 490.7,168.3 491.3,172.2 491.9,175.8 492.5,179.0 493.1,181.6 493.7,183.4 494.3,184.6 494.9,185.0 495.5,184.8 496.1,184.0 496.7,182.6 497.3,180.8 497.9,178.5 498.5,175.8 499.1,172.8 499.7,169.4 500.3,165.9 500.9,162.1 501.5,158.2 502.1,154.2 502.6,150.8" fill="none" stroke="#bb1f3c" stroke-width="1.4" stroke-linejoin="round"/>
<polyline points="32.9,272.5 33.5,273.2 34.1,273.8 34.7,274.4 35.3,275.1 35.9,274.4 36.5,273.8 37.1,273.2 37.7,272.5 38.3,273.9 38.9,275.2 39.5,276.6 40.1,278.2 40.7,276.0 41.3,273.1 41.9,270.0 42.5,266.8 43.1,269.6 43.7,272.5 44.3,275.4 44.9,278.9 45.5,275.9 46.1,273.0 46.7,269.8 47.3,266.7 47.9,266.7 48.5,266.9 49.1,268.3 49.7,269.7 50.3,268.6 50.9,267.4 51.5,266.2 52.1,264.1 52.7,266.3 53.3,268.8 53.9,271.7 54.5,274.6 55.1,275.6 55.7,276.6 56.3,277.5 56.9,278.2 57.5,277.7 58.1,277.3 58.7,277.3 59.3,277.6 59.9,277.8 60.5,278.3 61.1,278.7 61.7,278.6 62.3,275.1 62.9,271.5 63.5,268.1 64.1,264.7 64.7,265.9 65.3,267.2 65.9,268.5 66.5,269.8 67.1,270.0 67.7,270.2 68.3,270.5 68.9,270.8 69.5,270.0 70.1,269.2 70.7,268.3 71.3,267.4 71.9,270.1 72.5,273.1 73.1,276.2 73.7,279.2 74.3,278.0 74.9,276.0 75.5,274.1 76.1,272.3 76.7,271.7 77.3,271.1 77.9,271.2 78.5,271.4 79.1,272.6 79.7,273.4 80.3,274.0 80.9,274.6 81.5,272.7 82.1,271.1 82.7,269.5 83.3,267.6 83.9,267.3 84.5,266.9 85.1,266.7 85.7,266.7 86.3,266.7 86.9,266.8 87.5,266.7 88.1,266.5 88.7,268.2 89.3,269.8 89.9,271.2 90.5,272.8 91.1,272.7 91.7,272.8 92.3,272.9 92.9,272.8 93.5,273.3 94.1,273.8 94.7,274.4 95.3,275.3 95.9,276.8 96.5,278.4 97.1,280.3 97.7,282.3 98.3,275.9 98.9,268.8 99.5,261.1 100.1,253.1 100.7,255.0 101.3,257.4 101.9,260.1 102.5,262.8 103.1,265.0 103.7,266.7 104.3,268.3 104.9,270.1 105.5,265.5 106.1,260.9 106.7,256.3 107.3,251.7 107.9,254.3 108.5,257.0 109.1,259.7 109.7,262.6 110.3,267.9 110.9,273.1 111.5,277.6 112.1,282.3 112.7,283.3 113.3,284.3 113.9,284.7 114.5,284.7 115.1,284.4 115.7,284.4 116.3,284.7 116.9,284.5 117.5,280.8 118.1,277.0 118.7,273.9 119.3,270.8 119.9,270.1 120.5,269.7 121.1,269.3 121.7,269.0 122.3,272.8 122.9,276.7 123.5,280.6 124.1,285.2 124.7,281.6 125.3,277.9 125.9,273.7 126.5,269.3 127.1,271.5 127.7,273.3 128.3,275.0 128.9,276.7 129.5,280.1 130.1,283.5 130.7,286.5 131.3,289.0 131.9,283.4 132.5,278.2 133.1,273.4 133.7,268.7 134.3,268.4 134.9,268.2 135.5,268.0 136.1,267.7 136.7,269.8 137.3,271.8 137.9,273.8 138.5,275.8 139.1,277.8 139.7,280.0 140.3,282.3 140.9,284.6 141.5,284.3 142.1,283.6 142.7,283.0 143.3,282.8 143.9,281.9 144.5,280.9 145.1,279.7 145.7,278.5 146.3,279.4 146.9,280.3 147.5,281.1 148.1,282.0 148.7,275.9 149.3,269.7 149.9,263.2 150.5,256.4 151.1,258.3 151.7,261.0 152.3,263.7 152.9,265.9 153.5,268.5 154.1,271.5 154.7,275.3 155.3,279.1 155.9,276.5 156.5,273.8 157.1,271.0 157.7,268.4 158.3,267.8 158.9,267.2 159.5,266.2 160.1,264.5 160.7,264.5 161.3,264.5 161.9,264.6 162.5,264.8 163.1,265.4 163.7,266.2 164.3,267.3 164.9,268.4 165.5,270.8 166.1,273.0 166.7,275.2 167.3,277.5 167.9,274.6 168.5,271.7 169.1,268.8 169.7,266.4 170.3,270.4 170.9,274.4 171.5,278.3 172.1,282.2 172.7,286.7 173.3,291.2 173.9,295.7 174.5,300.2 175.1,294.8 175.7,289.2 176.3,283.6 176.9,278.0 177.5,282.1 178.1,286.5 178.7,291.1 179.3,295.6 179.9,292.6 180.5,289.4 181.1,286.2 181.7,283.0 182.3,278.5 182.9,274.1 183.5,269.7 184.1,265.5 184.7,268.2 185.3,270.8 185.9,273.4 186.5,275.7 187.1,273.3 187.7,270.9 188.3,268.6 188.9,266.3 189.5,271.4 190.1,276.4 190.7,281.3 191.3,286.2 191.9,280.0 192.5,273.7 193.1,267.5 193.7,261.1 194.3,267.8 194.9,274.5 195.5,281.3 196.1,288.7 196.7,286.3 197.3,284.0 197.9,281.6 198.5,279.2 199.1,271.4 199.7,263.8 200.3,255.8 200.9,247.4 201.5,255.2 202.1,264.2 202.7,273.2 203.3,282.0 203.9,284.1 204.5,286.3 205.1,288.5 205.7,290.8 206.3,283.8 206.9,276.9 207.5,270.0 208.1,263.1 208.7,267.4 209.3,271.6 209.9,277.4 210.5,283.4 211.1,275.7 211.7,267.7 212.3,259.8 212.9,251.7 213.5,257.9 214.1,264.0 214.6,268.8" fill="none" stroke="#b9d1ec" stroke-width="0.5" stroke-opacity="0.22" stroke-linejoin="round"/>
<polyline points="32.9,264.8 33.5,267.4 34.1,269.9 34.7,272.5 35.3,275.1 35.9,272.3 36.5,269.4 37.1,266.5 37.7,263.6 38.3,262.8 38.9,262.0 39.5,261.3 40.1,260.6 40.7,264.9 41.3,268.5 41.9,271.9 42.5,275.3 43.1,277.2 43.7,279.0 44.3,280.9 44.9,283.3 45.5,279.5 46.1,275.7 46.7,271.7 47.3,267.7 47.9,268.7 48.5,270.0 49.1,272.5 49.7,275.0 50.3,274.5 50.9,274.0 51.5,273.4 52.1,272.1 52.7,271.0 53.3,270.3 53.9,270.0 54.5,269.6 55.1,271.0 55.7,272.3 56.3,273.6 56.9,274.7 57.5,275.8 58.1,277.0 58.7,278.7 59.3,280.7 59.9,277.4 60.5,274.2 61.1,271.0 61.7,267.3 62.3,269.4 62.9,271.6 63.5,274.1 64.1,276.5 64.7,276.3 65.3,276.2 65.9,276.2 66.5,276.1 67.1,273.4 67.7,270.7 68.3,268.0 68.9,265.4 69.5,269.5 70.1,273.7 70.7,277.8 71.3,281.9 71.9,282.2 72.5,282.7 73.1,283.3 73.7,283.9 74.3,279.9 74.9,275.2 75.5,270.4 76.1,265.8 76.7,269.3 77.3,272.9 77.9,277.2 78.5,281.6 79.1,279.6 79.7,277.2 80.3,274.7 80.9,272.1 81.5,272.0 82.1,272.1 82.7,272.3 83.3,272.2 83.9,274.3 84.5,276.4 85.1,278.5 85.7,281.0 86.3,279.1 86.9,277.2 87.5,275.3 88.1,273.1 88.7,272.9 89.3,272.5 89.9,272.1 90.5,271.7 91.1,273.8 91.7,276.3 92.3,279.1 92.9,281.9 93.5,281.8 94.1,281.8 94.7,281.7 95.3,281.8 95.9,281.4 96.5,281.0 97.1,280.7 97.7,280.3 98.3,274.3 98.9,267.5 99.5,260.2 100.1,252.6 100.7,251.6 101.3,251.0 101.9,250.9 102.5,250.7 103.1,258.9 103.7,266.5 104.3,274.1 104.9,281.8 105.5,275.6 106.1,269.3 106.7,263.1 107.3,256.8 107.9,260.2 108.5,263.7 109.1,267.1 109.7,270.8 110.3,267.7 110.9,264.6 111.5,260.9 112.1,257.2 112.7,260.7 113.3,264.1 113.9,266.9 114.5,269.3 115.1,265.7 115.7,262.5 116.3,259.6 116.9,256.2 117.5,264.3 118.1,272.4 118.7,281.1 119.3,289.9 119.9,281.9 120.5,274.3 121.1,266.8 121.7,259.3 122.3,262.0 122.9,264.7 123.5,267.3 124.1,270.8 124.7,271.3 125.3,271.8 125.9,271.7 126.5,271.5 127.1,275.7 127.7,279.6 128.3,283.3 128.9,287.1 129.5,279.7 130.1,272.3 130.7,264.4 131.3,256.1 131.9,259.7 132.5,263.7 133.1,268.2 133.7,272.7 134.3,272.6 134.9,272.6 135.5,272.6 136.1,272.5 136.7,275.0 137.3,277.5 137.9,279.9 138.5,282.3 139.1,282.3 139.7,282.5 140.3,282.8 140.9,283.1 141.5,280.3 142.1,277.2 142.7,274.1 143.3,271.5 143.9,273.7 144.5,275.7 145.1,277.6 145.7,279.5 146.3,277.4 146.9,275.2 147.5,273.0 148.1,270.9 148.7,273.7 149.3,276.6 149.9,279.0 150.5,281.2 151.1,279.2 151.7,278.0 152.3,276.7 152.9,275.0 153.5,272.8 154.1,271.1 154.7,270.2 155.3,269.3 155.9,271.8 156.5,274.2 157.1,276.7 157.7,279.2 158.3,281.0 158.9,282.8 159.5,284.3 160.1,285.0 160.7,290.3 161.3,295.6 161.9,301.0 162.5,306.5 163.1,298.0 163.7,289.6 164.3,281.6 164.9,273.5 165.5,276.1 166.1,278.5 166.7,280.9 167.3,283.3 167.9,286.4 168.5,289.5 169.1,292.6 169.7,296.2 170.3,285.8 170.9,275.4 171.5,264.9 172.1,254.4 172.7,255.5 173.3,256.6 173.9,257.8 174.5,258.9 175.1,260.7 175.7,262.4 176.3,263.9 176.9,265.5 177.5,268.6 178.1,272.0 178.7,275.4 179.3,278.9 179.9,286.6 180.5,294.0 181.1,301.4 181.7,306.9 182.3,302.4 182.9,296.1 183.5,289.8 184.1,283.7 184.7,286.2 185.3,288.7 185.9,291.1 186.5,293.3 187.1,288.8 187.7,284.2 188.3,279.8 188.9,275.4 189.5,268.6 190.1,261.6 190.7,254.5 191.3,247.4 191.9,247.4 192.5,247.4 193.1,247.3 193.7,247.2 194.3,256.5 194.9,265.7 195.5,275.1 196.1,285.0 196.7,282.4 197.3,279.8 197.9,277.2 198.5,274.5 199.1,270.0 199.7,265.8 200.3,261.1 200.9,256.1 201.5,262.7 202.1,270.5 202.7,278.4 203.3,286.0 203.9,277.9 204.5,269.8 205.1,261.7 205.7,253.7 206.3,261.8 206.9,269.9 207.5,278.0 208.1,286.2 208.7,286.1 209.3,286.0 209.9,287.3 210.5,288.9 211.1,283.0 211.7,276.7 212.3,270.5 212.9,264.1 213.5,263.1 214.1,262.1 214.6,260.9" fill="none" stroke="#b9d1ec" stroke-width="0.5" stroke-opacity="0.22" stroke-linejoin="round"/>
<polyline points="32.9,277.3 33.5,274.8 34.1,272.3 34.7,269.7 35.3,267.2 35.9,269.6 36.5,272.1 37.1,274.6 37.7,277.1 38.3,274.8 38.9,272.4 39.5,270.2 40.1,268.0 40.7,271.0 41.3,273.2 41.9,275.4 42.5,277.5 43.1,275.9 43.7,274.4 44.3,272.9 44.9,271.9 45.5,271.2 46.1,270.4 46.7,269.5 47.3,268.5 47.9,267.1 48.5,265.9 49.1,265.9 49.7,265.9 50.3,267.8 50.9,269.7 51.5,271.7 52.1,272.7 52.7,269.4 53.3,266.5 53.9,263.8 54.5,261.2 55.1,263.5 55.7,265.6 56.3,267.8 56.9,269.8 57.5,269.4 58.1,269.0 58.7,269.2 59.3,269.6 59.9,271.6 60.5,273.8 61.1,276.1 61.7,277.8 62.3,274.9 62.9,271.9 63.5,269.2 64.1,266.4 64.7,270.6 65.3,275.0 65.9,279.4 66.5,283.7 67.1,280.7 67.7,277.7 68.3,274.6 68.9,271.6 69.5,270.3 70.1,269.0 70.7,267.7 71.3,266.3 71.9,269.7 72.5,273.3 73.1,277.0 73.7,280.7 74.3,281.2 74.9,281.0 75.5,280.9 76.1,280.8 76.7,277.8 77.3,274.9 77.9,272.6 78.5,270.4 79.1,269.8 79.7,268.9 80.3,267.7 80.9,266.6 81.5,268.1 82.1,269.9 82.7,271.7 83.3,273.3 83.9,271.8 84.5,270.4 85.1,269.1 85.7,268.0 86.3,268.6 86.9,269.1 87.5,269.6 88.1,269.9 88.7,272.4 89.3,274.6 89.9,276.8 90.5,279.5 91.1,278.1 91.7,276.7 92.3,275.1 92.9,273.2 93.5,272.7 94.1,272.2 94.7,271.7 95.3,271.3 95.9,272.0 96.5,272.7 97.1,273.6 97.7,274.5 98.3,273.5 98.9,272.0 99.5,270.4 100.1,268.7 100.7,270.9 101.3,273.6 101.9,276.6 102.5,279.7 103.1,279.9 103.7,279.5 104.3,279.1 104.9,278.8 105.5,275.0 106.1,271.2 106.7,267.3 107.3,263.5 107.9,265.1 108.5,266.7 109.1,268.4 109.7,270.3 110.3,277.8 110.9,285.3 111.5,292.1 112.1,299.1 112.7,293.9 113.3,288.7 113.9,282.8 114.5,276.5 115.1,274.5 115.7,272.7 116.3,271.3 116.9,269.3 117.5,275.4 118.1,281.5 118.7,288.2 119.3,294.9 119.9,288.8 120.5,283.0 121.1,277.4 121.7,271.6 122.3,268.3 122.9,265.0 123.5,261.7 124.1,259.1 124.7,265.1 125.3,271.1 125.9,276.6 126.5,281.9 127.1,277.2 127.7,272.1 128.3,267.0 128.9,261.8 129.5,263.5 130.1,265.2 130.7,266.4 131.3,267.1 131.9,269.1 132.5,271.4 133.1,274.2 133.7,277.0 134.3,276.1 134.9,275.3 135.5,274.5 136.1,273.5 136.7,271.8 137.3,270.2 137.9,268.5 138.5,266.8 139.1,267.5 139.7,268.6 140.3,269.7 140.9,270.8 141.5,270.7 142.1,270.3 142.7,269.9 143.3,269.9 143.9,275.3 144.5,280.5 145.1,285.6 145.7,290.6 146.3,284.7 146.9,278.7 147.5,272.6 148.1,266.7 148.7,267.5 149.3,268.2 149.9,268.6 150.5,268.7 151.1,276.3 151.7,284.6 152.3,292.9 152.9,300.7 153.5,292.4 154.1,284.6 154.7,277.5 155.3,270.5 155.9,277.3 156.5,284.0 157.1,290.7 157.7,297.4 158.3,297.5 158.9,297.6 159.5,297.4 160.1,296.4 160.7,291.6 161.3,286.8 161.9,282.1 162.5,277.4 163.1,273.4 163.7,269.5 164.3,266.0 164.9,262.4 165.5,268.2 166.1,273.8 166.7,279.4 167.3,285.0 167.9,285.3 168.5,285.7 169.1,286.0 169.7,286.7 170.3,287.8 170.9,288.9 171.5,290.0 172.1,291.0 172.7,288.4 173.3,285.8 173.9,283.2 174.5,280.7 175.1,284.2 175.7,287.6 176.3,290.9 176.9,294.2 177.5,294.6 178.1,295.3 178.7,296.1 179.3,297.0 179.9,289.6 180.5,282.0 181.1,274.5 181.7,266.9 182.3,274.1 182.9,281.3 183.5,288.6 184.1,296.1 184.7,292.4 185.3,288.7 185.9,284.9 186.5,280.9 187.1,278.4 187.7,276.0 188.3,273.6 188.9,271.3 189.5,271.9 190.1,272.4 190.7,272.8 191.3,273.2 191.9,279.3 192.5,285.4 193.1,291.5 193.7,297.5 194.3,294.1 194.9,290.7 195.5,287.4 196.1,284.6 196.7,276.2 197.3,267.8 197.9,259.3 198.5,250.8 199.1,256.4 199.7,262.3 200.3,267.7 200.9,272.6 201.5,271.3 202.1,271.3 202.7,271.2 203.3,270.9 203.9,270.6 204.5,270.4 205.1,270.2 205.7,270.1 206.3,269.1 206.9,268.2 207.5,267.3 208.1,266.4 208.7,262.6 209.3,258.7 209.9,256.2 210.5,254.1 211.1,261.7 211.7,269.0 212.3,276.4 212.9,283.6 213.5,278.2 214.1,272.8 214.6,268.0" fill="none" stroke="#b9d1ec" stroke-width="0.5" stroke-opacity="0.22" stroke-linejoin="round"/>
<polyline points="32.9,271.2 33.5,270.9 34.1,270.5 34.7,270.0 35.3,269.7 35.9,269.5 36.5,269.3 37.1,269.2 37.7,269.0 38.3,271.2 38.9,273.3 39.5,275.6 40.1,277.9 40.7,277.9 41.3,277.1 41.9,276.2 42.5,275.3 43.1,273.3 43.7,271.3 44.3,269.4 44.9,267.9 45.5,267.5 46.1,267.1 46.7,266.5 47.3,265.8 47.9,265.6 48.5,265.7 49.1,266.9 49.7,268.1 50.3,270.5 50.9,272.8 51.5,275.1 52.1,276.6 52.7,275.1 53.3,273.8 53.9,272.9 54.5,272.0 55.1,272.3 55.7,272.5 56.3,272.6 56.9,272.6 57.5,271.6 58.1,270.6 58.7,270.2 59.3,269.9 59.9,270.6 60.5,271.5 61.1,272.3 61.7,272.6 62.3,273.0 62.9,273.4 63.5,274.0 64.1,274.5 64.7,271.8 65.3,269.2 65.9,266.6 66.5,263.9 67.1,268.5 67.7,273.1 68.3,277.7 68.9,282.4 69.5,279.0 70.1,275.5 70.7,271.9 71.3,268.3 71.9,268.4 72.5,268.7 73.1,269.1 73.7,269.5 74.3,272.4 74.9,274.5 75.5,276.7 76.1,278.9 76.7,277.0 77.3,275.1 77.9,274.0 78.5,272.8 79.1,273.0 79.7,272.8 80.3,272.4 80.9,272.0 81.5,271.3 82.1,270.9 82.7,270.5 83.3,269.7 83.9,267.9 84.5,266.1 85.1,264.3 85.7,262.9 86.3,265.4 86.9,268.0 87.5,270.5 88.1,272.8 88.7,274.1 89.3,275.0 89.9,276.0 90.5,277.2 91.1,274.1 91.7,270.9 92.3,267.3 92.9,263.2 93.5,267.3 94.1,271.8 94.7,276.9 95.3,282.5 95.9,277.2 96.5,271.4 97.1,265.4 97.7,258.9 98.3,259.5 98.9,259.8 99.5,260.1 100.1,260.6 100.7,263.8 101.3,267.5 101.9,271.6 102.5,275.6 103.1,274.2 103.7,272.2 104.3,270.2 104.9,268.3 105.5,270.3 106.1,272.3 106.7,274.2 107.3,276.2 107.9,272.1 108.5,268.0 109.1,264.0 109.7,260.1 110.3,259.8 110.9,259.6 111.5,258.6 112.1,257.7 112.7,256.0 113.3,254.3 113.9,251.8 114.5,249.1 115.1,250.8 115.7,252.9 116.3,255.3 116.9,257.1 117.5,256.9 118.1,256.6 118.7,257.0 119.3,257.4 119.9,256.3 120.5,255.7 121.1,255.1 121.7,254.4 122.3,259.6 122.9,264.8 123.5,270.0 124.1,275.9 124.7,273.7 125.3,271.5 125.9,268.8 126.5,265.8 127.1,261.9 127.7,257.6 128.3,253.2 128.9,248.7 129.5,262.6 130.1,276.5 130.7,289.9 131.3,302.9 131.9,292.5 132.5,282.3 133.1,272.7 133.7,263.1 134.3,262.2 134.9,261.5 135.5,260.8 136.1,260.0 136.7,267.7 137.3,275.4 137.9,283.1 138.5,290.8 139.1,290.7 139.7,290.9 140.3,291.2 140.9,291.4 141.5,284.5 142.1,277.2 142.7,270.0 143.3,263.2 143.9,262.4 144.5,261.3 145.1,260.1 145.7,259.0 146.3,260.1 146.9,261.2 147.5,262.2 148.1,263.4 148.7,270.1 149.3,276.8 149.9,283.1 150.5,289.2 151.1,284.5 151.7,280.7 152.3,276.8 152.9,272.5 153.5,270.5 154.1,268.9 154.7,268.2 155.3,267.5 155.9,270.4 156.5,273.3 157.1,276.2 157.7,279.2 158.3,283.5 158.9,287.8 159.5,291.8 160.1,295.1 160.7,286.9 161.3,278.7 161.9,270.6 162.5,262.6 163.1,265.4 163.7,268.3 164.3,271.6 164.9,274.8 165.5,272.0 166.1,269.0 166.7,266.0 167.3,263.0 167.9,273.3 168.5,283.6 169.1,294.0 169.7,304.7 170.3,303.9 170.9,303.0 171.5,302.1 172.1,301.2 172.7,298.7 173.3,296.2 173.9,293.7 174.5,291.2 175.1,288.1 175.7,284.9 176.3,281.5 176.9,278.1 177.5,280.4 178.1,282.9 178.7,285.6 179.3,288.2 179.9,279.9 180.5,271.4 181.1,262.8 181.7,254.3 182.3,261.2 182.9,268.1 183.5,275.1 184.1,282.3 184.7,277.5 185.3,272.7 185.9,267.9 186.5,262.8 187.1,262.6 187.7,262.3 188.3,262.2 188.9,262.2 189.5,263.9 190.1,265.5 190.7,267.0 191.3,268.5 191.9,269.2 192.5,269.7 193.1,270.3 193.7,270.8 194.3,272.8 194.9,274.8 195.5,277.0 196.1,279.7 196.7,280.0 197.3,280.2 197.9,280.5 198.5,280.7 199.1,279.4 199.7,278.3 200.3,276.7 200.9,274.8 201.5,270.5 202.1,267.5 202.7,264.5 203.3,261.2 203.9,266.0 204.5,270.7 205.1,275.5 205.7,280.3 206.3,277.9 206.9,275.6 207.5,273.4 208.1,271.1 208.7,274.0 209.3,276.8 209.9,281.1 210.5,285.7 211.1,280.1 211.7,274.2 212.3,268.3 212.9,262.3 213.5,256.8 214.1,251.2 214.6,246.3" fill="none" stroke="#b9d1ec" stroke-width="0.5" stroke-opacity="0.22" stroke-linejoin="round"/>
<polyline points="32.9,270.7 33.5,273.9 34.1,277.1 34.7,280.3 35.3,283.5 35.9,281.4 36.5,279.3 37.1,277.2 37.7,275.1 38.3,274.5 38.9,274.0 39.5,273.5 40.1,273.1 40.7,274.9 41.3,276.0 41.9,277.0 42.5,277.9 43.1,276.7 43.7,275.6 44.3,274.6 44.9,274.0 45.5,273.9 46.1,273.8 46.7,273.5 47.3,273.2 47.9,271.1 48.5,269.3 49.1,268.6 49.7,267.9 50.3,269.1 50.9,270.3 51.5,271.5 52.1,271.9 52.7,271.6 53.3,271.7 53.9,272.0 54.5,272.4 55.1,271.4 55.7,270.3 56.3,269.2 56.9,267.8 57.5,267.0 58.1,266.1 58.7,265.7 59.3,265.6 59.9,267.9 60.5,270.4 61.1,272.9 61.7,274.8 62.3,275.7 62.9,276.6 63.5,277.6 64.1,278.7 64.7,278.4 65.3,278.2 65.9,278.0 66.5,277.8 67.1,277.4 67.7,276.9 68.3,276.5 68.9,276.2 69.5,276.0 70.1,275.9 70.7,275.8 71.3,275.6 71.9,278.4 72.5,281.4 73.1,284.5 73.7,287.6 74.3,284.4 74.9,280.5 75.5,276.5 76.1,272.7 76.7,273.5 77.3,274.4 77.9,275.9 78.5,277.5 79.1,279.3 79.7,280.7 80.3,282.0 80.9,283.2 81.5,280.6 82.1,278.3 82.7,276.1 83.3,273.5 83.9,273.4 84.5,273.4 85.1,273.4 85.7,273.7 86.3,274.8 86.9,276.0 87.5,277.1 88.1,278.0 88.7,278.6 89.3,279.1 89.9,279.5 90.5,280.3 91.1,278.6 91.7,276.9 92.3,274.9 92.9,272.6 93.5,272.6 94.1,272.7 94.7,272.9 95.3,273.3 95.9,272.9 96.5,272.5 97.1,272.2 97.7,271.8 98.3,268.2 98.9,264.0 99.5,259.6 100.1,254.9 100.7,261.4 101.3,268.3 101.9,275.7 102.5,283.0 103.1,278.9 103.7,274.4 104.3,269.8 104.9,265.3 105.5,260.8 106.1,256.3 106.7,251.8 107.3,247.3 107.9,252.2 108.5,257.1 109.1,262.1 109.7,267.3 110.3,263.1 110.9,259.0 111.5,254.1 112.1,249.4 112.7,252.3 113.3,255.3 113.9,257.5 114.5,259.4 115.1,262.2 115.7,265.4 116.3,268.9 116.9,271.8 117.5,268.4 118.1,264.9 118.7,262.1 119.3,259.3 119.9,265.3 120.5,271.6 121.1,278.1 121.7,284.4 122.3,276.8 122.9,269.2 123.5,261.5 124.1,254.7 124.7,260.6 125.3,266.5 125.9,271.8 126.5,277.0 127.1,277.9 127.7,278.5 128.3,278.9 128.9,279.4 129.5,282.6 130.1,285.8 130.7,288.5 131.3,290.7 131.9,288.6 132.5,286.8 133.1,285.5 133.7,284.3 134.3,282.6 134.9,281.1 135.5,279.6 136.1,277.9 136.7,277.7 137.3,277.5 137.9,277.3 138.5,277.0 139.1,276.7 139.7,276.7 140.3,276.8 140.9,276.8 141.5,280.4 142.1,283.7 142.7,287.1 143.3,290.8 143.9,285.5 144.5,280.1 145.1,274.5 145.7,268.9 146.3,272.1 146.9,275.3 147.5,278.4 148.1,281.7 148.7,280.2 149.3,278.7 149.9,276.7 150.5,274.6 151.1,275.3 151.7,276.8 152.3,278.3 152.9,279.3 153.5,277.2 154.1,275.6 154.7,274.9 155.3,274.1 155.9,281.9 156.5,289.7 157.1,297.5 157.7,305.3 158.3,297.5 158.9,289.8 159.5,281.7 160.1,272.9 160.7,275.2 161.3,277.5 161.9,279.9 162.5,282.4 163.1,282.3 163.7,282.3 164.3,282.6 164.9,282.9 165.5,284.0 166.1,285.0 166.7,286.0 167.3,287.0 167.9,286.2 168.5,285.4 169.1,284.6 169.7,284.2 170.3,284.3 170.9,284.5 171.5,284.6 172.1,284.6 172.7,286.4 173.3,288.1 173.9,289.9 174.5,291.7 175.1,284.4 175.7,276.9 176.3,269.4 176.9,261.8 177.5,266.3 178.1,270.9 178.7,275.7 179.3,280.5 179.9,276.8 180.5,272.8 181.1,268.8 181.7,264.9 182.3,269.0 182.9,273.2 183.5,277.4 184.1,281.9 184.7,277.7 185.3,273.5 185.9,269.3 186.5,264.8 187.1,265.2 187.7,265.6 188.3,266.1 188.9,266.7 189.5,269.3 190.1,271.7 190.7,274.0 191.3,276.4 191.9,280.3 192.5,284.2 193.1,288.1 193.7,291.9 194.3,288.7 194.9,285.5 195.5,282.4 196.1,279.9 196.7,278.9 197.3,278.0 197.9,277.0 198.5,276.0 199.1,279.3 199.7,282.8 200.3,286.0 200.9,288.6 201.5,280.9 202.1,274.5 202.7,268.1 203.3,261.4 203.9,257.8 204.5,254.2 205.1,250.7 205.7,247.3 206.3,252.3 206.9,257.4 207.5,262.5 208.1,267.7 208.7,267.0 209.3,266.4 209.9,267.2 210.5,268.3 211.1,273.6 211.7,278.5 212.3,283.5 212.9,288.3 213.5,291.0 214.1,293.7 214.6,295.6" fill="none" stroke="#b9d1ec" stroke-width="0.5" stroke-opacity="0.22" stroke-linejoin="round"/>
<polyline points="32.9,266.5 33.5,271.2 34.1,275.8 34.7,280.5 35.3,285.3 35.9,284.1 36.5,283.0 37.1,281.9 37.7,280.7 38.3,280.1 38.9,279.5 39.5,278.9 40.1,278.5 40.7,278.3 41.3,277.4 41.9,276.4 42.5,275.3 43.1,277.3 43.7,279.3 44.3,281.5 44.9,284.1 45.5,281.0 46.1,277.9 46.7,274.6 47.3,271.3 47.9,269.7 48.5,268.4 49.1,268.3 49.7,268.2 50.3,269.4 50.9,270.7 51.5,271.9 52.1,272.3 52.7,269.8 53.3,267.7 53.9,265.9 54.5,264.1 55.1,266.7 55.7,269.2 56.3,271.6 56.9,273.9 57.5,272.9 58.1,271.9 58.7,271.4 59.3,271.2 59.9,272.4 60.5,273.7 61.1,275.1 61.7,276.0 62.3,275.7 62.9,275.5 63.5,275.5 64.1,275.4 64.7,273.5 65.3,271.8 65.9,270.1 66.5,268.3 67.1,271.4 67.7,274.5 68.3,277.6 68.9,280.9 69.5,277.5 70.1,274.1 70.7,270.6 71.3,267.1 71.9,269.6 72.5,272.3 73.1,275.1 73.7,278.0 74.3,274.5 74.9,270.4 75.5,266.2 76.1,262.2 76.7,264.6 77.3,267.2 77.9,270.4 78.5,273.7 79.1,272.5 79.7,270.8 80.3,268.9 80.9,267.1 81.5,268.5 82.1,270.3 82.7,272.0 83.3,273.5 83.9,272.1 84.5,270.7 85.1,269.4 85.7,268.3 86.3,266.0 86.9,263.8 87.5,261.4 88.1,258.8 88.7,260.1 89.3,261.1 89.9,262.1 90.5,262.8 91.1,264.3 91.7,266.3 92.3,268.5 92.9,270.8 93.5,271.8 94.1,272.9 94.7,274.3 95.3,275.8 95.9,271.2 96.5,266.2 97.1,261.0 97.7,255.4 98.3,253.0 98.9,250.1 99.5,247.1 100.1,244.1 100.7,247.4 101.3,251.1 101.9,255.2 102.5,259.3 103.1,261.3 103.7,262.9 104.3,264.4 104.9,265.9 105.5,264.6 106.1,263.2 106.7,261.9 107.3,260.5 107.9,260.1 108.5,259.8 109.1,259.6 109.7,259.5 110.3,265.0 110.9,270.6 111.5,275.5 112.1,280.5 112.7,281.6 113.3,282.7 113.9,283.2 114.5,283.3 115.1,282.3 115.7,281.7 116.3,281.5 116.9,280.7 117.5,275.0 118.1,269.3 118.7,264.3 119.3,259.2 119.9,262.3 120.5,265.7 121.1,269.2 121.7,272.6 122.3,271.8 122.9,271.0 123.5,270.2 124.1,270.1 124.7,267.1 125.3,264.1 125.9,260.6 126.5,256.9 127.1,263.8 127.7,270.4 128.3,276.9 128.9,283.4 129.5,281.5 130.1,279.6 130.7,277.2 131.3,274.3 131.9,272.1 132.5,270.2 133.1,268.8 133.7,267.5 134.3,273.6 134.9,279.8 135.5,286.1 136.1,292.2 136.7,290.5 137.3,288.8 137.9,287.1 138.5,285.3 139.1,285.7 139.7,286.4 140.3,287.1 140.9,287.9 141.5,288.9 142.1,289.7 142.7,290.5 143.3,291.6 143.9,290.3 144.5,288.8 145.1,287.1 145.7,285.4 146.3,279.2 146.9,272.9 147.5,266.6 148.1,260.4 148.7,263.3 149.3,266.3 149.9,268.8 150.5,271.1 151.1,275.0 151.7,279.6 152.3,284.3 152.9,288.5 153.5,282.6 154.1,277.2 154.7,272.7 155.3,268.1 155.9,271.1 156.5,274.1 157.1,277.1 157.7,280.1 158.3,281.9 158.9,283.6 159.5,284.9 160.1,285.6 160.7,288.3 161.3,291.0 161.9,293.8 162.5,296.7 163.1,296.1 163.7,295.6 164.3,295.4 164.9,295.2 165.5,294.2 166.1,293.0 166.7,291.8 167.3,290.6 167.9,287.0 168.5,283.3 169.1,279.7 169.7,276.6 170.3,280.1 170.9,283.6 171.5,287.1 172.1,290.5 172.7,289.4 173.3,288.4 173.9,287.3 174.5,286.3 175.1,284.4 175.7,282.3 176.3,280.1 176.9,278.0 177.5,282.4 178.1,287.1 178.7,291.9 179.3,296.7 179.9,294.1 180.5,291.3 181.1,288.5 181.7,285.6 182.3,281.7 182.9,277.7 183.5,273.7 184.1,270.0 184.7,276.2 185.3,282.3 185.9,288.3 186.5,294.2 187.1,289.3 187.7,284.5 188.3,279.8 188.9,275.2 189.5,277.6 190.1,279.9 190.7,282.1 191.3,284.3 191.9,277.5 192.5,270.6 193.1,263.7 193.7,256.8 194.3,260.6 194.9,264.4 195.5,268.3 196.1,272.7 196.7,269.8 197.3,267.0 197.9,264.0 198.5,261.1 199.1,261.0 199.7,261.1 200.3,260.8 200.9,260.1 201.5,256.7 202.1,254.4 202.7,252.2 203.3,249.8 203.9,261.8 204.5,273.8 205.1,285.9 205.7,298.1 206.3,291.2 206.9,284.4 207.5,277.7 208.1,270.9 208.7,271.0 209.3,271.1 209.9,272.7 210.5,274.5 211.1,277.8 211.7,280.8 212.3,283.8 212.9,286.7 213.5,283.0 214.1,279.3 214.6,275.9" fill="none" stroke="#b9d1ec" stroke-width="0.5" stroke-opacity="0.22" stroke-linejoin="round"/>
<polyline points="32.9,275.7 33.5,273.3 34.1,270.8 34.7,268.3 35.3,265.9 35.9,267.8 36.5,269.8 37.1,271.8 37.7,273.7 38.3,273.3 38.9,272.8 39.5,272.4 40.1,272.0 40.7,273.6 41.3,274.5 41.9,275.2 42.5,275.9 43.1,274.9 43.7,273.8 44.3,272.9 44.9,272.4 45.5,270.3 46.1,268.2 46.7,265.9 47.3,263.6 47.9,262.1 48.5,260.9 49.1,260.9 49.7,260.8 50.3,262.4 50.9,263.9 51.5,265.4 52.1,266.1 52.7,268.0 53.3,270.2 53.9,272.8 54.5,275.4 55.1,275.1 55.7,274.7 56.3,274.3 56.9,273.7 57.5,273.4 58.1,273.2 58.7,273.4 59.3,274.0 59.9,271.2 60.5,268.7 61.1,266.1 61.7,263.0 62.3,261.8 62.9,260.5 63.5,259.5 64.1,258.5 64.7,261.4 65.3,264.5 65.9,267.7 66.5,270.7 67.1,270.9 67.7,271.1 68.3,271.3 68.9,271.5 69.5,271.0 70.1,270.5 70.7,269.9 71.3,269.3 71.9,270.5 72.5,271.9 73.1,273.4 73.7,274.9 74.3,274.2 74.9,272.9 75.5,271.5 76.1,270.3 76.7,268.5 77.3,266.7 77.9,265.7 78.5,264.7 79.1,265.5 79.7,266.0 80.3,266.3 80.9,266.7 81.5,268.3 82.1,270.3 82.7,272.3 83.3,274.0 83.9,273.6 84.5,273.1 85.1,272.7 85.7,272.6 86.3,272.3 86.9,272.1 87.5,271.8 88.1,271.3 88.7,274.5 89.3,277.5 89.9,280.4 90.5,284.0 91.1,280.6 91.7,276.9 92.3,272.8 92.9,268.1 93.5,268.7 94.1,269.3 94.7,270.1 95.3,271.1 95.9,268.6 96.5,265.9 97.1,263.2 97.7,260.3 98.3,261.6 98.9,262.7 99.5,263.9 100.1,265.1 100.7,267.3 101.3,269.9 101.9,272.9 102.5,275.9 103.1,276.1 103.7,275.7 104.3,275.4 104.9,275.1 105.5,272.9 106.1,270.6 106.7,268.3 107.3,266.1 107.9,267.9 108.5,269.8 109.1,271.7 109.7,273.8 110.3,273.3 110.9,272.9 111.5,271.8 112.1,270.8 112.7,265.8 113.3,260.7 113.9,255.0 114.5,248.9 115.1,244.5 115.7,240.4 116.3,239.4 116.9,239.4 117.5,248.4 118.1,264.5 118.7,281.3 119.3,298.0 119.9,293.6 120.5,289.5 121.1,285.5 121.7,281.5 122.3,278.8 122.9,276.1 123.5,273.5 124.1,271.5 124.7,267.2 125.3,262.9 125.9,258.0 126.5,252.9 127.1,254.3 127.7,255.4 128.3,256.4 128.9,257.3 129.5,265.7 130.1,274.0 130.7,281.9 131.3,289.4 131.9,276.5 132.5,263.8 133.1,251.7 133.7,239.7 134.3,247.4 134.9,255.4 135.5,263.3 136.1,271.1 136.7,275.0 137.3,278.8 137.9,282.6 138.5,286.3 139.1,284.3 139.7,282.6 140.3,280.9 140.9,279.2 141.5,281.0 142.1,282.6 142.7,284.1 143.3,286.1 143.9,283.5 144.5,280.8 145.1,278.0 145.7,275.1 146.3,282.4 146.9,289.6 147.5,296.8 148.1,304.1 148.7,294.1 149.3,284.2 149.9,273.8 150.5,263.3 151.1,262.0 151.7,261.4 152.3,260.9 152.9,259.9 153.5,264.3 154.1,269.1 154.7,274.8 155.3,280.5 155.9,284.5 156.5,288.6 157.1,292.6 157.7,296.7 158.3,292.8 158.9,289.0 159.5,284.8 160.1,280.0 160.7,282.9 161.3,285.8 161.9,288.8 162.5,291.9 163.1,286.9 163.7,282.1 164.3,277.6 164.9,273.0 165.5,271.3 166.1,269.3 166.7,267.3 167.3,265.4 167.9,272.8 168.5,280.2 169.1,287.6 169.7,295.5 170.3,296.2 170.9,296.9 171.5,297.6 172.1,298.2 172.7,298.2 173.3,298.2 173.9,298.2 174.5,298.2 175.1,292.4 175.7,286.5 176.3,280.5 176.9,274.5 177.5,272.2 178.1,270.2 178.7,268.3 179.3,266.4 179.9,266.4 180.5,266.1 181.1,265.8 181.7,265.5 182.3,268.1 182.9,270.7 183.5,273.4 184.1,276.3 184.7,278.7 185.3,281.2 185.9,283.6 186.5,285.8 187.1,285.3 187.7,284.8 188.3,284.5 188.9,284.2 189.5,278.2 190.1,272.1 190.7,265.9 191.3,259.8 191.9,264.2 192.5,268.6 193.1,273.0 193.7,277.3 194.3,276.0 194.9,274.8 195.5,273.6 196.1,273.0 196.7,273.1 197.3,273.2 197.9,273.3 198.5,273.4 199.1,273.0 199.7,272.9 200.3,272.3 200.9,271.4 201.5,270.2 202.1,270.2 202.7,270.3 203.3,270.1 203.9,272.4 204.5,274.7 205.1,276.9 205.7,279.3 206.3,277.9 206.9,276.6 207.5,275.4 208.1,274.1 208.7,273.4 209.3,272.6 209.9,273.3 210.5,274.2 211.1,272.2 211.7,269.8 212.3,267.5 212.9,265.0 213.5,268.3 214.1,271.5 214.6,273.9" fill="none" stroke="#b9d1ec" stroke-width="0.5" stroke-opacity="0.22" stroke-linejoin="round"/>
<polyline points="32.9,272.5 33.5,269.9 34.1,267.3 34.7,264.6 35.3,262.0 35.9,265.3 36.5,268.6 37.1,271.9 37.7,275.2 38.3,274.5 38.9,273.9 39.5,273.3 40.1,272.7 40.7,274.7 41.3,275.9 41.9,277.0 42.5,278.1 43.1,276.0 43.7,274.0 44.3,272.1 44.9,270.6 45.5,270.6 46.1,270.6 46.7,270.5 47.3,270.3 47.9,269.9 48.5,269.7 49.1,270.7 49.7,271.7 50.3,271.9 50.9,272.0 51.5,272.1 52.1,271.4 52.7,270.4 53.3,269.7 53.9,269.3 54.5,268.9 55.1,267.3 55.7,265.5 56.3,263.6 56.9,261.6 57.5,266.3 58.1,271.0 58.7,276.3 59.3,281.8 59.9,277.7 60.5,273.8 61.1,269.8 61.7,265.4 62.3,266.8 62.9,268.2 63.5,269.8 64.1,271.4 64.7,272.9 65.3,274.6 65.9,276.2 66.5,277.8 67.1,277.2 67.7,276.6 68.3,276.0 68.9,275.5 69.5,275.7 70.1,275.8 70.7,275.9 71.3,276.0 71.9,276.0 72.5,276.4 73.1,276.8 73.7,277.2 74.3,278.0 74.9,278.1 75.5,278.2 76.1,278.5 76.7,276.8 77.3,275.1 77.9,274.2 78.5,273.2 79.1,277.5 79.7,281.3 80.3,285.0 80.9,288.7 81.5,283.2 82.1,278.0 82.7,272.8 83.3,267.2 83.9,268.7 84.5,270.1 85.1,271.6 85.7,273.4 86.3,272.6 86.9,271.7 87.5,270.7 88.1,269.6 88.7,269.0 89.3,268.2 89.9,267.3 90.5,266.3 91.1,267.4 91.7,269.0 92.3,270.7 92.9,272.4 93.5,274.7 94.1,277.3 94.7,280.1 95.3,283.4 95.9,278.8 96.5,274.0 97.1,268.8 97.7,263.3 98.3,263.0 98.9,262.3 99.5,261.6 100.1,260.9 100.7,264.7 101.3,269.0 101.9,273.6 102.5,278.3 103.1,277.8 103.7,276.8 104.3,275.8 104.9,274.8 105.5,279.0 106.1,283.1 106.7,287.3 107.3,291.4 107.9,288.8 108.5,286.2 109.1,283.7 109.7,281.3 110.3,279.5 110.9,277.7 111.5,275.2 112.1,272.9 112.7,272.0 113.3,271.0 113.9,269.5 114.5,267.5 115.1,268.9 115.7,270.6 116.3,272.6 116.9,274.2 117.5,272.4 118.1,270.5 118.7,269.4 119.3,268.2 119.9,264.6 120.5,261.4 121.1,258.3 121.7,255.1 122.3,259.2 122.9,263.4 123.5,267.5 124.1,272.3 124.7,272.5 125.3,272.7 125.9,272.2 126.5,271.7 127.1,271.5 127.7,271.1 128.3,270.4 128.9,269.8 129.5,269.7 130.1,269.6 130.7,269.0 131.3,267.9 131.9,273.8 132.5,280.0 133.1,286.7 133.7,293.4 134.3,290.8 134.9,288.4 135.5,286.0 136.1,283.4 136.7,284.4 137.3,285.3 137.9,286.3 138.5,287.2 139.1,282.7 139.7,278.5 140.3,274.3 140.9,270.2 141.5,268.9 142.1,267.4 142.7,265.9 143.3,264.7 143.9,267.1 144.5,269.3 145.1,271.3 145.7,273.3 146.3,274.6 146.9,275.8 147.5,277.0 148.1,278.3 148.7,276.8 149.3,275.4 149.9,273.5 150.5,271.5 151.1,271.6 151.7,272.6 152.3,273.5 152.9,274.0 153.5,276.9 154.1,280.3 154.7,284.5 155.3,288.7 155.9,287.3 156.5,285.9 157.1,284.5 157.7,283.1 158.3,279.9 158.9,276.7 159.5,273.1 160.1,268.8 160.7,270.1 161.3,271.3 161.9,272.7 162.5,274.1 163.1,273.2 163.7,272.5 164.3,272.0 164.9,271.5 165.5,274.2 166.1,276.7 166.7,279.3 167.3,281.8 167.9,277.4 168.5,273.0 169.1,268.6 169.7,264.7 170.3,267.8 170.9,271.0 171.5,274.1 172.1,277.2 172.7,279.9 173.3,282.6 173.9,285.4 174.5,288.1 175.1,286.3 175.7,284.3 176.3,282.2 176.9,280.1 177.5,277.2 178.1,274.5 178.7,271.9 179.3,269.3 179.9,270.2 180.5,270.8 181.1,271.5 181.7,272.1 182.3,274.1 182.9,276.1 183.5,278.2 184.1,280.5 184.7,281.6 185.3,282.7 185.9,283.8 186.5,284.6 187.1,285.4 187.7,286.2 188.3,287.2 188.9,288.1 189.5,285.0 190.1,281.8 190.7,278.5 191.3,275.2 191.9,271.3 192.5,267.3 193.1,263.2 193.7,259.2 194.3,266.7 194.9,274.2 195.5,281.8 196.1,289.9 196.7,286.4 197.3,282.9 197.9,279.4 198.5,275.9 199.1,276.2 199.7,276.7 200.3,276.8 200.9,276.5 201.5,275.6 202.1,275.9 202.7,276.2 203.3,276.2 203.9,272.1 204.5,267.9 205.1,263.8 205.7,259.8 206.3,261.9 206.9,264.2 207.5,266.5 208.1,268.8 208.7,269.4 209.3,270.1 209.9,272.2 210.5,274.6 211.1,277.6 211.7,280.4 212.3,283.1 212.9,285.7 213.5,282.8 214.1,279.9 214.6,277.1" fill="none" stroke="#b9d1ec" stroke-width="0.5" stroke-opacity="0.22" stroke-linejoin="round"/>
<polyline points="32.9,257.5 33.5,261.0 34.1,264.5 34.7,267.9 35.3,271.5 35.9,272.2 36.5,273.0 37.1,273.7 37.7,274.5 38.3,276.0 38.9,277.5 39.5,279.1 40.1,280.7 40.7,280.4 41.3,279.4 41.9,278.2 42.5,277.0 43.1,278.6 43.7,280.3 44.3,282.1 44.9,284.4 45.5,283.0 46.1,281.5 46.7,279.9 47.3,278.3 47.9,277.4 48.5,276.7 49.1,277.2 49.7,277.7 50.3,277.7 50.9,277.6 51.5,277.5 52.1,276.5 52.7,273.0 53.3,269.7 53.9,266.8 54.5,263.9 55.1,267.1 55.7,270.1 56.3,273.1 56.9,275.9 57.5,275.4 58.1,274.8 58.7,274.8 59.3,275.0 59.9,274.0 60.5,273.3 61.1,272.5 61.7,271.2 62.3,272.4 62.9,273.7 63.5,275.1 64.1,276.6 64.7,276.5 65.3,276.5 65.9,276.5 66.5,276.5 67.1,275.0 67.7,273.6 68.3,272.1 68.9,270.8 69.5,271.1 70.1,271.5 70.7,271.8 71.3,272.0 71.9,271.6 72.5,271.5 73.1,271.4 73.7,271.3 74.3,272.1 74.9,272.2 75.5,272.3 76.1,272.6 76.7,271.3 77.3,270.0 77.9,269.5 78.5,269.0 79.1,270.9 79.7,272.4 80.3,273.7 80.9,274.9 81.5,271.5 82.1,268.4 82.7,265.3 83.3,261.9 83.9,263.9 84.5,265.9 85.1,268.0 85.7,270.4 86.3,268.3 86.9,266.3 87.5,264.1 88.1,261.7 88.7,263.2 89.3,264.4 89.9,265.6 90.5,266.7 91.1,268.1 91.7,270.0 92.3,272.1 92.9,274.1 93.5,273.2 94.1,272.2 94.7,271.1 95.3,270.2 95.9,270.0 96.5,269.8 97.1,269.8 97.7,269.7 98.3,270.1 98.9,270.1 99.5,270.2 100.1,270.2 100.7,274.3 101.3,278.7 101.9,283.6 102.5,288.4 103.1,280.4 103.7,271.9 104.3,263.4 104.9,255.0 105.5,260.9 106.1,266.8 106.7,272.7 107.3,278.6 107.9,271.5 108.5,264.6 109.1,257.6 109.7,250.8 110.3,254.6 110.9,258.3 111.5,261.3 112.1,264.5 112.7,267.2 113.3,269.8 113.9,271.8 114.5,273.4 115.1,270.1 115.7,267.2 116.3,264.5 116.9,261.4 117.5,263.9 118.1,266.4 118.7,269.6 119.3,272.8 119.9,274.3 120.5,276.3 121.1,278.3 121.7,280.2 122.3,274.5 122.9,268.7 123.5,262.9 124.1,257.9 124.7,262.0 125.3,266.1 125.9,269.5 126.5,272.9 127.1,272.0 127.7,270.8 128.3,269.4 128.9,268.1 129.5,263.9 130.1,259.7 130.7,255.0 131.3,249.8 131.9,254.6 132.5,259.7 133.1,265.3 133.7,270.9 134.3,269.4 134.9,268.1 135.5,266.9 136.1,265.5 136.7,272.1 137.3,278.8 137.9,285.4 138.5,292.0 139.1,285.5 139.7,279.3 140.3,273.1 140.9,266.9 141.5,274.6 142.1,282.1 142.7,289.6 143.3,297.4 143.9,290.8 144.5,284.1 145.1,277.2 145.7,270.2 146.3,277.4 146.9,284.4 147.5,291.5 148.1,298.6 148.7,294.7 149.3,290.9 149.9,286.6 150.5,282.1 151.1,281.5 151.7,281.7 152.3,282.0 152.9,281.7 153.5,282.2 154.1,283.2 154.7,285.0 155.3,286.8 155.9,287.7 156.5,288.6 157.1,289.5 157.7,290.3 158.3,292.5 158.9,294.6 159.5,296.4 160.1,297.5 160.7,298.1 161.3,298.6 161.9,299.3 162.5,300.1 163.1,293.6 163.7,287.3 164.3,281.3 164.9,275.3 165.5,272.7 166.1,270.0 166.7,267.3 167.3,264.6 167.9,260.0 168.5,255.4 169.1,250.8 169.7,246.6 170.3,253.7 170.9,260.7 171.5,267.8 172.1,274.7 172.7,278.3 173.3,281.8 173.9,285.4 174.5,288.9 175.1,287.9 175.7,286.8 176.3,285.5 176.9,284.3 177.5,283.4 178.1,282.7 178.7,282.2 179.3,281.7 179.9,280.3 180.5,278.6 181.1,277.0 181.7,275.3 182.3,274.2 182.9,273.1 183.5,272.1 184.1,271.3 184.7,272.4 185.3,273.5 185.9,274.6 186.5,275.4 187.1,277.2 187.7,278.9 188.3,280.8 188.9,282.7 189.5,276.1 190.1,269.4 190.7,262.6 191.3,255.8 191.9,262.9 192.5,269.8 193.1,276.8 193.7,283.7 194.3,276.4 194.9,269.1 195.5,261.9 196.1,255.3 196.7,259.1 197.3,262.9 197.9,266.7 198.5,270.4 199.1,268.9 199.7,267.7 200.3,266.1 200.9,264.0 201.5,264.2 202.1,265.6 202.7,267.0 203.3,268.1 203.9,266.0 204.5,263.8 205.1,261.7 205.7,259.6 206.3,259.3 206.9,259.1 207.5,258.9 208.1,258.7 208.7,260.4 209.3,262.1 209.9,265.3 210.5,268.7 211.1,266.8 211.7,264.7 212.3,262.5 212.9,260.2 213.5,270.9 214.1,281.5 214.6,290.0" fill="none" stroke="#b9d1ec" stroke-width="0.5" stroke-opacity="0.22" stroke-linejoin="round"/>
<polyline points="32.9,271.0 33.5,270.6 34.1,270.2 34.7,269.8 35.3,269.4 35.9,269.5 36.5,269.6 37.1,269.7 37.7,269.9 38.3,269.5 38.9,269.1 39.5,268.8 40.1,268.6 40.7,267.2 41.3,265.1 41.9,262.9 42.5,260.6 43.1,262.8 43.7,265.0 44.3,267.3 44.9,270.1 45.5,270.7 46.1,271.4 46.7,271.9 47.3,272.4 47.9,269.2 48.5,266.2 49.1,264.4 49.7,262.6 50.3,265.1 50.9,267.5 51.5,269.9 52.1,271.5 52.7,269.4 53.3,267.6 53.9,266.2 54.5,264.8 55.1,266.5 55.7,268.1 56.3,269.7 56.9,271.1 57.5,271.4 58.1,271.7 58.7,272.6 59.3,273.7 59.9,274.4 60.5,275.3 61.1,276.3 61.7,276.7 62.3,276.3 62.9,276.0 63.5,275.9 64.1,275.7 64.7,274.2 65.3,272.9 65.9,271.6 66.5,270.2 67.1,272.2 67.7,274.2 68.3,276.2 68.9,278.3 69.5,276.3 70.1,274.3 70.7,272.2 71.3,270.1 71.9,271.1 72.5,272.3 73.1,273.5 73.7,274.7 74.3,275.4 74.9,275.3 75.5,275.2 76.1,275.2 76.7,273.5 77.3,271.7 77.9,270.7 78.5,269.7 79.1,268.7 79.7,267.3 80.3,265.8 80.9,264.2 81.5,267.2 82.1,270.4 82.7,273.7 83.3,276.7 83.9,273.8 84.5,270.9 85.1,268.0 85.7,265.4 86.3,265.8 86.9,266.1 87.5,266.3 88.1,266.4 88.7,265.8 89.3,264.9 89.9,264.0 90.5,262.7 91.1,265.5 91.7,268.9 92.3,272.7 92.9,276.6 93.5,274.7 94.1,272.7 94.7,270.5 95.3,268.4 95.9,263.5 96.5,258.2 97.1,252.7 97.7,246.9 98.3,254.2 98.9,261.7 99.5,269.7 100.1,278.1 100.7,281.7 101.3,285.6 101.9,290.0 102.5,294.3 103.1,293.6 103.7,292.3 104.3,291.0 104.9,289.8 105.5,282.6 106.1,275.4 106.7,268.2 107.3,261.0 107.9,263.1 108.5,265.3 109.1,267.5 109.7,269.8 110.3,271.7 110.9,273.6 111.5,274.8 112.1,276.1 112.7,278.0 113.3,279.9 113.9,281.2 114.5,282.1 115.1,279.3 115.7,276.8 116.3,274.6 116.9,271.9 117.5,267.9 118.1,263.8 118.7,260.4 119.3,257.0 119.9,262.6 120.5,268.5 121.1,274.5 121.7,280.4 122.3,280.0 122.9,279.6 123.5,279.2 124.1,279.5 124.7,274.4 125.3,269.3 125.9,263.5 126.5,257.7 127.1,260.6 127.7,263.2 128.3,265.6 128.9,268.1 129.5,270.5 130.1,272.8 130.7,274.8 131.3,276.2 131.9,274.9 132.5,273.9 133.1,273.4 133.7,272.9 134.3,274.9 134.9,277.1 135.5,279.2 136.1,281.2 136.7,282.3 137.3,283.3 137.9,284.4 138.5,285.3 139.1,284.7 139.7,284.4 140.3,284.1 140.9,283.8 141.5,281.8 142.1,279.6 142.7,277.4 143.3,275.5 143.9,271.9 144.5,268.2 145.1,264.2 145.7,260.3 146.3,265.9 146.9,271.5 147.5,277.0 148.1,282.6 148.7,285.3 149.3,288.0 149.9,290.2 150.5,292.3 151.1,293.7 151.7,295.9 152.3,298.1 152.9,299.8 153.5,293.3 154.1,287.2 154.7,281.9 155.3,276.6 155.9,277.2 156.5,277.8 157.1,278.3 157.7,278.9 158.3,284.0 158.9,289.1 159.5,293.8 160.1,297.9 160.7,297.4 161.3,297.0 161.9,296.6 162.5,296.4 163.1,292.9 163.7,289.5 164.3,286.4 164.9,283.4 165.5,284.7 166.1,285.8 166.7,286.9 167.3,288.0 167.9,283.2 168.5,278.5 169.1,273.7 169.7,269.4 170.3,273.6 170.9,277.9 171.5,282.1 172.1,286.2 172.7,282.1 173.3,278.0 173.9,273.8 174.5,269.7 175.1,271.9 175.7,274.0 176.3,275.9 176.9,277.8 177.5,277.8 178.1,278.0 178.7,278.3 179.3,278.6 179.9,277.6 180.5,276.3 181.1,275.0 181.7,273.7 182.3,268.6 182.9,263.4 183.5,258.3 184.1,253.5 184.7,257.4 185.3,261.3 185.9,265.1 186.5,268.7 187.1,271.9 187.7,275.2 188.3,278.5 188.9,281.9 189.5,280.6 190.1,279.1 190.7,277.6 191.3,276.1 191.9,274.6 192.5,273.1 193.1,271.6 193.7,270.1 194.3,271.8 194.9,273.5 195.5,275.4 196.1,277.8 196.7,278.4 197.3,279.1 197.9,279.8 198.5,280.4 199.1,280.8 199.7,281.5 200.3,281.8 200.9,281.6 201.5,276.0 202.1,271.7 202.7,267.3 203.3,262.7 203.9,265.1 204.5,267.4 205.1,269.8 205.7,272.3 206.3,271.2 206.9,270.2 207.5,269.3 208.1,268.4 208.7,265.7 209.3,263.0 209.9,261.8 210.5,260.8 211.1,259.6 211.7,258.2 212.3,256.7 212.9,255.1 213.5,259.3 214.1,263.5 214.6,266.7" fill="none" stroke="#b9d1ec" stroke-width="0.5" stroke-opacity="0.22" stroke-linejoin="round"/>
<polyline points="32.9,268.7 33.5,272.4 34.1,276.0 34.7,279.7 35.3,283.5 35.9,280.6 36.5,277.8 37.1,275.0 37.7,272.1 38.3,272.3 38.9,272.4 39.5,272.6 40.1,272.9 40.7,273.1 41.3,272.5 41.9,271.9 42.5,271.1 43.1,273.5 43.7,275.8 44.3,278.2 44.9,281.1 45.5,277.4 46.1,273.7 46.7,269.7 47.3,265.8 47.9,266.0 48.5,266.4 49.1,268.0 49.7,269.7 50.3,269.3 50.9,268.9 51.5,268.5 52.1,267.3 52.7,267.7 53.3,268.4 53.9,269.5 54.5,270.6 55.1,270.9 55.7,271.0 56.3,271.1 56.9,271.0 57.5,272.3 58.1,273.7 58.7,275.5 59.3,277.6 59.9,274.8 60.5,272.1 61.1,269.4 61.7,266.2 62.3,267.8 62.9,269.4 63.5,271.3 64.1,273.1 64.7,275.5 65.3,278.1 65.9,280.6 66.5,283.1 67.1,279.9 67.7,276.7 68.3,273.5 68.9,270.4 69.5,270.7 70.1,271.1 70.7,271.4 71.3,271.6 71.9,270.4 72.5,269.5 73.1,268.5 73.7,267.6 74.3,265.2 74.9,262.2 75.5,259.0 76.1,256.1 76.7,259.3 77.3,262.6 77.9,266.7 78.5,270.8 79.1,273.1 79.7,275.0 80.3,276.8 80.9,278.5 81.5,276.3 82.1,274.4 82.7,272.5 83.3,270.3 83.9,267.9 84.5,265.5 85.1,263.1 85.7,261.1 86.3,264.2 86.9,267.3 87.5,270.3 88.1,273.2 88.7,272.7 89.3,271.8 89.9,271.0 90.5,270.1 91.1,271.6 91.7,273.5 92.3,275.6 92.9,277.7 93.5,277.8 94.1,277.8 94.7,277.9 95.3,278.2 95.9,275.8 96.5,273.3 97.1,270.6 97.7,267.8 98.3,269.5 98.9,270.9 99.5,272.4 100.1,274.0 100.7,266.9 101.3,260.3 101.9,254.0 102.5,247.8 103.1,256.6 103.7,264.9 104.3,273.1 104.9,281.4 105.5,278.6 106.1,275.7 106.7,272.8 107.3,270.0 107.9,272.8 108.5,275.7 109.1,278.7 109.7,281.8 110.3,282.4 110.9,282.9 111.5,282.7 112.1,282.7 112.7,279.4 113.3,276.1 113.9,272.1 114.5,267.8 115.1,268.0 115.7,268.5 116.3,269.3 116.9,269.6 117.5,266.8 118.1,264.0 118.7,261.8 119.3,259.6 119.9,256.0 120.5,252.8 121.1,249.7 121.7,246.5 122.3,252.3 122.9,258.1 123.5,263.9 124.1,270.4 124.7,272.0 125.3,273.6 125.9,274.6 126.5,275.4 127.1,271.7 127.7,267.7 128.3,263.5 128.9,259.4 129.5,265.2 130.1,271.1 130.7,276.5 131.3,281.4 131.9,279.1 132.5,277.1 133.1,275.6 133.7,274.1 134.3,275.5 134.9,277.2 135.5,278.8 136.1,280.3 136.7,276.8 137.3,273.4 137.9,270.0 138.5,266.5 139.1,263.6 139.7,261.1 140.3,258.6 140.9,256.1 141.5,263.7 142.1,271.0 142.7,278.4 143.3,286.2 143.9,285.8 144.5,285.2 145.1,284.5 145.7,283.8 146.3,281.3 146.9,278.8 147.5,276.3 148.1,273.8 148.7,273.2 149.3,272.6 149.9,271.6 150.5,270.3 151.1,270.5 151.7,271.4 152.3,272.3 152.9,272.7 153.5,272.6 154.1,273.0 154.7,274.1 155.3,275.3 155.9,274.8 156.5,274.3 157.1,273.7 157.7,273.2 158.3,269.3 158.9,265.5 159.5,261.2 160.1,256.3 160.7,264.3 161.3,272.2 161.9,280.3 162.5,288.5 163.1,281.4 163.7,274.5 164.3,267.9 164.9,261.3 165.5,264.9 166.1,268.4 166.7,271.9 167.3,275.4 167.9,275.1 168.5,274.9 169.1,274.6 169.7,274.8 170.3,276.7 170.9,278.6 171.5,280.5 172.1,282.3 172.7,276.8 173.3,271.3 173.9,265.7 174.5,260.2 175.1,268.8 175.7,277.3 176.3,285.7 176.9,294.0 177.5,292.3 178.1,290.8 178.7,289.4 179.3,288.0 179.9,288.3 180.5,288.4 181.1,288.5 181.7,288.6 182.3,289.9 182.9,291.1 183.5,292.4 184.1,294.0 184.7,287.8 185.3,281.7 185.9,275.5 186.5,269.1 187.1,261.8 187.7,254.5 188.3,247.4 188.9,240.3 189.5,250.6 190.1,260.7 190.7,270.8 191.3,280.8 191.9,283.3 192.5,285.8 193.1,288.2 193.7,290.6 194.3,289.4 194.9,288.2 195.5,287.2 196.1,286.6 196.7,281.4 197.3,276.2 197.9,271.0 198.5,265.8 199.1,267.1 199.7,268.6 200.3,269.7 200.9,270.4 201.5,270.9 202.1,272.7 202.7,274.4 203.3,275.9 203.9,269.5 204.5,263.1 205.1,256.7 205.7,250.4 206.3,253.8 206.9,257.4 207.5,260.9 208.1,264.5 208.7,263.5 209.3,262.6 209.9,263.0 210.5,263.8 211.1,271.1 211.7,278.2 212.3,285.3 212.9,292.2 213.5,285.5 214.1,278.8 214.6,272.9" fill="none" stroke="#b9d1ec" stroke-width="0.5" stroke-opacity="0.22" stroke-linejoin="round"/>
<polyline points="32.9,280.9 33.5,278.9 34.1,276.9 34.7,274.8 35.3,272.7 35.9,270.6 36.5,268.5 37.1,266.3 37.7,264.2 38.3,269.4 38.9,274.7 39.5,280.0 40.1,285.4 40.7,281.8 41.3,277.4 41.9,272.9 42.5,268.3 43.1,269.7 43.7,271.1 44.3,272.6 44.9,274.6 45.5,276.0 46.1,277.4 46.7,278.6 47.3,279.8 47.9,276.0 48.5,272.5 49.1,270.1 49.7,267.8 50.3,267.3 50.9,266.8 51.5,266.3 52.1,264.9 52.7,267.5 53.3,270.4 53.9,273.7 54.5,276.9 55.1,275.8 55.7,274.5 56.3,273.2 56.9,271.7 57.5,269.7 58.1,267.7 58.7,266.2 59.3,265.0 59.9,265.8 60.5,266.7 61.1,267.7 61.7,268.1 62.3,268.8 62.9,269.4 63.5,270.3 64.1,271.2 64.7,273.2 65.3,275.3 65.9,277.5 66.5,279.5 67.1,277.6 67.7,275.6 68.3,273.6 68.9,271.8 69.5,273.0 70.1,274.2 70.7,275.3 71.3,276.4 71.9,277.7 72.5,279.2 73.1,280.7 73.7,282.2 74.3,281.8 74.9,280.7 75.5,279.5 76.1,278.5 76.7,278.5 77.3,278.4 77.9,279.1 78.5,279.8 79.1,280.0 79.7,279.8 80.3,279.4 80.9,279.0 81.5,275.0 82.1,271.4 82.7,267.7 83.3,263.7 83.9,267.5 84.5,271.3 85.1,275.1 85.7,279.3 86.3,278.0 86.9,276.7 87.5,275.3 88.1,273.7 88.7,272.7 89.3,271.5 89.9,270.2 90.5,268.9 91.1,267.2 91.7,265.6 92.3,263.9 92.9,261.7 93.5,260.2 94.1,258.6 94.7,256.9 95.3,255.4 95.9,256.1 96.5,256.9 97.1,257.9 97.7,259.1 98.3,261.6 98.9,263.9 99.5,266.4 100.1,269.2 100.7,265.2 101.3,261.7 101.9,258.6 102.5,255.5 103.1,256.6 103.7,257.2 104.3,257.8 104.9,258.5 105.5,259.0 106.1,259.5 106.7,260.0 107.3,260.5 107.9,264.5 108.5,268.6 109.1,272.7 109.7,277.0 110.3,274.7 110.9,272.4 111.5,269.4 112.1,266.6 112.7,267.8 113.3,269.0 113.9,269.5 114.5,269.7 115.1,273.9 115.7,278.4 116.3,283.2 116.9,287.5 117.5,281.9 118.1,276.3 118.7,271.4 119.3,266.4 119.9,269.2 120.5,272.3 121.1,275.6 121.7,278.7 122.3,273.7 122.9,268.8 123.5,263.8 124.1,259.5 124.7,264.4 125.3,269.3 125.9,273.6 126.5,277.7 127.1,277.1 127.7,276.2 128.3,275.1 128.9,274.0 129.5,274.7 130.1,275.3 130.7,275.5 131.3,275.2 131.9,272.8 132.5,270.7 133.1,269.1 133.7,267.5 134.3,266.2 134.9,265.1 135.5,263.9 136.1,262.7 136.7,265.1 137.3,267.6 137.9,270.0 138.5,272.3 139.1,272.0 139.7,271.9 140.3,271.9 140.9,271.8 141.5,276.3 142.1,280.6 142.7,284.8 143.3,289.4 143.9,289.2 144.5,288.7 145.1,288.1 145.7,287.5 146.3,280.9 146.9,274.2 147.5,267.5 148.1,260.9 148.7,266.7 149.3,272.5 149.9,277.9 150.5,283.1 151.1,279.5 151.7,276.7 152.3,273.8 152.9,270.5 153.5,272.8 154.1,275.5 154.7,279.1 155.3,282.7 155.9,280.5 156.5,278.2 157.1,276.0 157.7,273.7 158.3,271.4 158.9,269.1 159.5,266.4 160.1,263.0 160.7,270.0 161.3,277.1 161.9,284.2 162.5,291.5 163.1,289.6 163.7,287.8 164.3,286.3 164.9,284.8 165.5,280.0 166.1,275.0 166.7,269.9 167.3,264.9 167.9,262.5 168.5,260.2 169.1,257.9 169.7,256.0 170.3,260.3 170.9,264.5 171.5,268.8 172.1,272.9 172.7,271.1 173.3,269.3 173.9,267.4 174.5,265.6 175.1,268.2 175.7,270.7 176.3,273.0 176.9,275.4 177.5,278.2 178.1,281.3 178.7,284.5 179.3,287.7 179.9,290.3 180.5,292.6 181.1,294.9 181.7,297.2 182.3,291.5 182.9,285.8 183.5,280.1 184.1,274.7 184.7,279.9 185.3,285.2 185.9,290.4 186.5,295.3 187.1,294.4 187.7,293.6 188.3,292.8 188.9,292.0 189.5,287.1 190.1,282.0 190.7,276.9 191.3,271.8 191.9,267.6 192.5,263.4 193.1,259.2 193.7,255.0 194.3,261.8 194.9,268.6 195.5,275.6 196.1,283.0 196.7,282.2 197.3,281.4 197.9,280.5 198.5,279.6 199.1,284.8 199.7,290.3 200.3,295.3 200.9,299.9 201.5,296.5 202.1,294.3 202.7,292.2 203.3,289.7 203.9,287.7 204.5,285.6 205.1,283.6 205.7,281.6 206.3,284.3 206.9,287.2 207.5,290.0 208.1,292.9 208.7,283.6 209.3,274.3 209.9,266.5 210.5,259.0 211.1,263.4 211.7,267.5 212.3,271.7 212.9,275.7 213.5,274.3 214.1,272.9 214.6,271.3" fill="none" stroke="#b9d1ec" stroke-width="0.5" stroke-opacity="0.22" stroke-linejoin="round"/>
<polyline points="32.9,281.8 33.5,280.3 34.1,278.7 34.7,277.1 35.3,275.6 35.9,271.0 36.5,266.4 37.1,261.8 37.7,257.2 38.3,263.1 38.9,269.0 39.5,275.0 40.1,281.1 40.7,278.7 41.3,275.5 41.9,272.1 42.5,268.6 43.1,270.2 43.7,271.7 44.3,273.4 44.9,275.5 45.5,273.8 46.1,272.1 46.7,270.2 47.3,268.3 47.9,268.5 48.5,268.8 49.1,270.4 49.7,271.9 50.3,272.9 50.9,273.9 51.5,274.8 52.1,274.9 52.7,273.9 53.3,273.2 53.9,272.8 54.5,272.5 55.1,271.1 55.7,269.5 56.3,268.0 56.9,266.2 57.5,269.2 58.1,272.2 58.7,275.7 59.3,279.4 59.9,278.7 60.5,278.1 61.1,277.4 61.7,276.3 62.3,275.5 62.9,274.6 63.5,274.0 64.1,273.3 64.7,274.4 65.3,275.7 65.9,277.0 66.5,278.2 67.1,276.2 67.7,274.3 68.3,272.3 68.9,270.4 69.5,273.7 70.1,277.0 70.7,280.3 71.3,283.5 71.9,281.0 72.5,278.7 73.1,276.4 73.7,274.2 74.3,274.5 74.9,274.1 75.5,273.7 76.1,273.4 76.7,273.1 77.3,272.8 77.9,273.2 78.5,273.6 79.1,272.2 79.7,270.5 80.3,268.5 80.9,266.5 81.5,266.3 82.1,266.4 82.7,266.6 83.3,266.4 83.9,268.0 84.5,269.7 85.1,271.4 85.7,273.5 86.3,273.7 86.9,273.9 87.5,274.0 88.1,273.9 88.7,275.1 89.3,276.1 89.9,277.0 90.5,278.3 91.1,277.2 91.7,276.3 92.3,275.2 92.9,273.8 93.5,270.7 94.1,267.3 94.7,263.8 95.3,260.1 95.9,263.7 96.5,267.7 97.1,272.0 97.7,276.6 98.3,277.6 98.9,278.2 99.5,278.9 100.1,279.6 100.7,279.6 101.3,280.1 101.9,281.0 102.5,281.8 103.1,279.9 103.7,277.4 104.3,274.9 104.9,272.5 105.5,267.8 106.1,263.0 106.7,258.3 107.3,253.5 107.9,260.8 108.5,268.2 109.1,275.6 109.7,283.2 110.3,278.1 110.9,273.0 111.5,267.2 112.1,261.6 112.7,266.3 113.3,270.9 113.9,274.9 114.5,278.6 115.1,271.9 115.7,265.5 116.3,259.5 116.9,252.9 117.5,259.3 118.1,265.7 118.7,272.7 119.3,279.7 119.9,275.1 120.5,270.8 121.1,266.6 121.7,262.3 122.3,267.9 122.9,273.5 123.5,279.1 124.1,285.4 124.7,288.2 125.3,291.0 125.9,293.2 126.5,295.2 127.1,293.4 127.7,291.3 128.3,289.1 128.9,286.9 129.5,280.3 130.1,273.8 130.7,266.8 131.3,259.3 131.9,259.5 132.5,260.0 133.1,261.0 133.7,262.0 134.3,262.6 134.9,263.4 135.5,264.2 136.1,264.8 136.7,269.6 137.3,274.5 137.9,279.3 138.5,284.1 139.1,283.3 139.7,282.8 140.3,282.3 140.9,281.8 141.5,281.2 142.1,280.4 142.7,279.6 143.3,279.1 143.9,279.7 144.5,280.1 145.1,280.3 145.7,280.6 146.3,281.1 146.9,281.5 147.5,282.0 148.1,282.5 148.7,283.0 149.3,283.6 149.9,283.7 150.5,283.6 151.1,286.4 151.7,290.0 152.3,293.6 152.9,296.7 153.5,291.0 154.1,285.7 154.7,281.2 155.3,276.7 155.9,278.1 156.5,279.4 157.1,280.8 157.7,282.1 158.3,276.6 158.9,271.0 159.5,265.2 160.1,258.6 160.7,259.7 161.3,260.9 161.9,262.2 162.5,263.6 163.1,265.2 163.7,267.0 164.3,269.2 164.9,271.3 165.5,270.0 166.1,268.5 166.7,267.0 167.3,265.5 167.9,269.4 168.5,273.3 169.1,277.1 169.7,281.5 170.3,284.1 170.9,286.8 171.5,289.4 172.1,292.0 172.7,287.7 173.3,283.3 173.9,279.0 174.5,274.7 175.1,274.7 175.7,274.5 176.3,274.3 176.9,274.0 177.5,273.8 178.1,273.9 178.7,274.1 179.3,274.2 179.9,276.2 180.5,277.8 181.1,279.5 181.7,281.2 182.3,278.9 182.9,276.7 183.5,274.5 184.1,272.5 184.7,275.5 185.3,278.4 185.9,281.4 186.5,284.0 187.1,283.4 187.7,282.7 188.3,282.2 188.9,281.8 189.5,281.8 190.1,281.6 190.7,281.4 191.3,281.2 191.9,282.0 192.5,282.8 193.1,283.5 193.7,284.2 194.3,281.3 194.9,278.3 195.5,275.5 196.1,273.2 196.7,273.5 197.3,273.7 197.9,273.9 198.5,274.1 199.1,278.9 199.7,284.0 200.3,288.6 200.9,292.8 201.5,286.7 202.1,281.9 202.7,277.1 203.3,272.0 203.9,274.4 204.5,276.9 205.1,279.3 205.7,281.8 206.3,279.6 206.9,277.4 207.5,275.4 208.1,273.3 208.7,270.7 209.3,268.1 209.9,266.9 210.5,266.0 211.1,266.7 211.7,267.1 212.3,267.5 212.9,267.8 213.5,266.7 214.1,265.6 214.6,264.4" fill="none" stroke="#b9d1ec" stroke-width="0.5" stroke-opacity="0.22" stroke-linejoin="round"/>
<polyline points="32.9,273.2 33.5,272.3 34.1,271.4 34.7,270.5 35.3,269.7 35.9,269.9 36.5,270.1 37.1,270.3 37.7,270.5 38.3,272.9 38.9,275.3 39.5,277.8 40.1,280.3 40.7,279.0 41.3,277.0 41.9,274.8 42.5,272.6 43.1,273.6 43.7,274.6 44.3,275.8 44.9,277.4 45.5,276.2 46.1,275.0 46.7,273.6 47.3,272.2 47.9,272.2 48.5,272.4 49.1,273.8 49.7,275.2 50.3,273.7 50.9,272.1 51.5,270.6 52.1,268.2 52.7,268.8 53.3,269.7 53.9,270.9 54.5,272.1 55.1,275.6 55.7,279.0 56.3,282.4 56.9,285.6 57.5,282.9 58.1,280.3 58.7,278.1 59.3,276.2 59.9,277.1 60.5,278.1 61.1,279.1 61.7,279.6 62.3,278.2 62.9,276.9 63.5,275.8 64.1,274.6 64.7,275.6 65.3,276.7 65.9,277.9 66.5,278.9 67.1,275.9 67.7,272.8 68.3,269.8 68.9,266.8 69.5,267.1 70.1,267.4 70.7,267.7 71.3,267.9 71.9,269.5 72.5,271.4 73.1,273.3 73.7,275.2 74.3,275.9 74.9,275.9 75.5,275.8 76.1,275.9 76.7,273.8 77.3,271.8 77.9,270.4 78.5,269.1 79.1,269.9 79.7,270.2 80.3,270.4 80.9,270.6 81.5,270.6 82.1,270.8 82.7,271.1 83.3,271.0 83.9,270.9 84.5,270.8 85.1,270.7 85.7,270.9 86.3,269.4 86.9,267.9 87.5,266.3 88.1,264.5 88.7,263.9 89.3,263.0 89.9,262.0 90.5,260.6 91.1,262.3 91.7,264.5 92.3,266.9 92.9,269.4 93.5,265.9 94.1,262.1 94.7,258.1 95.3,253.9 95.9,255.2 96.5,256.7 97.1,258.5 97.7,260.3 98.3,260.8 98.9,260.9 99.5,261.1 100.1,261.3 100.7,259.7 101.3,258.4 101.9,257.6 102.5,256.8 103.1,260.7 103.7,264.1 104.3,267.5 104.9,271.0 105.5,268.8 106.1,266.7 106.7,264.5 107.3,262.4 107.9,263.6 108.5,265.0 109.1,266.3 109.7,267.8 110.3,265.6 110.9,263.5 111.5,260.6 112.1,257.8 112.7,259.4 113.3,260.9 113.9,261.8 114.5,262.4 115.1,265.9 115.7,269.7 116.3,273.9 116.9,277.5 117.5,276.4 118.1,275.3 118.7,274.9 119.3,274.4 119.9,271.9 120.5,269.8 121.1,267.8 121.7,265.7 122.3,268.1 122.9,270.6 123.5,273.1 124.1,276.3 124.7,276.5 125.3,276.7 125.9,276.3 126.5,275.8 127.1,275.7 127.7,275.3 128.3,274.8 128.9,274.2 129.5,279.0 130.1,283.8 130.7,288.1 131.3,291.9 131.9,285.5 132.5,279.3 133.1,273.6 133.7,268.0 134.3,270.8 134.9,273.8 135.5,276.9 136.1,279.7 136.7,280.0 137.3,280.2 137.9,280.5 138.5,280.6 139.1,278.8 139.7,277.3 140.3,275.8 140.9,274.3 141.5,271.5 142.1,268.4 142.7,265.4 143.3,262.7 143.9,268.4 144.5,273.9 145.1,279.2 145.7,284.6 146.3,283.0 146.9,281.3 147.5,279.7 148.1,278.1 148.7,277.8 149.3,277.5 149.9,276.7 150.5,275.8 151.1,275.4 151.7,275.8 152.3,276.2 152.9,276.1 153.5,275.6 154.1,275.5 154.7,276.3 155.3,277.0 155.9,274.9 156.5,272.7 157.1,270.5 157.7,268.4 158.3,272.5 158.9,276.7 159.5,280.6 160.1,283.7 160.7,277.0 161.3,270.3 161.9,263.7 162.5,257.2 163.1,262.3 163.7,267.5 164.3,273.1 164.9,278.6 165.5,274.4 166.1,270.0 166.7,265.6 167.3,261.2 167.9,264.2 168.5,267.3 169.1,270.4 169.7,273.9 170.3,277.4 170.9,280.8 171.5,284.1 172.1,287.4 172.7,284.6 173.3,281.8 173.9,279.0 174.5,276.2 175.1,275.6 175.7,275.0 176.3,274.2 176.9,273.4 177.5,276.3 178.1,279.4 178.7,282.6 179.3,285.9 179.9,283.5 180.5,280.9 181.1,278.3 181.7,275.7 182.3,275.1 182.9,274.4 183.5,273.8 184.1,273.5 184.7,273.6 185.3,273.7 185.9,273.7 186.5,273.5 187.1,279.0 187.7,284.4 188.3,290.0 188.9,295.6 189.5,292.9 190.1,290.1 190.7,287.2 191.3,284.3 191.9,283.4 192.5,282.3 193.1,281.2 193.7,280.1 194.3,274.4 194.9,268.6 195.5,263.0 196.1,257.9 196.7,263.2 197.3,268.5 197.9,273.8 198.5,279.1 199.1,273.3 199.7,267.8 200.3,261.9 200.9,255.5 201.5,260.1 202.1,266.1 202.7,272.0 203.3,277.6 203.9,272.7 204.5,267.8 205.1,262.9 205.7,258.1 206.3,267.3 206.9,276.6 207.5,286.0 208.1,295.3 208.7,283.4 209.3,271.4 209.9,260.9 210.5,250.6 211.1,260.0 211.7,269.1 212.3,278.3 212.9,287.3 213.5,286.0 214.1,284.7 214.6,283.3" fill="none" stroke="#b9d1ec" stroke-width="0.5" stroke-opacity="0.22" stroke-linejoin="round"/>
<polyline points="32.9,263.9 33.5,265.8 34.1,267.5 34.7,269.3 35.3,271.2 35.9,273.3 36.5,275.4 37.1,277.6 37.7,279.7 38.3,279.7 38.9,279.6 39.5,279.5 40.1,279.6 40.7,276.5 41.3,272.6 41.9,268.5 42.5,264.4 43.1,265.2 43.7,266.1 44.3,267.0 44.9,268.4 45.5,267.5 46.1,266.6 46.7,265.4 47.3,264.3 47.9,263.7 48.5,263.3 49.1,264.1 49.7,264.9 50.3,265.8 50.9,266.7 51.5,267.6 52.1,267.7 52.7,270.6 53.3,273.8 53.9,277.3 54.5,280.9 55.1,278.8 55.7,276.5 56.3,274.2 56.9,271.7 57.5,271.0 58.1,270.3 58.7,270.1 59.3,270.2 59.9,270.6 60.5,271.2 61.1,271.8 61.7,271.9 62.3,273.0 62.9,274.1 63.5,275.4 64.1,276.7 64.7,276.8 65.3,277.1 65.9,277.4 66.5,277.7 67.1,275.2 67.7,272.7 68.3,270.2 68.9,267.8 69.5,271.1 70.1,274.3 70.7,277.5 71.3,280.7 71.9,276.9 72.5,273.3 73.1,269.8 73.7,266.2 74.3,267.5 74.9,268.0 75.5,268.6 76.1,269.3 76.7,270.0 77.3,270.7 77.9,272.2 78.5,273.7 79.1,276.0 79.7,277.9 80.3,279.6 80.9,281.4 81.5,278.6 82.1,276.1 82.7,273.6 83.3,270.8 83.9,271.3 84.5,271.9 85.1,272.5 85.7,273.4 86.3,274.9 86.9,276.4 87.5,277.9 88.1,279.1 88.7,277.8 89.3,276.3 89.9,274.7 90.5,273.2 91.1,274.2 91.7,275.6 92.3,277.0 92.9,278.4 93.5,278.4 94.1,278.5 94.7,278.6 95.3,278.9 95.9,277.5 96.5,276.0 97.1,274.5 97.7,272.9 98.3,273.9 98.9,274.7 99.5,275.4 100.1,276.2 100.7,276.6 101.3,277.4 101.9,278.6 102.5,279.8 103.1,277.0 103.7,273.7 104.3,270.4 104.9,267.2 105.5,272.0 106.1,276.7 106.7,281.5 107.3,286.3 107.9,275.7 108.5,265.2 109.1,254.7 109.7,244.4 110.3,248.2 110.9,252.0 111.5,255.1 112.1,258.3 112.7,266.2 113.3,274.0 113.9,281.2 114.5,288.0 115.1,284.7 115.7,281.7 116.3,279.1 116.9,275.9 117.5,272.1 118.1,268.2 118.7,265.0 119.3,261.8 119.9,264.9 120.5,268.3 121.1,271.8 121.7,275.3 122.3,277.4 122.9,279.5 123.5,281.6 124.1,284.5 124.7,280.3 125.3,276.1 125.9,271.3 126.5,266.3 127.1,270.3 127.7,274.0 128.3,277.5 128.9,281.0 129.5,278.9 130.1,276.7 130.7,274.0 131.3,270.9 131.9,270.4 132.5,270.2 133.1,270.6 133.7,271.0 134.3,271.5 134.9,272.2 135.5,272.9 136.1,273.4 136.7,277.2 137.3,281.0 137.9,284.8 138.5,288.5 139.1,281.9 139.7,275.7 140.3,269.5 140.9,263.2 141.5,265.5 142.1,267.5 142.7,269.5 143.3,271.8 143.9,275.1 144.5,278.1 145.1,281.0 145.7,283.8 146.3,277.9 146.9,271.9 147.5,265.9 148.1,260.0 148.7,259.2 149.3,258.4 149.9,257.3 150.5,255.9 151.1,262.0 151.7,268.9 152.3,275.9 152.9,282.3 153.5,280.1 154.1,278.3 154.7,277.4 155.3,276.4 155.9,276.6 156.5,276.7 157.1,276.8 157.7,277.0 158.3,278.5 158.9,280.0 159.5,281.1 160.1,281.6 160.7,277.8 161.3,274.1 161.9,270.4 162.5,266.8 163.1,278.3 163.7,289.9 164.3,301.7 164.9,306.9 165.5,302.1 166.1,290.4 166.7,278.7 167.3,267.0 167.9,268.3 168.5,269.6 169.1,270.9 169.7,272.7 170.3,269.9 170.9,267.2 171.5,264.4 172.1,261.5 172.7,264.7 173.3,267.8 173.9,270.9 174.5,274.1 175.1,280.0 175.7,285.8 176.3,291.6 176.9,297.3 177.5,292.7 178.1,288.3 178.7,284.0 179.3,279.7 179.9,281.5 180.5,282.9 181.1,284.4 181.7,285.9 182.3,282.4 182.9,279.0 183.5,275.6 184.1,272.4 184.7,279.3 185.3,286.3 185.9,293.2 186.5,299.8 187.1,294.6 187.7,289.4 188.3,284.3 188.9,279.3 189.5,274.9 190.1,270.4 190.7,265.8 191.3,261.2 191.9,266.9 192.5,272.4 193.1,278.0 193.7,283.4 194.3,279.3 194.9,275.1 195.5,271.1 196.1,267.6 196.7,270.4 197.3,273.3 197.9,276.0 198.5,278.8 199.1,277.4 199.7,276.2 200.3,274.6 200.9,272.5 201.5,272.3 202.1,273.3 202.7,274.2 203.3,275.0 203.9,274.5 204.5,273.9 205.1,273.5 205.7,273.1 206.3,270.0 206.9,266.9 207.5,263.9 208.1,261.0 208.7,258.1 209.3,255.3 209.9,253.9 210.5,252.7 211.1,260.8 211.7,268.7 212.3,276.5 212.9,284.2 213.5,280.9 214.1,277.6 214.6,274.5" fill="none" stroke="#b9d1ec" stroke-width="0.5" stroke-opacity="0.22" stroke-linejoin="round"/>
<polyline points="32.9,274.2 33.5,273.2 34.1,272.1 34.7,271.1 35.3,270.0 35.9,268.1 36.5,266.1 37.1,264.1 37.7,262.1 38.3,263.3 38.9,264.6 39.5,265.8 40.1,267.2 40.7,271.1 41.3,274.2 41.9,277.2 42.5,280.2 43.1,276.7 43.7,273.3 44.3,269.9 44.9,267.0 45.5,267.5 46.1,267.9 46.7,268.2 47.3,268.5 47.9,266.2 48.5,264.2 49.1,263.3 49.7,262.5 50.3,264.2 50.9,265.8 51.5,267.5 52.1,268.3 52.7,268.1 53.3,268.2 53.9,268.6 54.5,269.0 55.1,269.3 55.7,269.5 56.3,269.7 56.9,269.8 57.5,269.7 58.1,269.7 58.7,270.2 59.3,271.0 59.9,270.8 60.5,270.8 61.1,270.8 61.7,270.2 62.3,270.0 62.9,269.8 63.5,269.8 64.1,269.8 64.7,270.7 65.3,271.7 65.9,272.7 66.5,273.7 67.1,274.0 67.7,274.2 68.3,274.5 68.9,274.8 69.5,274.0 70.1,273.3 70.7,272.4 71.3,271.5 71.9,274.0 72.5,276.8 73.1,279.6 73.7,282.4 74.3,280.3 74.9,277.5 75.5,274.7 76.1,272.0 76.7,271.7 77.3,271.3 77.9,271.7 78.5,272.0 79.1,271.3 79.7,270.2 80.3,268.9 80.9,267.5 81.5,270.2 82.1,273.1 82.7,276.1 83.3,278.8 83.9,275.4 84.5,272.0 85.1,268.7 85.7,265.6 86.3,264.7 86.9,263.8 87.5,262.8 88.1,261.7 88.7,262.3 89.3,262.7 89.9,263.1 90.5,263.1 91.1,265.3 91.7,268.1 92.3,271.2 92.9,274.4 93.5,270.9 94.1,267.1 94.7,263.0 95.3,258.8 95.9,264.3 96.5,270.3 97.1,276.9 97.7,283.8 98.3,280.6 98.9,276.8 99.5,272.7 100.1,268.3 100.7,263.3 101.3,258.8 101.9,254.7 102.5,250.5 103.1,254.5 103.7,257.9 104.3,261.2 104.9,264.7 105.5,270.6 106.1,276.6 106.7,282.5 107.3,288.5 107.9,280.7 108.5,273.0 109.1,265.3 109.7,257.8 110.3,257.1 110.9,256.3 111.5,254.9 112.1,253.6 112.7,259.8 113.3,266.0 113.9,271.6 114.5,276.8 115.1,278.9 115.7,281.4 116.3,284.1 116.9,286.4 117.5,284.9 118.1,283.4 118.7,282.5 119.3,281.6 119.9,277.6 120.5,273.9 121.1,270.4 121.7,266.7 122.3,268.2 122.9,269.8 123.5,271.3 124.1,273.6 124.7,274.8 125.3,275.9 125.9,276.4 126.5,276.8 127.1,279.4 127.7,281.6 128.3,283.7 128.9,285.8 129.5,289.2 130.1,292.6 130.7,295.6 131.3,298.0 131.9,290.8 132.5,283.8 133.1,277.4 133.7,271.0 134.3,275.6 134.9,280.3 135.5,285.1 136.1,289.8 136.7,285.1 137.3,280.4 137.9,275.7 138.5,270.9 139.1,273.9 139.7,277.1 140.3,280.4 140.9,283.7 141.5,279.1 142.1,274.2 142.7,269.4 143.3,265.0 143.9,265.6 144.5,266.0 145.1,266.3 145.7,266.6 146.3,269.9 146.9,273.0 147.5,276.2 148.1,279.5 148.7,275.9 149.3,272.2 149.9,268.2 150.5,264.0 151.1,269.0 151.7,274.9 152.3,280.7 152.9,286.0 153.5,281.2 154.1,276.8 154.7,273.3 155.3,269.7 155.9,272.2 156.5,274.6 157.1,277.1 157.7,279.6 158.3,279.7 158.9,279.9 159.5,279.7 160.1,278.8 160.7,277.6 161.3,276.4 161.9,275.4 162.5,274.4 163.1,275.6 163.7,276.9 164.3,278.5 164.9,280.1 165.5,283.2 166.1,286.0 166.7,288.8 167.3,291.7 167.9,297.4 168.5,303.2 169.1,306.9 169.7,306.9 170.3,302.4 170.9,289.7 171.5,277.0 172.1,264.3 172.7,268.8 173.3,273.4 173.9,278.0 174.5,282.6 175.1,281.3 175.7,279.8 176.3,278.3 176.9,276.8 177.5,274.5 178.1,272.4 178.7,270.4 179.3,268.5 179.9,272.1 180.5,275.4 181.1,278.7 181.7,282.1 182.3,278.4 182.9,274.7 183.5,271.0 184.1,267.6 184.7,270.0 185.3,272.5 185.9,274.9 186.5,277.0 187.1,280.7 187.7,284.4 188.3,288.2 188.9,292.1 189.5,282.2 190.1,272.1 190.7,262.0 191.3,251.9 191.9,258.2 192.5,264.5 193.1,270.8 193.7,277.1 194.3,276.9 194.9,276.8 195.5,276.8 196.1,277.3 196.7,273.0 197.3,268.7 197.9,264.3 198.5,260.0 199.1,264.4 199.7,269.0 200.3,273.3 200.9,277.1 201.5,275.9 202.1,276.0 202.7,276.1 203.3,275.9 203.9,273.7 204.5,271.5 205.1,269.3 205.7,267.2 206.3,271.8 206.9,276.6 207.5,281.5 208.1,286.3 208.7,277.7 209.3,269.0 209.9,261.9 210.5,255.0 211.1,261.5 211.7,267.8 212.3,274.0 212.9,280.2 213.5,277.5 214.1,274.9 214.6,272.4" fill="none" stroke="#b9d1ec" stroke-width="0.5" stroke-opacity="0.22" stroke-linejoin="round"/>
<polyline points="32.9,267.5 33.5,268.5 34.1,269.4 34.7,270.4 35.3,271.4 35.9,271.2 36.5,271.0 37.1,270.8 37.7,270.6 38.3,272.3 38.9,274.1 39.5,276.0 40.1,277.9 40.7,275.4 41.3,272.1 41.9,268.7 42.5,265.2 43.1,266.2 43.7,267.3 44.3,268.4 44.9,270.0 45.5,269.6 46.1,269.2 46.7,268.6 47.3,268.0 47.9,269.9 48.5,272.0 49.1,275.3 49.7,278.5 50.3,275.5 50.9,272.3 51.5,269.1 52.1,265.1 52.7,267.6 53.3,270.4 53.9,273.5 54.5,276.7 55.1,273.0 55.7,269.2 56.3,265.4 56.9,261.4 57.5,264.0 58.1,266.6 58.7,269.8 59.3,273.2 59.9,273.1 60.5,273.2 61.1,273.3 61.7,272.9 62.3,273.3 62.9,273.8 63.5,274.4 64.1,275.0 64.7,273.6 65.3,272.4 65.9,271.1 66.5,269.8 67.1,267.8 67.7,265.9 68.3,263.9 68.9,262.0 69.5,262.4 70.1,262.8 70.7,263.2 71.3,263.5 71.9,267.4 72.5,271.5 73.1,275.7 73.7,279.8 74.3,278.4 74.9,276.2 75.5,274.1 76.1,272.0 76.7,270.1 77.3,268.3 77.9,267.1 78.5,266.0 79.1,269.0 79.7,271.7 80.3,274.1 80.9,276.5 81.5,274.3 82.1,272.4 82.7,270.5 83.3,268.3 83.9,267.9 84.5,267.6 85.1,267.2 85.7,267.2 86.3,266.5 86.9,265.8 87.5,265.0 88.1,264.0 88.7,267.3 89.3,270.3 89.9,273.3 90.5,276.6 91.1,278.2 91.7,280.3 92.3,282.5 92.9,284.7 93.5,279.3 94.1,273.4 94.7,267.0 95.3,260.3 95.9,263.1 96.5,266.1 97.1,269.4 97.7,273.0 98.3,274.9 98.9,276.5 99.5,278.3 100.1,280.1 100.7,283.0 101.3,286.4 101.9,290.1 102.5,293.9 103.1,280.4 103.7,266.4 104.3,252.4 104.9,239.4 105.5,246.0 106.1,253.5 106.7,261.0 107.3,268.6 107.9,270.2 108.5,272.0 109.1,273.7 109.7,275.7 110.3,269.9 110.9,264.1 111.5,257.6 112.1,251.3 112.7,257.7 113.3,264.1 113.9,269.9 114.5,275.3 115.1,274.4 115.7,273.8 116.3,273.6 116.9,272.8 117.5,273.8 118.1,274.7 118.7,276.3 119.3,277.9 119.9,274.0 120.5,270.4 121.1,266.9 121.7,263.4 122.3,266.4 122.9,269.4 123.5,272.4 124.1,276.1 124.7,273.8 125.3,271.4 125.9,268.5 126.5,265.4 127.1,269.0 127.7,272.4 128.3,275.6 128.9,278.7 129.5,277.9 130.1,277.0 130.7,275.7 131.3,273.9 131.9,271.8 132.5,270.0 133.1,268.7 133.7,267.5 134.3,264.7 134.9,262.2 135.5,259.6 136.1,256.9 136.7,266.3 137.3,275.8 137.9,285.2 138.5,294.5 139.1,293.1 139.7,291.9 140.3,290.8 140.9,289.6 141.5,288.9 142.1,288.0 142.7,287.0 143.3,286.4 143.9,281.9 144.5,277.2 145.1,272.4 145.7,267.5 146.3,268.2 146.9,268.8 147.5,269.3 148.1,270.0 148.7,276.4 149.3,282.8 149.9,288.7 150.5,294.5 151.1,291.4 151.7,289.1 152.3,286.8 152.9,284.0 153.5,278.7 154.1,273.9 154.7,269.8 155.3,265.8 155.9,269.1 156.5,272.4 157.1,275.6 157.7,278.9 158.3,279.9 158.9,280.8 159.5,281.3 160.1,281.2 160.7,279.8 161.3,278.3 161.9,277.0 162.5,275.7 163.1,273.3 163.7,271.0 164.3,269.0 164.9,267.0 165.5,273.8 166.1,280.3 166.7,286.9 167.3,293.5 167.9,291.2 168.5,288.9 169.1,286.5 169.7,284.6 170.3,282.5 170.9,280.3 171.5,278.1 172.1,275.9 172.7,271.9 173.3,267.8 173.9,263.8 174.5,259.8 175.1,262.9 175.7,265.9 176.3,268.8 176.9,271.7 177.5,273.3 178.1,275.2 178.7,277.2 179.3,279.1 179.9,281.8 180.5,284.1 181.1,286.5 181.7,288.9 182.3,284.9 182.9,281.0 183.5,277.1 184.1,273.5 184.7,278.0 185.3,282.4 185.9,286.9 186.5,291.1 187.1,287.9 187.7,284.8 188.3,281.7 188.9,278.7 189.5,275.9 190.1,273.0 190.7,270.0 191.3,267.0 191.9,260.5 192.5,253.8 193.1,247.2 193.7,240.4 194.3,244.6 194.9,248.7 195.5,252.9 196.1,257.7 196.7,256.7 197.3,255.6 197.9,254.5 198.5,253.4 199.1,257.4 199.7,261.7 200.3,265.5 200.9,268.8 201.5,269.7 202.1,271.7 202.7,273.8 203.3,275.6 203.9,278.6 204.5,281.7 205.1,284.7 205.7,287.9 206.3,283.7 206.9,279.6 207.5,275.6 208.1,271.5 208.7,267.0 209.3,262.5 209.9,259.5 210.5,256.7 211.1,267.9 211.7,278.8 212.3,289.8 212.9,300.6 213.5,294.5 214.1,288.4 214.6,282.9" fill="none" stroke="#b9d1ec" stroke-width="0.5" stroke-opacity="0.22" stroke-linejoin="round"/>
<polyline points="32.9,271.4 33.5,271.3 34.1,271.2 34.7,271.1 35.3,271.0 35.9,269.6 36.5,268.2 37.1,266.8 37.7,265.4 38.3,268.3 38.9,271.1 39.5,274.0 40.1,277.0 40.7,277.1 41.3,276.4 41.9,275.7 42.5,274.8 43.1,275.8 43.7,276.7 44.3,277.8 44.9,279.3 45.5,278.6 46.1,278.0 46.7,277.1 47.3,276.2 47.9,275.1 48.5,274.2 49.1,274.5 49.7,274.8 50.3,275.8 50.9,276.8 51.5,277.7 52.1,277.8 52.7,275.3 53.3,273.1 53.9,271.3 54.5,269.5 55.1,269.4 55.7,269.2 56.3,268.9 56.9,268.5 57.5,268.8 58.1,269.2 58.7,270.0 59.3,271.1 59.9,270.0 60.5,269.1 61.1,268.2 61.7,266.8 62.3,268.1 62.9,269.3 63.5,270.7 64.1,272.2 64.7,272.0 65.3,272.0 65.9,272.0 66.5,272.0 67.1,273.1 67.7,274.3 68.3,275.5 68.9,276.8 69.5,275.7 70.1,274.6 70.7,273.5 71.3,272.3 71.9,269.4 72.5,266.8 73.1,264.2 73.7,261.5 74.3,264.4 74.9,266.6 75.5,268.7 76.1,271.1 76.7,272.7 77.3,274.4 77.9,276.9 78.5,279.4 79.1,275.1 79.7,270.4 80.3,265.6 80.9,260.7 81.5,262.4 82.1,264.5 82.7,266.6 83.3,268.4 83.9,269.1 84.5,269.9 85.1,270.7 85.7,271.9 86.3,269.9 86.9,267.9 87.5,265.8 88.1,263.5 88.7,264.3 89.3,264.9 89.9,265.5 90.5,265.9 91.1,266.6 91.7,267.7 92.3,269.0 92.9,270.1 93.5,267.2 94.1,264.1 94.7,260.8 95.3,257.4 95.9,260.8 96.5,264.6 97.1,268.9 97.7,273.4 98.3,273.7 98.9,273.7 99.5,273.7 100.1,273.7 100.7,268.2 101.3,263.1 101.9,258.4 102.5,253.7 103.1,257.7 103.7,261.1 104.3,264.5 104.9,268.0 105.5,271.1 106.1,274.1 106.7,277.2 107.3,280.3 107.9,276.7 108.5,273.2 109.1,269.6 109.7,266.3 110.3,268.7 110.9,271.2 111.5,272.9 112.1,274.8 112.7,276.2 113.3,277.6 113.9,278.3 114.5,278.6 115.1,275.8 115.7,273.2 116.3,271.0 116.9,268.2 117.5,271.2 118.1,274.2 118.7,277.9 119.3,281.6 119.9,279.8 120.5,278.3 121.1,277.0 121.7,275.6 122.3,271.5 122.9,267.3 123.5,263.2 124.1,259.8 124.7,265.1 125.3,270.4 125.9,275.0 126.5,279.6 127.1,280.6 127.7,281.3 128.3,281.9 128.9,282.5 129.5,282.8 130.1,283.1 130.7,282.9 131.3,282.3 131.9,277.4 132.5,272.9 133.1,268.9 133.7,264.9 134.3,268.6 134.9,272.5 135.5,276.4 136.1,280.1 136.7,283.1 137.3,286.1 137.9,289.0 138.5,291.9 139.1,288.7 139.7,285.7 140.3,282.7 140.9,279.8 141.5,282.6 142.1,285.2 142.7,287.8 143.3,290.8 143.9,291.3 144.5,291.6 145.1,291.7 145.7,291.9 146.3,287.6 146.9,283.2 147.5,278.8 148.1,274.5 148.7,276.9 149.3,279.4 149.9,281.4 150.5,283.1 151.1,280.0 151.7,277.6 152.3,275.3 152.9,272.4 153.5,276.0 154.1,280.0 154.7,284.8 155.3,289.6 155.9,286.8 156.5,283.9 157.1,281.0 157.7,278.1 158.3,277.3 158.9,276.6 159.5,275.5 160.1,273.7 160.7,274.9 161.3,276.0 161.9,277.3 162.5,278.6 163.1,278.3 163.7,278.1 164.3,278.1 164.9,278.2 165.5,279.8 166.1,281.1 166.7,282.5 167.3,283.9 167.9,283.8 168.5,283.7 169.1,283.6 169.7,284.0 170.3,279.3 170.9,274.6 171.5,269.9 172.1,265.1 172.7,266.7 173.3,268.4 173.9,270.0 174.5,271.7 175.1,274.9 175.7,277.9 176.3,280.8 176.9,283.8 177.5,284.0 178.1,284.5 178.7,285.2 179.3,285.8 179.9,284.6 180.5,283.2 181.1,281.7 181.7,280.3 182.3,287.7 182.9,295.1 183.5,302.6 184.1,306.9 184.7,305.8 185.3,301.3 185.9,296.8 186.5,292.0 187.1,288.2 187.7,284.3 188.3,280.6 188.9,276.9 189.5,279.2 190.1,281.4 190.7,283.4 191.3,285.5 191.9,286.9 192.5,288.2 193.1,289.6 193.7,290.8 194.3,287.2 194.9,283.6 195.5,280.0 196.1,277.0 196.7,270.6 197.3,264.2 197.9,257.7 198.5,251.2 199.1,256.7 199.7,262.5 200.3,267.8 200.9,272.7 201.5,271.9 202.1,272.4 202.7,272.8 203.3,273.1 203.9,279.2 204.5,285.3 205.1,291.4 205.7,297.7 206.3,285.8 206.9,274.0 207.5,262.2 208.1,250.5 208.7,259.6 209.3,268.7 209.9,279.2 210.5,290.0 211.1,285.6 211.7,280.9 212.3,276.2 212.9,271.4 213.5,274.6 214.1,277.9 214.6,280.3" fill="none" stroke="#b9d1ec" stroke-width="0.5" stroke-opacity="0.22" stroke-linejoin="round"/>
<polyline points="100.0,262.0 100.5,260.6 101.0,259.1 101.5,257.7 102.0,256.2 102.5,254.7 103.0,253.1 103.5,251.6 104.0,250.0 104.5,248.2 105.0,246.0 105.5,243.8 106.0,241.9 106.5,240.5 107.0,240.0 107.5,240.4 108.0,241.4 108.5,242.9 109.0,244.6 109.5,246.4 110.0,248.0 110.5,249.5 111.0,251.1 111.5,252.8 112.0,254.5 112.5,256.3 113.0,258.1 113.5,260.0 114.0,262.0" fill="none" stroke="#b9d1ec" stroke-width="0.8" stroke-opacity="0.6" stroke-linejoin="round"/>
<polyline points="140.0,268.0 140.5,268.0 141.0,267.9 141.5,267.8 142.0,267.7 142.5,267.5 143.0,267.3 143.5,267.0 144.0,266.7 144.5,266.4 145.0,266.1 145.5,265.7 146.0,265.2 146.5,264.8 147.0,264.3 147.5,263.4 148.0,261.7 148.5,259.4 149.0,256.9 149.5,254.3 150.0,251.8 150.5,249.6 151.0,248.0 151.5,246.7 152.0,245.4 152.5,244.2 153.0,243.1 153.5,242.3 154.0,241.7 154.5,241.5 155.0,241.8 155.5,242.7 156.0,244.0 156.5,245.6 157.0,247.3 157.5,249.0 158.0,250.9 158.5,253.3 159.0,256.0 159.5,258.7 160.0,261.3 160.5,263.4 161.0,265.0 161.5,266.2 162.0,267.3 162.5,268.3 163.0,269.1 163.5,269.7 164.0,270.0" fill="none" stroke="#b9d1ec" stroke-width="0.8" stroke-opacity="0.8" stroke-linejoin="round"/>
<polyline points="158.0,266.0 158.5,265.1 159.0,264.1 159.5,263.0 160.0,261.8 160.5,260.6 161.0,259.2 161.5,257.3 162.0,255.4 162.5,254.2 163.0,254.0 163.5,254.8 164.0,256.0 164.5,257.0 165.0,257.2 165.5,253.4 166.0,247.0 166.5,241.3 167.0,239.4 167.5,240.4 168.0,242.5 168.5,245.3 169.0,248.2 169.5,250.9 170.0,253.1 170.5,255.6 171.0,258.2 171.5,260.8 172.0,263.0 172.5,264.6 173.0,265.5 173.5,265.5 174.0,264.8 174.5,263.8 175.0,262.5 175.5,261.1 176.0,259.8 176.5,258.8 177.0,258.1 177.5,258.2 178.0,260.0 178.5,262.6 179.0,264.9 179.5,265.6 180.0,264.5 180.5,262.3 181.0,259.7 181.5,257.3 182.0,254.9 182.5,252.0 183.0,249.1 183.5,246.3 184.0,244.0 184.5,242.5 185.0,242.1 185.5,242.9 186.0,244.6 186.5,246.8 187.0,249.0 187.5,251.1 188.0,252.8 188.5,254.6 189.0,256.5 189.5,258.3 190.0,259.9 190.5,261.0 191.0,261.5 191.5,261.4 192.0,260.8 192.5,259.9 193.0,258.7 193.5,257.3 194.0,255.6 194.5,251.7 195.0,246.3 195.5,241.5 196.0,239.4 196.5,240.2 197.0,242.2 197.5,244.5 198.0,246.3 198.5,247.5 199.0,248.5 199.5,249.5 200.0,250.4 200.5,251.3 201.0,252.2 201.5,253.1 202.0,254.0 202.5,254.8 203.0,255.7 203.5,256.5 204.0,257.3 204.5,258.0 205.0,258.7 205.5,259.3 206.0,259.9 206.5,260.5 207.0,261.0 207.5,261.6 208.0,262.0 208.5,262.5 209.0,262.8 209.5,263.2 210.0,263.5 210.5,263.8 211.0,264.1 211.5,264.4 212.0,264.7 212.5,264.9 213.0,265.1 213.5,265.3 214.0,265.5 214.5,265.6" fill="none" stroke="#a3c3e6" stroke-width="0.9" stroke-opacity="0.8" stroke-linejoin="round"/>
<polyline points="158.8,269.0 159.3,268.1 159.8,267.1 160.3,266.0 160.8,264.8 161.3,263.6 161.8,262.2 162.3,260.3 162.8,258.4 163.3,257.2 163.8,257.0 164.3,257.8 164.8,259.0 165.3,260.0 165.8,260.2 166.3,256.4 166.8,250.0 167.3,244.3 167.8,242.4 168.3,243.4 168.8,245.5 169.3,248.3 169.8,251.2 170.3,253.9 170.8,256.1 171.3,258.6 171.8,261.2 172.3,263.8 172.8,266.0 173.3,267.6 173.8,268.5 174.3,268.5 174.8,267.8 175.3,266.8 175.8,265.5 176.3,264.1 176.8,262.8 177.3,261.8 177.8,261.1 178.3,261.2 178.8,263.0 179.3,265.6 179.8,267.9 180.3,268.6 180.8,267.5 181.3,265.3 181.8,262.7 182.3,260.3 182.8,257.9 183.3,255.0 183.8,252.1 184.3,249.3 184.8,247.0 185.3,245.5 185.8,245.1 186.3,245.9 186.8,247.6 187.3,249.8 187.8,252.0 188.3,254.1 188.8,255.8 189.3,257.6 189.8,259.5 190.3,261.3 190.8,262.9 191.3,264.0 191.8,264.5 192.3,264.4 192.8,263.8 193.3,262.9 193.8,261.7 194.3,260.3 194.8,258.6 195.3,254.7 195.8,249.3 196.3,244.5 196.8,242.4 197.3,243.2 197.8,245.2 198.3,247.5 198.8,249.3 199.3,250.5 199.8,251.5 200.3,252.5 200.8,253.4 201.3,254.3 201.8,255.2 202.3,256.1 202.8,257.0 203.3,257.8 203.8,258.7 204.3,259.5 204.8,260.3 205.3,261.0 205.8,261.7 206.3,262.3 206.8,262.9 207.3,263.5 207.8,264.0 208.3,264.6 208.8,265.0 209.3,265.5 209.8,265.8 210.3,266.2 210.8,266.5 211.3,266.8 211.8,267.1 212.3,267.4 212.8,267.7 213.3,267.9 213.8,268.1 214.3,268.3 214.8,268.5 215.3,268.6" fill="none" stroke="#a3c3e6" stroke-width="0.8" stroke-opacity="0.7" stroke-linejoin="round"/>
<polyline points="96.0,276.0 96.5,276.5 97.0,277.2 97.5,278.1 98.0,279.3 98.5,280.5 99.0,281.9 99.5,283.4 100.0,285.0 100.5,286.8 101.0,289.0 101.5,291.4 102.0,294.1 102.5,297.0 103.0,300.0 103.5,303.3 104.0,306.9" fill="none" stroke="#b9d1ec" stroke-width="0.8" stroke-opacity="0.6" stroke-linejoin="round"/>
<polyline points="133.0,278.0 133.5,278.6 134.0,279.3 134.5,280.0 135.0,280.8 135.5,281.7 136.0,282.7 136.5,283.7 137.0,284.8 137.5,285.9 138.0,287.1 138.5,288.3 139.0,289.5 139.5,290.8 140.0,292.0 140.5,293.4 141.0,295.0 141.5,296.7 142.0,298.5 142.5,300.2 143.0,301.7 143.5,303.0 144.0,304.0 144.5,304.5 145.0,304.3 145.5,303.0 146.0,301.0 146.5,298.6 147.0,296.1 147.5,294.0 148.0,292.0 148.5,290.0 149.0,287.9 149.5,286.0 150.0,284.5 150.5,283.4 151.0,282.4 151.5,281.6 152.0,280.8 152.5,280.3 153.0,280.0" fill="none" stroke="#b9d1ec" stroke-width="0.8" stroke-opacity="0.8" stroke-linejoin="round"/>
<polyline points="150.0,282.0 150.5,282.0 151.0,282.0 151.5,282.0 152.0,282.1 152.5,282.1 153.0,282.2 153.5,282.3 154.0,282.3 154.5,282.5 155.0,283.7 155.5,286.3 156.0,289.9 156.5,293.8 157.0,297.7 157.5,301.2 158.0,303.8 158.5,305.0 159.0,304.1 159.5,301.1 160.0,296.9 160.5,292.5 161.0,289.2 161.5,287.5 162.0,286.4 162.5,285.4 163.0,284.7 163.5,284.2 164.0,284.0" fill="none" stroke="#b9d1ec" stroke-width="0.8" stroke-opacity="0.8" stroke-linejoin="round"/>
<polyline points="110.0,276.0 110.5,277.0 111.0,278.1 111.5,279.2 112.0,280.3 112.5,281.4 113.0,282.6 113.5,283.8 114.0,285.0 114.5,286.2 115.0,287.4 115.5,288.7 116.0,290.0 116.5,291.4 117.0,293.1 117.5,295.0 118.0,296.9 118.5,298.8 119.0,300.7 119.5,302.4 120.0,303.9 120.5,305.0 121.0,305.7 121.5,306.0 122.0,304.8 122.5,301.9 123.0,298.2 123.5,294.6 124.0,292.0 124.5,290.2 125.0,288.5 125.5,287.0 126.0,285.5 126.5,284.3 127.0,283.2 127.5,282.5 128.0,282.0" fill="none" stroke="#b9d1ec" stroke-width="0.8" stroke-opacity="0.6" stroke-linejoin="round"/>
<line x1="104.5" y1="239.4" x2="104.5" y2="306.9" stroke="#b9d1ec" stroke-width="0.7" stroke-opacity="0.6"/>
<line x1="108.8" y1="239.4" x2="108.8" y2="306.9" stroke="#b9d1ec" stroke-width="0.7" stroke-opacity="0.6"/>
<line x1="115.7" y1="239.4" x2="115.7" y2="306.9" stroke="#b9d1ec" stroke-width="0.7" stroke-opacity="0.6"/>
<line x1="120.4" y1="239.4" x2="120.4" y2="306.9" stroke="#b9d1ec" stroke-width="0.7" stroke-opacity="0.6"/>
<line x1="122.6" y1="239.4" x2="122.6" y2="306.9" stroke="#b9d1ec" stroke-width="0.7" stroke-opacity="0.6"/>
<line x1="125.7" y1="239.4" x2="125.7" y2="306.9" stroke="#b9d1ec" stroke-width="0.7" stroke-opacity="0.6"/>
<path d="M32.9,270.9 33.5,270.7 34.1,270.5 34.7,270.4 35.3,270.2 35.9,270.5 36.5,270.9 37.1,270.7 37.7,270.3 38.3,270.7 38.9,271.2 39.5,271.5 40.1,272.0 40.7,272.6 41.3,272.5 41.9,272.2 42.5,271.5 43.1,270.7 43.7,269.8 44.3,268.9 44.9,268.6 45.5,269.4 46.1,269.6 46.7,269.2 47.3,268.7 47.9,267.5 48.5,267.1 49.1,267.5 49.7,267.6 50.3,268.2 50.9,268.8 51.5,269.2 52.1,268.7 52.7,268.2 53.3,268.2 53.9,269.0 54.5,269.4 55.1,269.4 55.7,269.2 56.3,269.5 56.9,269.4 57.5,269.3 58.1,269.0 58.7,268.7 59.3,269.1 59.9,270.2 60.5,270.9 61.1,271.6 61.7,272.0 62.3,271.6 62.9,271.2 63.5,271.3 64.1,271.0 64.7,270.9 65.3,271.0 65.9,270.9 66.5,270.7 67.1,270.6 67.7,270.7 68.3,271.0 68.9,271.0 69.5,270.9 70.1,270.8 70.7,270.8 71.3,269.9 71.9,269.2 72.5,269.1 73.1,269.7 73.7,270.0 74.3,269.4 74.9,267.9 75.5,267.5 76.1,267.0 76.7,266.2 77.3,265.7 77.9,266.2 78.5,266.6 79.1,266.8 79.7,266.6 80.3,266.9 80.9,267.4 81.5,268.2 82.1,269.2 82.7,269.8 83.3,269.8 83.9,268.9 84.5,268.6 85.1,269.0 85.7,269.3 86.3,269.3 86.9,269.5 87.5,269.0 88.1,268.4 88.7,268.2 89.3,267.4 89.9,266.9 90.5,266.9 91.1,266.6 91.7,266.3 92.3,266.6 92.9,266.8 93.5,266.1 94.1,264.9 94.7,263.9 95.3,263.4 95.9,262.6 96.5,262.3 97.1,262.2 97.7,262.0 98.3,261.6 98.9,261.0 99.5,260.3 100.1,260.0 100.7,260.3 101.3,261.0 101.9,262.2 102.5,263.6 103.1,264.1 103.7,264.0 104.3,264.4 104.9,264.5 105.5,263.7 106.1,263.0 106.7,262.8 107.3,262.1 107.9,262.2 108.5,262.5 109.1,261.6 109.7,260.9 110.3,261.2 110.9,261.7 111.5,260.7 112.1,260.2 112.7,261.0 113.3,262.3 113.9,262.6 114.5,262.9 115.1,263.1 115.7,263.3 116.3,263.8 116.9,263.7 117.5,263.4 118.1,262.8 118.7,262.7 119.3,262.9 119.9,263.5 120.5,264.3 121.1,264.1 121.7,263.7 122.3,264.1 122.9,264.5 123.5,265.0 124.1,266.1 124.7,265.8 125.3,265.7 125.9,265.8 126.5,265.8 127.1,265.7 127.7,265.6 128.3,265.1 128.9,264.5 129.5,265.4 130.1,266.4 130.7,266.8 131.3,266.8 131.9,265.8 132.5,265.1 133.1,265.5 133.7,265.8 134.3,266.2 134.9,266.6 135.5,267.3 136.1,267.8 136.7,267.7 137.3,267.7 137.9,267.7 138.5,267.2 139.1,267.0 139.7,267.0 140.3,267.6 140.9,268.5 141.5,268.1 142.1,267.5 142.7,267.3 143.3,267.7 143.9,267.6 144.5,266.9 145.1,267.1 145.7,267.3 146.3,266.9 146.9,266.4 147.5,266.1 148.1,266.0 148.7,266.7 149.3,267.4 149.9,267.3 150.5,266.7 151.1,266.5 151.7,267.2 152.3,267.9 152.9,268.2 153.5,267.5 154.1,267.3 154.7,268.4 155.3,269.1 155.9,269.0 156.5,268.8 157.1,269.2 157.7,269.4 158.3,268.7 158.9,268.0 159.5,267.5 160.1,266.1 160.7,264.7 161.3,263.7 161.9,263.4 162.5,263.7 163.1,264.2 163.7,265.2 164.3,266.1 164.9,266.9 165.5,268.5 166.1,270.0 166.7,271.3 167.3,272.7 167.9,273.1 168.5,272.6 169.1,271.8 169.7,271.5 170.3,271.3 170.9,271.2 171.5,271.0 172.1,271.0 172.7,270.4 173.3,269.6 173.9,268.9 174.5,268.0 175.1,266.9 175.7,265.9 176.3,264.9 176.9,264.3 177.5,264.9 178.1,266.7 178.7,268.9 179.3,270.5 179.9,271.3 180.5,271.3 181.1,271.4 181.7,271.9 182.3,271.7 182.9,271.3 183.5,271.4 184.1,271.8 184.7,272.0 185.3,272.1 185.9,272.4 186.5,272.7 187.1,272.5 187.7,271.8 188.3,271.8 188.9,272.0 189.5,271.6 190.1,271.2 190.7,271.1 191.3,271.1 191.9,270.7 192.5,270.4 193.1,269.8 193.7,268.9 194.3,268.8 194.9,268.5 195.5,266.1 196.1,263.8 196.7,262.1 197.3,259.9 197.9,256.9 198.5,254.4 199.1,252.7 199.7,252.0 200.3,250.9 200.9,249.6 201.5,249.5 202.1,250.8 202.7,251.9 203.3,252.9 203.9,253.1 204.5,254.2 205.1,256.5 205.7,259.0 206.3,260.7 206.9,262.4 207.5,264.0 208.1,264.5 208.7,263.1 209.3,261.7 209.9,262.3 210.5,262.9 211.1,263.4 211.7,263.7 212.3,264.0 212.9,264.4 213.5,265.1 214.1,265.8 214.6,266.1 L214.6,279.3 214.1,280.2 213.5,280.5 212.9,280.7 212.3,281.0 211.7,281.1 211.1,280.0 210.5,278.7 209.9,279.0 209.3,279.3 208.7,279.7 208.1,280.2 207.5,280.3 206.9,280.2 206.3,280.9 205.7,281.4 205.1,281.4 204.5,281.3 203.9,281.1 203.3,281.5 202.7,281.2 202.1,280.6 201.5,279.6 200.9,279.7 200.3,281.0 199.7,281.9 199.1,281.4 198.5,281.3 197.9,281.9 197.3,282.3 196.7,282.8 196.1,283.2 195.5,284.1 194.9,285.5 194.3,286.6 193.7,288.2 193.1,289.1 192.5,289.2 191.9,289.0 191.3,288.9 190.7,289.7 190.1,290.4 189.5,289.7 188.9,288.9 188.3,289.5 187.7,290.2 187.1,289.7 186.5,288.8 185.9,287.8 185.3,286.9 184.7,287.2 184.1,287.6 183.5,287.5 182.9,287.8 182.3,288.5 181.7,289.0 181.1,289.5 180.5,290.5 179.9,291.5 179.3,292.4 178.7,293.8 178.1,295.0 177.5,296.3 176.9,297.4 176.3,297.5 175.7,296.8 175.1,295.4 174.5,293.7 173.9,292.1 173.3,290.4 172.7,289.1 172.1,288.5 171.5,288.6 170.9,288.8 170.3,288.5 169.7,288.2 169.1,288.0 168.5,288.4 167.9,289.2 167.3,290.0 166.7,290.7 166.1,291.6 165.5,292.9 164.9,294.0 164.3,295.9 163.7,298.0 163.1,299.3 162.5,300.0 161.9,300.0 161.3,298.0 160.7,295.2 160.1,292.4 159.5,290.1 158.9,289.0 158.3,288.3 157.7,287.7 157.1,287.4 156.5,287.4 155.9,287.5 155.3,287.9 154.7,288.2 154.1,288.1 153.5,289.1 152.9,290.7 152.3,291.0 151.7,290.7 151.1,290.0 150.5,290.2 149.9,291.3 149.3,291.9 148.7,291.6 148.1,291.3 147.5,292.1 146.9,293.1 146.3,292.8 145.7,292.3 145.1,293.1 144.5,293.9 143.9,293.9 143.3,293.1 142.7,292.2 142.1,291.9 141.5,291.8 140.9,291.4 140.3,289.2 139.7,287.4 139.1,287.1 138.5,286.8 137.9,286.1 137.3,284.9 136.7,283.9 136.1,283.1 135.5,282.1 134.9,281.1 134.3,280.2 133.7,279.6 133.1,279.4 132.5,279.2 131.9,279.0 131.3,279.2 130.7,279.6 130.1,279.7 129.5,279.1 128.9,278.5 128.3,279.1 127.7,279.6 127.1,279.7 126.5,279.9 125.9,280.4 125.3,280.9 124.7,280.6 124.1,280.5 123.5,279.8 122.9,279.5 122.3,279.5 121.7,279.4 121.1,278.6 120.5,277.5 119.9,276.6 119.3,276.0 118.7,276.0 118.1,276.5 117.5,277.0 116.9,277.4 116.3,277.9 115.7,278.0 115.1,278.7 114.5,279.5 113.9,279.9 113.3,280.1 112.7,280.0 112.1,279.5 111.5,279.3 110.9,279.1 110.3,277.5 109.7,275.8 109.1,274.2 108.5,272.7 107.9,271.9 107.3,272.0 106.7,272.1 106.1,271.9 105.5,271.5 104.9,271.3 104.3,272.1 103.7,273.1 103.1,274.2 102.5,274.8 101.9,274.5 101.3,274.6 100.7,276.1 100.1,277.9 99.5,278.2 98.9,278.1 98.3,278.5 97.7,278.6 97.1,278.2 96.5,277.4 95.9,276.5 95.3,275.6 94.7,275.1 94.1,275.0 93.5,274.3 92.9,273.8 92.3,273.5 91.7,273.1 91.1,273.3 90.5,273.4 89.9,273.8 89.3,274.5 88.7,275.0 88.1,275.0 87.5,274.7 86.9,274.5 86.3,274.5 85.7,274.8 85.1,274.9 84.5,275.0 83.9,275.3 83.3,276.3 82.7,275.8 82.1,274.8 81.5,274.4 80.9,274.6 80.3,274.7 79.7,274.9 79.1,275.0 78.5,274.5 77.9,274.3 77.3,274.0 76.7,274.1 76.1,274.5 75.5,274.9 74.9,275.4 74.3,275.7 73.7,275.2 73.1,275.1 72.5,274.8 71.9,274.5 71.3,275.1 70.7,275.1 70.1,275.0 69.5,275.2 68.9,275.6 68.3,275.7 67.7,275.8 67.1,276.1 66.5,276.5 65.9,276.2 65.3,275.7 64.7,275.5 64.1,275.4 63.5,275.6 62.9,275.7 62.3,276.0 61.7,276.1 61.1,275.6 60.5,274.9 59.9,274.5 59.3,274.1 58.7,273.0 58.1,273.0 57.5,273.3 56.9,273.5 56.3,273.8 55.7,274.1 55.1,273.9 54.5,273.6 53.9,273.3 53.3,272.9 52.7,272.9 52.1,273.3 51.5,274.2 50.9,274.5 50.3,273.5 49.7,272.5 49.1,272.2 48.5,271.6 47.9,271.7 47.3,272.7 46.7,273.2 46.1,273.6 45.5,273.5 44.9,273.6 44.3,273.2 43.7,273.8 43.1,274.7 42.5,275.5 41.9,276.2 41.3,276.6 40.7,276.6 40.1,276.0 39.5,275.5 38.9,275.2 38.3,275.0 37.7,274.9 37.1,275.0 36.5,275.1 35.9,274.8 35.3,274.7 34.7,274.7 34.1,274.6 33.5,274.8 32.9,275.4Z" fill="#9fc3e6" fill-opacity="0.35"/>
<path d="M32.9,272.4 33.5,272.2 34.1,272.0 34.7,271.9 35.3,271.7 35.9,272.0 36.5,272.4 37.1,272.2 37.7,271.8 38.3,272.2 38.9,272.7 39.5,273.0 40.1,273.5 40.7,274.1 41.3,274.0 41.9,273.7 42.5,273.0 43.1,272.2 43.7,271.3 44.3,270.4 44.9,270.1 45.5,270.9 46.1,271.1 46.7,270.7 47.3,270.2 47.9,269.0 48.5,268.6 49.1,269.0 49.7,269.1 50.3,269.7 50.9,270.3 51.5,270.7 52.1,270.2 52.7,269.7 53.3,269.7 53.9,270.5 54.5,270.9 55.1,270.9 55.7,270.7 56.3,271.0 56.9,270.9 57.5,270.8 58.1,270.5 58.7,270.2 59.3,270.6 59.9,271.7 60.5,272.4 61.1,273.1 61.7,273.5 62.3,273.1 62.9,272.7 63.5,272.8 64.1,272.5 64.7,272.4 65.3,272.5 65.9,272.4 66.5,272.2 67.1,272.2 67.7,272.3 68.3,272.6 68.9,272.6 69.5,272.4 70.1,272.4 70.7,272.4 71.3,271.6 71.9,270.8 72.5,270.8 73.1,271.3 73.7,271.7 74.3,271.0 74.9,269.6 75.5,269.2 76.1,268.7 76.7,267.9 77.3,267.4 77.9,268.0 78.5,268.4 79.1,268.6 79.7,268.4 80.3,268.7 80.9,269.3 81.5,270.1 82.1,271.0 82.7,271.6 83.3,271.6 83.9,270.7 84.5,270.5 85.1,270.9 85.7,271.2 86.3,271.3 86.9,271.4 87.5,270.9 88.1,270.4 88.7,270.2 89.3,269.4 89.9,268.9 90.5,268.9 91.1,268.7 91.7,268.3 92.3,268.6 92.9,268.9 93.5,268.2 94.1,266.9 94.7,266.0 95.3,265.5 95.9,264.7 96.5,264.4 97.1,264.4 97.7,264.1 98.3,263.8 98.9,263.2 99.5,262.5 100.1,262.2 100.7,262.6 101.3,263.3 101.9,264.5 102.5,265.9 103.1,266.4 103.7,266.3 104.3,266.7 104.9,266.9 105.5,266.1 106.1,265.4 106.7,265.2 107.3,264.5 107.9,264.7 108.5,264.9 109.1,264.1 109.7,263.4 110.3,263.7 110.9,264.2 111.5,263.3 112.1,262.7 112.7,263.6 113.3,264.9 113.9,265.2 114.5,265.5 115.1,265.8 115.7,266.0 116.3,266.4 116.9,266.4 117.5,266.0 118.1,265.5 118.7,265.4 119.3,265.6 119.9,266.2 120.5,267.1 121.1,266.9 121.7,266.5 122.3,266.9 122.9,267.3 123.5,267.9 124.1,268.9 124.7,268.7 125.3,268.6 125.9,268.7 126.5,268.7 127.1,268.6 127.7,268.5 128.3,268.0 128.9,267.4 129.5,268.4 130.1,269.3 130.7,269.7 131.3,269.7 131.9,268.8 132.5,268.1 133.1,268.4 133.7,268.8 134.3,269.1 134.9,269.6 135.5,270.3 136.1,270.7 136.7,270.7 137.3,270.7 137.9,270.7 138.5,270.2 139.1,270.0 139.7,270.0 140.3,270.6 140.9,271.5 141.5,271.1 142.1,270.5 142.7,270.3 143.3,270.7 143.9,270.6 144.5,269.9 145.1,270.1 145.7,270.3 146.3,269.9 146.9,269.4 147.5,269.1 148.1,269.0 148.7,269.7 149.3,270.4 149.9,270.3 150.5,269.7 151.1,269.5 151.7,270.2 152.3,270.9 152.9,271.2 153.5,270.5 154.1,270.3 154.7,271.4 155.3,272.1 155.9,272.0 156.5,271.8 157.1,272.2 157.7,272.4 158.3,271.7 158.9,271.0 159.5,270.5 160.1,269.1 160.7,267.7 161.3,266.7 161.9,266.4 162.5,266.7 163.1,267.2 163.7,268.2 164.3,269.1 164.9,269.9 165.5,271.5 166.1,273.0 166.7,274.3 167.3,275.7 167.9,276.1 168.5,275.6 169.1,274.8 169.7,274.5 170.3,274.3 170.9,274.2 171.5,274.0 172.1,274.0 172.7,273.4 173.3,272.6 173.9,271.9 174.5,271.0 175.1,269.9 175.7,268.9 176.3,267.9 176.9,267.3 177.5,267.9 178.1,269.7 178.7,271.9 179.3,273.5 179.9,274.3 180.5,274.3 181.1,274.4 181.7,274.9 182.3,274.7 182.9,274.3 183.5,274.4 184.1,274.8 184.7,275.0 185.3,275.1 185.9,275.4 186.5,275.7 187.1,275.5 187.7,274.8 188.3,274.8 188.9,275.0 189.5,274.6 190.1,274.2 190.7,274.1 191.3,274.1 191.9,273.7 192.5,273.4 193.1,272.8 193.7,271.9 194.3,271.8 194.9,271.5 195.5,269.1 196.1,266.8 196.7,265.1 197.3,262.9 197.9,259.9 198.5,257.4 199.1,255.7 199.7,255.0 200.3,253.9 200.9,252.6 201.5,252.5 202.1,253.8 202.7,254.9 203.3,255.9 203.9,256.1 204.5,257.2 205.1,259.5 205.7,262.0 206.3,263.7 206.9,265.4 207.5,267.0 208.1,267.5 208.7,266.1 209.3,264.7 209.9,265.3 210.5,265.9 211.1,266.4 211.7,266.7 212.3,267.0 212.9,267.4 213.5,268.1 214.1,268.8 214.6,269.1 L214.6,276.3 214.1,277.2 213.5,277.5 212.9,277.7 212.3,278.0 211.7,278.1 211.1,277.0 210.5,275.7 209.9,276.0 209.3,276.3 208.7,276.7 208.1,277.2 207.5,277.3 206.9,277.2 206.3,277.9 205.7,278.4 205.1,278.4 204.5,278.3 203.9,278.1 203.3,278.5 202.7,278.2 202.1,277.6 201.5,276.6 200.9,276.7 200.3,278.0 199.7,278.9 199.1,278.4 198.5,278.3 197.9,278.9 197.3,279.3 196.7,279.8 196.1,280.2 195.5,281.1 194.9,282.5 194.3,283.6 193.7,285.2 193.1,286.1 192.5,286.2 191.9,286.0 191.3,285.9 190.7,286.7 190.1,287.4 189.5,286.7 188.9,285.9 188.3,286.5 187.7,287.2 187.1,286.7 186.5,285.8 185.9,284.8 185.3,283.9 184.7,284.2 184.1,284.6 183.5,284.5 182.9,284.8 182.3,285.5 181.7,286.0 181.1,286.5 180.5,287.5 179.9,288.5 179.3,289.4 178.7,290.8 178.1,292.0 177.5,293.3 176.9,294.4 176.3,294.5 175.7,293.8 175.1,292.4 174.5,290.7 173.9,289.1 173.3,287.4 172.7,286.1 172.1,285.5 171.5,285.6 170.9,285.8 170.3,285.5 169.7,285.2 169.1,285.0 168.5,285.4 167.9,286.2 167.3,287.0 166.7,287.7 166.1,288.6 165.5,289.9 164.9,291.0 164.3,292.9 163.7,295.0 163.1,296.3 162.5,297.0 161.9,297.0 161.3,295.0 160.7,292.2 160.1,289.4 159.5,287.1 158.9,286.0 158.3,285.3 157.7,284.7 157.1,284.4 156.5,284.4 155.9,284.5 155.3,284.9 154.7,285.2 154.1,285.1 153.5,286.1 152.9,287.7 152.3,288.0 151.7,287.7 151.1,287.0 150.5,287.2 149.9,288.3 149.3,288.9 148.7,288.6 148.1,288.3 147.5,289.1 146.9,290.1 146.3,289.8 145.7,289.3 145.1,290.1 144.5,290.9 143.9,290.9 143.3,290.1 142.7,289.2 142.1,288.9 141.5,288.8 140.9,288.4 140.3,286.2 139.7,284.4 139.1,284.1 138.5,283.9 137.9,283.1 137.3,281.9 136.7,280.9 136.1,280.1 135.5,279.1 134.9,278.1 134.3,277.2 133.7,276.6 133.1,276.4 132.5,276.2 131.9,276.1 131.3,276.2 130.7,276.7 130.1,276.7 129.5,276.2 128.9,275.6 128.3,276.2 127.7,276.7 127.1,276.9 126.5,277.0 125.9,277.6 125.3,278.0 124.7,277.8 124.1,277.7 123.5,276.9 122.9,276.7 122.3,276.7 121.7,276.7 121.1,275.9 120.5,274.8 119.9,273.9 119.3,273.2 118.7,273.3 118.1,273.8 117.5,274.3 116.9,274.8 116.3,275.3 115.7,275.4 115.1,276.1 114.5,276.9 113.9,277.3 113.3,277.6 112.7,277.4 112.1,276.9 111.5,276.7 110.9,276.6 110.3,275.0 109.7,273.4 109.1,271.7 108.5,270.2 107.9,269.4 107.3,269.6 106.7,269.7 106.1,269.5 105.5,269.1 104.9,269.0 104.3,269.7 103.7,270.8 103.1,271.9 102.5,272.5 101.9,272.3 101.3,272.3 100.7,273.9 100.1,275.6 99.5,276.0 98.9,275.9 98.3,276.3 97.7,276.4 97.1,276.0 96.5,275.3 95.9,274.4 95.3,273.5 94.7,273.0 94.1,272.9 93.5,272.2 92.9,271.7 92.3,271.4 91.7,271.1 91.1,271.3 90.5,271.4 89.9,271.8 89.3,272.5 88.7,273.1 88.1,273.0 87.5,272.7 86.9,272.5 86.3,272.6 85.7,272.8 85.1,273.0 84.5,273.1 83.9,273.5 83.3,274.4 82.7,274.0 82.1,273.0 81.5,272.6 80.9,272.8 80.3,272.9 79.7,273.1 79.1,273.3 78.5,272.7 77.9,272.6 77.3,272.3 76.7,272.4 76.1,272.7 75.5,273.2 74.9,273.7 74.3,274.0 73.7,273.5 73.1,273.5 72.5,273.2 71.9,272.9 71.3,273.5 70.7,273.5 70.1,273.4 69.5,273.6 68.9,274.0 68.3,274.1 67.7,274.3 67.1,274.5 66.5,274.9 65.9,274.6 65.3,274.2 64.7,273.9 64.1,273.8 63.5,274.0 62.9,274.2 62.3,274.5 61.7,274.6 61.1,274.1 60.5,273.4 59.9,273.0 59.3,272.6 58.7,271.5 58.1,271.5 57.5,271.8 56.9,272.0 56.3,272.3 55.7,272.6 55.1,272.4 54.5,272.1 53.9,271.8 53.3,271.4 52.7,271.4 52.1,271.8 51.5,272.7 50.9,273.0 50.3,272.0 49.7,271.0 49.1,270.7 48.5,270.1 47.9,270.2 47.3,271.2 46.7,271.7 46.1,272.1 45.5,272.0 44.9,272.1 44.3,271.7 43.7,272.3 43.1,273.2 42.5,274.0 41.9,274.7 41.3,275.1 40.7,275.1 40.1,274.5 39.5,274.0 38.9,273.7 38.3,273.5 37.7,273.4 37.1,273.5 36.5,273.6 35.9,273.3 35.3,273.2 34.7,273.2 34.1,273.1 33.5,273.3 32.9,273.9Z" fill="#3987c8"/>
<polyline points="32.9,272.9 33.5,272.7 34.1,272.6 34.7,272.7 35.3,272.7 35.9,272.8 36.5,272.9 37.1,272.9 37.7,272.8 38.3,273.0 38.9,273.2 39.5,273.5 40.1,274.0 40.7,274.6 41.3,274.5 41.9,274.2 42.5,273.5 43.1,272.7 43.7,271.8 44.3,271.2 44.9,271.2 45.5,271.5 46.1,271.6 46.7,271.2 47.3,270.7 47.9,269.5 48.5,269.2 49.1,269.9 49.7,270.4 50.3,270.8 50.9,271.3 51.5,271.8 52.1,271.3 52.7,270.9 53.3,270.9 53.9,271.3 54.5,271.4 55.1,271.5 55.7,271.4 56.3,271.5 56.9,271.4 57.5,271.3 58.1,271.0 58.7,270.9 59.3,271.5 59.9,272.2 60.5,272.9 61.1,273.6 61.7,274.0 62.3,273.6 62.9,273.2 63.5,273.3 64.1,273.3 64.7,273.4 65.3,273.7 65.9,273.9 66.5,274.0 67.1,273.7 67.7,273.6 68.3,273.3 68.9,273.1 69.5,272.9 70.1,272.9 70.7,272.9 71.3,272.7 71.9,272.3 72.5,272.7 73.1,273.0 73.7,273.0 74.3,272.8 74.9,271.8 75.5,271.5 76.1,271.2 76.7,270.7 77.3,270.4 77.9,271.1 78.5,271.5 79.1,271.9 79.7,271.6 80.3,271.6 80.9,271.7 81.5,271.9 82.1,272.5 82.7,273.1 83.3,273.2 83.9,272.5 84.5,272.4 85.1,272.2 85.7,271.9 86.3,271.9 86.9,272.0 87.5,271.8 88.1,271.6 88.7,271.7 89.3,271.2 89.9,270.4 90.5,270.1 91.1,270.2 91.7,270.1 92.3,270.3 92.9,270.3 93.5,270.2 94.1,270.0 94.7,269.8 95.3,269.9 95.9,270.1 96.5,270.4 97.1,270.8 97.7,270.8 98.3,270.7 98.9,270.4 99.5,269.9 100.1,269.4 100.7,269.1 101.3,268.9 101.9,269.1 102.5,269.5 103.1,269.6 103.7,269.2 104.3,268.7 104.9,268.3 105.5,268.1 106.1,268.0 106.7,268.2 107.3,267.9 107.9,267.7 108.5,268.0 109.1,268.3 109.7,268.7 110.3,269.5 110.9,270.4 111.5,270.1 112.1,270.0 112.7,270.7 113.3,271.4 113.9,271.4 114.5,271.4 115.1,271.3 115.7,271.1 116.3,271.4 116.9,271.3 117.5,270.9 118.1,270.4 118.7,270.1 119.3,270.1 119.9,270.2 120.5,270.6 121.1,271.1 121.7,271.4 122.3,271.4 122.9,271.5 123.5,271.7 124.1,272.5 124.7,272.9 125.3,273.5 125.9,273.5 126.5,273.4 127.1,273.4 127.7,273.4 128.3,273.0 128.9,272.5 129.5,273.1 130.1,273.6 130.7,273.5 131.3,273.0 131.9,272.5 132.5,272.3 133.1,272.6 133.7,273.0 134.3,273.4 134.9,274.1 135.5,274.6 136.1,275.0 136.7,275.3 137.3,275.7 137.9,276.2 138.5,276.2 139.1,276.1 139.7,276.2 140.3,276.9 140.9,277.9 141.5,277.7 142.1,277.2 142.7,276.7 143.3,277.0 143.9,277.4 144.5,277.2 145.1,276.8 145.7,276.5 146.3,276.2 146.9,275.8 147.5,275.4 148.1,275.2 148.7,275.6 149.3,276.1 149.9,276.2 150.5,275.7 151.1,275.3 151.7,275.8 152.3,276.5 152.9,276.7 153.5,275.7 154.1,275.4 154.7,276.4 155.3,277.2 155.9,277.7 156.5,278.2 157.1,278.7 157.7,279.3 158.3,280.0 158.9,280.8 159.5,281.1 160.1,280.7 160.7,280.1 161.3,279.7 161.9,279.5 162.5,279.4 163.1,279.2 163.7,279.1 164.3,279.3 164.9,279.6 165.5,279.8 166.1,279.7 166.7,279.7 167.3,279.9 167.9,279.7 168.5,279.2 169.1,278.7 169.7,278.7 170.3,279.0 170.9,279.3 171.5,279.2 172.1,279.2 172.7,279.3 173.3,279.6 173.9,279.9 174.5,280.0 175.1,280.1 175.7,280.3 176.3,280.1 176.9,279.7 177.5,279.4 178.1,279.6 178.7,280.3 179.3,280.7 179.9,280.5 180.5,280.0 181.1,279.6 181.7,279.7 182.3,279.5 182.9,279.1 183.5,278.6 184.1,278.6 184.7,278.8 185.3,278.9 185.9,278.9 186.5,279.0 187.1,278.8 187.7,278.2 188.3,278.0 188.9,278.0 189.5,277.9 190.1,277.6 190.7,277.2 191.3,276.8 191.9,276.3 192.5,276.0 193.1,275.6 193.7,275.2 194.3,274.5 194.9,273.7 195.5,272.8 196.1,272.5 196.7,272.4 197.3,272.4 197.9,272.5 198.5,272.2 199.1,272.1 199.7,272.3 200.3,272.0 200.9,271.2 201.5,271.1 202.1,272.0 202.7,272.5 203.3,272.6 203.9,272.2 204.5,272.3 205.1,272.4 205.7,272.5 206.3,272.2 206.9,271.7 207.5,272.1 208.1,272.5 208.7,271.4 209.3,270.5 209.9,271.0 210.5,271.6 211.1,272.2 211.7,272.6 212.3,273.0 212.9,273.3 213.5,273.6 214.1,273.8 214.6,273.5" fill="none" stroke="#e01b24" stroke-width="1.5" stroke-linejoin="round"/>
<path d="M320.9,272.6 321.5,272.4 322.1,272.3 322.7,272.4 323.3,272.4 323.9,272.5 324.5,272.6 325.1,272.6 325.7,272.5 326.3,272.7 326.9,272.9 327.5,273.2 328.1,273.7 328.7,274.3 329.3,274.2 329.9,273.9 330.5,273.2 331.1,272.4 331.7,271.5 332.3,270.9 332.9,270.9 333.5,271.2 334.1,271.3 334.7,270.9 335.3,270.4 335.9,269.2 336.5,268.9 337.1,269.6 337.7,270.1 338.3,270.5 338.9,271.0 339.5,271.5 340.1,271.0 340.7,270.6 341.3,270.6 341.9,271.0 342.5,271.1 343.1,271.2 343.7,271.1 344.3,271.2 344.9,271.1 345.5,271.0 346.1,270.7 346.7,270.6 347.3,271.2 347.9,271.9 348.5,272.6 349.1,273.3 349.7,273.7 350.3,273.3 350.9,272.9 351.5,273.0 352.1,273.0 352.7,273.1 353.3,273.4 353.9,273.6 354.5,273.7 355.1,273.4 355.7,273.3 356.3,273.0 356.9,272.8 357.5,272.6 358.1,272.6 358.7,272.6 359.3,272.4 359.9,272.0 360.5,272.3 361.1,272.4 361.7,272.3 362.3,271.9 362.9,270.7 363.5,270.2 364.1,269.8 364.7,269.2 365.3,268.9 365.9,269.6 366.5,270.1 367.1,270.5 367.7,270.3 368.3,270.3 368.9,270.6 369.5,270.8 370.1,271.4 370.7,272.2 371.3,272.3 371.9,271.6 372.5,271.5 373.1,271.3 373.7,271.0 374.3,270.9 374.9,271.0 375.5,270.8 376.1,270.5 376.7,270.5 377.3,269.9 377.9,269.2 378.5,268.8 379.1,268.8 379.7,268.7 380.3,268.7 380.9,268.7 381.5,268.5 382.1,268.2 382.7,267.6 383.3,267.2 383.9,266.8 384.5,266.5 385.1,266.2 385.7,265.8 386.3,265.5 386.9,265.1 387.5,264.9 388.1,264.9 388.7,265.0 389.3,265.4 389.9,266.2 390.5,267.1 391.1,267.6 391.7,267.4 392.3,266.9 392.9,266.5 393.5,266.2 394.1,266.1 394.7,266.2 395.3,265.9 395.9,265.6 396.5,265.8 397.1,265.9 397.7,266.0 398.3,266.3 398.9,266.5 399.5,265.4 400.1,264.6 400.7,264.7 401.3,265.1 401.9,265.3 402.5,265.7 403.1,266.3 403.7,266.9 404.3,267.8 404.9,268.0 405.5,267.5 406.1,266.8 406.7,266.1 407.3,265.7 407.9,265.4 408.5,265.3 409.1,265.4 409.7,265.4 410.3,265.2 410.9,265.2 411.5,265.7 412.1,267.1 412.7,268.3 413.3,269.7 413.9,270.4 414.5,270.9 415.1,271.1 415.7,271.2 416.3,270.9 416.9,270.6 417.5,271.2 418.1,271.8 418.7,271.7 419.3,271.2 419.9,270.7 420.5,270.4 421.1,270.7 421.7,271.0 422.3,271.4 422.9,272.0 423.5,272.4 424.1,272.6 424.7,272.8 425.3,273.1 425.9,273.4 426.5,273.1 427.1,272.7 427.7,272.6 428.3,272.9 428.9,273.3 429.5,272.4 430.1,271.1 430.7,269.8 431.3,269.2 431.9,269.0 432.5,268.3 433.1,267.8 433.7,267.7 434.3,267.9 434.9,268.3 435.5,268.8 436.1,269.5 436.7,270.9 437.3,272.2 437.9,272.8 438.5,272.7 439.1,272.6 439.7,273.5 440.3,274.5 440.9,275.0 441.5,274.2 442.1,274.0 442.7,275.1 443.3,275.8 443.9,275.8 444.5,275.3 445.1,274.4 445.7,273.4 446.3,272.4 446.9,271.4 447.5,269.9 448.1,267.9 448.7,265.9 449.3,264.3 449.9,263.4 450.5,263.1 451.1,263.5 451.7,264.8 452.3,266.9 452.9,269.4 453.5,271.9 454.1,274.0 454.7,275.9 455.3,277.4 455.9,277.9 456.5,277.4 457.1,276.9 457.7,276.9 458.3,277.2 458.9,277.5 459.5,277.4 460.1,277.3 460.7,277.0 461.3,276.2 461.9,275.0 462.5,273.3 463.1,271.6 463.7,270.0 464.3,268.4 464.9,267.0 465.5,266.3 466.1,266.7 466.7,268.2 467.3,269.6 467.9,270.7 468.5,271.6 469.1,272.8 469.7,274.4 470.3,275.6 470.9,276.4 471.5,276.8 472.1,277.2 472.7,277.5 473.3,277.3 473.9,276.7 474.5,276.0 475.1,274.9 475.7,273.3 476.3,272.1 476.9,271.0 477.5,269.9 478.1,268.7 478.7,267.6 479.3,266.7 479.9,266.0 480.5,266.0 481.1,266.7 481.7,267.8 482.3,268.7 482.9,269.5 483.5,269.9 484.1,270.2 484.7,269.9 485.3,269.2 485.9,268.3 486.5,266.8 487.1,265.4 487.7,264.5 488.3,263.4 488.9,262.2 489.5,262.3 490.1,263.8 490.7,265.1 491.3,266.3 491.9,267.0 492.5,268.2 493.1,269.1 493.7,269.6 494.3,269.4 494.9,268.8 495.5,269.2 496.1,269.4 496.7,268.2 497.3,267.1 497.9,267.6 498.5,268.1 499.1,268.7 499.7,269.1 500.3,269.7 500.9,270.1 501.5,270.6 502.1,271.1 502.6,271.0 L502.6,276.2 502.1,277.0 501.5,277.3 500.9,277.4 500.3,277.5 499.7,277.3 499.1,277.0 498.5,276.5 497.9,275.8 497.3,274.9 496.7,275.5 496.1,276.2 495.5,275.4 494.9,274.7 494.3,275.0 493.7,275.4 493.1,275.6 492.5,276.0 491.9,276.5 491.3,277.6 490.7,278.2 490.1,278.3 489.5,277.8 488.9,278.0 488.3,278.6 487.7,278.3 487.1,277.3 486.5,276.6 485.9,276.1 485.3,275.3 484.7,274.9 484.1,274.9 483.5,275.4 482.9,277.0 482.3,278.7 481.7,280.4 481.1,281.7 480.5,282.6 479.9,283.1 479.3,283.5 478.7,283.6 478.1,283.5 477.5,283.3 476.9,282.8 476.3,282.2 475.7,281.7 475.1,281.7 474.5,281.3 473.9,280.8 473.3,280.5 472.7,280.2 472.1,279.9 471.5,280.4 470.9,281.5 470.3,282.8 469.7,284.1 469.1,285.1 468.5,286.6 467.9,288.3 467.3,289.5 466.7,289.9 466.1,289.7 465.5,289.7 464.9,289.8 464.3,289.3 463.7,288.5 463.1,287.0 462.5,285.5 461.9,284.0 461.3,282.6 460.7,281.5 460.1,281.0 459.5,281.0 458.9,281.1 458.3,280.8 457.7,280.5 457.1,280.5 456.5,281.0 455.9,281.5 455.3,282.2 454.7,283.2 454.1,284.9 453.5,286.8 452.9,288.7 452.3,290.3 451.7,291.7 451.1,293.0 450.5,293.7 449.9,293.6 449.3,293.3 448.7,292.7 448.1,292.0 447.5,291.0 446.9,289.1 446.3,286.7 445.7,284.5 445.1,282.5 444.5,280.8 443.9,279.5 443.3,278.5 442.7,277.7 442.1,276.8 441.5,277.3 440.9,278.5 440.3,278.5 439.7,278.2 439.1,277.9 438.5,278.7 437.9,279.5 437.3,280.0 436.7,280.3 436.1,280.8 435.5,282.0 434.9,283.3 434.3,284.5 433.7,285.3 433.1,285.8 432.5,286.0 431.9,285.8 431.3,284.7 430.7,283.7 430.1,283.3 429.5,282.9 428.9,282.4 428.3,280.9 427.7,279.8 427.1,279.4 426.5,279.2 425.9,279.1 425.3,278.4 424.7,277.7 424.1,277.3 423.5,276.8 422.9,276.2 422.3,275.5 421.7,274.9 421.1,274.5 420.5,274.1 419.9,274.3 419.3,274.8 418.7,275.3 418.1,275.4 417.5,275.0 416.9,274.5 416.3,275.0 415.7,275.5 415.1,275.7 414.5,276.0 413.9,276.7 413.3,277.6 412.7,278.1 412.1,278.6 411.5,278.6 410.9,278.8 410.3,278.7 409.7,278.4 409.1,277.6 408.5,276.6 407.9,275.6 407.3,274.8 406.7,274.2 406.1,274.1 405.5,274.3 404.9,274.6 404.3,275.2 403.7,276.0 403.1,277.4 402.5,278.7 401.9,279.6 401.3,279.7 400.7,278.5 400.1,277.0 399.5,276.0 398.9,275.2 398.3,273.1 397.7,271.5 397.1,270.6 396.5,270.2 395.9,269.9 395.3,270.0 394.7,270.1 394.1,269.9 393.5,269.9 392.9,270.1 392.3,270.5 391.7,271.1 391.1,271.8 390.5,272.2 389.9,272.6 389.3,273.2 388.7,274.2 388.1,275.3 387.5,276.4 386.9,277.2 386.3,277.6 385.7,277.3 385.1,276.6 384.5,275.3 383.9,274.0 383.3,272.8 382.7,272.0 382.1,271.9 381.5,271.9 380.9,271.9 380.3,271.8 379.7,271.6 379.1,271.6 378.5,271.5 377.9,271.7 377.3,272.4 376.7,272.9 376.1,272.8 375.5,272.9 374.9,273.0 374.3,272.9 373.7,272.9 373.1,273.1 372.5,273.3 371.9,273.4 371.3,274.1 370.7,274.1 370.1,273.5 369.5,273.0 368.9,272.9 368.3,272.8 367.7,272.9 367.1,273.2 366.5,272.9 365.9,272.5 365.3,271.9 364.7,272.2 364.1,272.7 363.5,272.8 362.9,272.9 362.3,273.8 361.7,273.7 361.1,273.5 360.5,273.0 359.9,272.6 359.3,273.0 358.7,273.2 358.1,273.2 357.5,273.2 356.9,273.4 356.3,273.6 355.7,273.9 355.1,274.0 354.5,274.3 353.9,274.2 353.3,274.0 352.7,273.7 352.1,273.6 351.5,273.6 350.9,273.5 350.3,273.9 349.7,274.3 349.1,273.9 348.5,273.2 347.9,272.5 347.3,271.8 346.7,271.2 346.1,271.3 345.5,271.6 344.9,271.7 344.3,271.8 343.7,271.7 343.1,271.8 342.5,271.7 341.9,271.6 341.3,271.2 340.7,271.2 340.1,271.6 339.5,272.1 338.9,271.6 338.3,271.1 337.7,270.7 337.1,270.2 336.5,269.5 335.9,269.8 335.3,271.0 334.7,271.5 334.1,271.9 333.5,271.8 332.9,271.5 332.3,271.5 331.7,272.1 331.1,273.0 330.5,273.8 329.9,274.5 329.3,274.8 328.7,274.9 328.1,274.3 327.5,273.8 326.9,273.5 326.3,273.3 325.7,273.1 325.1,273.2 324.5,273.2 323.9,273.1 323.3,273.0 322.7,273.0 322.1,272.9 321.5,273.0 320.9,273.2Z" fill="#bcd6ee"/>
<path d="M320.9,272.7 321.5,272.6 322.1,272.5 322.7,272.5 323.3,272.6 323.9,272.7 324.5,272.8 325.1,272.8 325.7,272.6 326.3,272.8 326.9,273.0 327.5,273.3 328.1,273.8 328.7,274.5 329.3,274.4 329.9,274.1 330.5,273.3 331.1,272.5 331.7,271.6 332.3,271.1 332.9,271.0 333.5,271.4 334.1,271.5 334.7,271.0 335.3,270.5 335.9,269.4 336.5,269.1 337.1,269.8 337.7,270.2 338.3,270.7 338.9,271.2 339.5,271.6 340.1,271.2 340.7,270.7 341.3,270.7 341.9,271.1 342.5,271.2 343.1,271.3 343.7,271.2 344.3,271.3 344.9,271.3 345.5,271.1 346.1,270.8 346.7,270.7 347.3,271.3 347.9,272.1 348.5,272.7 349.1,273.5 349.7,273.8 350.3,273.5 350.9,273.0 351.5,273.1 352.1,273.2 352.7,273.3 353.3,273.5 353.9,273.7 354.5,273.8 355.1,273.6 355.7,273.4 356.3,273.2 356.9,273.0 357.5,272.8 358.1,272.7 358.7,272.8 359.3,272.5 359.9,272.1 360.5,272.5 361.1,272.7 361.7,272.6 362.3,272.3 362.9,271.2 363.5,270.9 364.1,270.5 364.7,270.0 365.3,269.7 365.9,270.3 366.5,270.8 367.1,271.2 367.7,271.0 368.3,271.0 368.9,271.1 369.5,271.4 370.1,272.0 370.7,272.7 371.3,272.7 371.9,272.0 372.5,272.0 373.1,271.7 373.7,271.4 374.3,271.4 374.9,271.5 375.5,271.3 376.1,271.1 376.7,271.1 377.3,270.6 377.9,269.8 378.5,269.4 379.1,269.5 379.7,269.4 380.3,269.5 380.9,269.5 381.5,269.4 382.1,269.1 382.7,268.7 383.3,268.5 383.9,268.4 384.5,268.5 385.1,268.5 385.7,268.3 386.3,268.1 386.9,267.8 387.5,267.4 388.1,267.1 388.7,267.0 389.3,267.2 389.9,267.7 390.5,268.3 391.1,268.6 391.7,268.3 392.3,267.8 392.9,267.4 393.5,267.2 394.1,267.0 394.7,267.2 395.3,266.9 395.9,266.7 396.5,266.9 397.1,267.1 397.7,267.4 398.3,267.9 398.9,268.5 399.5,267.8 400.1,267.3 400.7,267.7 401.3,268.2 401.9,268.4 402.5,268.6 403.1,268.8 403.7,269.0 404.3,269.6 404.9,269.6 405.5,269.2 406.1,268.6 406.7,268.1 407.3,267.9 407.9,267.8 408.5,268.0 409.1,268.2 409.7,268.4 410.3,268.3 410.9,268.3 411.5,268.7 412.1,269.8 412.7,270.6 413.3,271.6 413.9,271.9 414.5,272.1 415.1,272.3 415.7,272.3 416.3,272.0 416.9,271.5 417.5,272.1 418.1,272.7 418.7,272.6 419.3,272.1 419.9,271.6 420.5,271.3 421.1,271.6 421.7,272.0 422.3,272.4 422.9,273.0 423.5,273.5 424.1,273.8 424.7,274.1 425.3,274.4 425.9,274.8 426.5,274.6 427.1,274.4 427.7,274.4 428.3,274.9 428.9,275.6 429.5,275.0 430.1,274.1 430.7,273.3 431.3,273.1 431.9,273.2 432.5,272.8 433.1,272.3 433.7,272.1 434.3,272.1 434.9,272.1 435.5,272.1 436.1,272.3 436.7,273.3 437.3,274.1 437.9,274.5 438.5,274.2 439.1,273.9 439.7,274.7 440.3,275.5 440.9,275.8 441.5,275.0 442.1,274.7 442.7,275.7 443.3,276.5 443.9,276.7 444.5,276.7 445.1,276.5 445.7,276.3 446.3,276.2 446.9,276.1 447.5,275.5 448.1,274.3 448.7,273.0 449.3,272.0 449.9,271.5 450.5,271.2 451.1,271.4 451.7,271.9 452.3,273.1 452.9,274.5 453.5,275.8 454.1,276.9 454.7,277.8 455.3,278.6 455.9,278.8 456.5,278.3 457.1,277.8 457.7,277.8 458.3,278.1 458.9,278.4 459.5,278.3 460.1,278.3 460.7,278.2 461.3,277.9 461.9,277.4 462.5,276.6 463.1,275.9 463.7,275.2 464.3,274.2 464.9,273.4 465.5,272.9 466.1,273.1 466.7,274.3 467.3,275.1 467.9,275.6 468.5,275.8 469.1,276.2 469.7,277.1 470.3,277.6 470.9,277.7 471.5,277.7 472.1,277.9 472.7,278.2 473.3,278.1 473.9,277.8 474.5,277.5 475.1,276.9 475.7,275.8 476.3,275.0 476.9,274.5 477.5,273.9 478.1,273.1 478.7,272.4 479.3,271.8 479.9,271.2 480.5,271.0 481.1,271.2 481.7,271.5 482.3,271.6 482.9,271.6 483.5,271.4 484.1,271.4 484.7,271.2 485.3,270.8 485.9,270.4 486.5,269.5 487.1,268.8 487.7,268.4 488.3,267.7 488.9,266.7 489.5,266.7 490.1,267.9 490.7,268.8 491.3,269.5 491.9,269.6 492.5,270.3 493.1,270.8 493.7,271.1 494.3,270.8 494.9,270.3 495.5,270.6 496.1,270.9 496.7,269.8 497.3,268.8 497.9,269.3 498.5,269.8 499.1,270.4 499.7,270.8 500.3,271.3 500.9,271.7 501.5,272.1 502.1,272.4 502.6,272.2 L502.6,274.8 502.1,275.4 501.5,275.4 500.9,275.4 500.3,275.2 499.7,274.9 499.1,274.6 498.5,274.0 497.9,273.4 497.3,272.7 496.7,273.5 496.1,274.3 495.5,273.8 494.9,273.2 494.3,273.6 493.7,273.9 493.1,274.0 492.5,274.2 491.9,274.4 491.3,275.1 490.7,275.3 490.1,275.2 489.5,274.5 488.9,274.6 488.3,275.3 487.7,275.3 487.1,274.7 486.5,274.4 485.9,274.3 485.3,273.9 484.7,273.6 484.1,273.7 483.5,274.1 482.9,275.3 482.3,276.6 481.7,277.8 481.1,278.7 480.5,279.3 479.9,279.7 479.3,280.2 478.7,280.4 478.1,280.6 477.5,280.6 476.9,280.4 476.3,280.1 475.7,280.0 475.1,280.3 474.5,280.2 473.9,279.9 473.3,279.7 472.7,279.5 472.1,279.2 471.5,279.5 470.9,280.3 470.3,281.2 469.7,281.9 469.1,282.4 468.5,283.3 467.9,284.4 467.3,285.1 466.7,285.1 466.1,284.6 465.5,284.6 464.9,284.8 464.3,284.7 463.7,284.4 463.1,283.6 462.5,282.7 461.9,282.0 461.3,281.1 460.7,280.4 460.1,280.1 459.5,280.1 458.9,280.2 458.3,279.9 457.7,279.6 457.1,279.6 456.5,280.1 455.9,280.6 455.3,281.0 454.7,281.5 454.1,282.3 453.5,283.3 452.9,284.2 452.3,284.8 451.7,285.4 451.1,286.1 450.5,286.5 449.9,286.6 449.3,286.5 448.7,286.4 448.1,286.4 447.5,286.1 446.9,284.9 446.3,283.4 445.7,281.9 445.1,280.6 444.5,279.5 443.9,278.6 443.3,277.9 442.7,277.1 442.1,276.1 441.5,276.5 440.9,277.6 440.3,277.5 439.7,277.0 439.1,276.6 438.5,277.2 437.9,277.8 437.3,278.1 436.7,278.0 436.1,278.0 435.5,278.7 434.9,279.6 434.3,280.4 433.7,280.9 433.1,281.3 432.5,281.6 431.9,281.6 431.3,280.8 430.7,280.2 430.1,280.2 429.5,280.3 428.9,280.2 428.3,278.9 427.7,278.0 427.1,277.8 426.5,277.7 425.9,277.6 425.3,277.0 424.7,276.5 424.1,276.1 423.5,275.7 422.9,275.2 422.3,274.5 421.7,274.0 421.1,273.5 420.5,273.2 419.9,273.4 419.3,273.9 418.7,274.4 418.1,274.5 417.5,274.0 416.9,273.5 416.3,274.0 415.7,274.4 415.1,274.6 414.5,274.7 413.9,275.1 413.3,275.6 412.7,275.5 412.1,275.5 411.5,275.1 410.9,275.1 410.3,275.0 409.7,274.9 409.1,274.4 408.5,273.6 407.9,272.9 407.3,272.5 406.7,272.2 406.1,272.2 405.5,272.6 404.9,272.9 404.3,273.3 403.7,273.5 403.1,274.3 402.5,275.1 401.9,275.5 401.3,275.5 400.7,274.6 400.1,273.5 399.5,273.1 398.9,272.8 398.3,271.3 397.7,270.1 397.1,269.4 396.5,269.1 395.9,268.8 395.3,268.9 394.7,269.1 394.1,268.9 393.5,269.0 392.9,269.2 392.3,269.6 391.7,270.1 391.1,270.7 390.5,270.9 389.9,270.9 389.3,271.1 388.7,271.6 388.1,272.4 387.5,273.1 386.9,273.8 386.3,274.2 385.7,274.1 385.1,273.7 384.5,272.9 383.9,272.0 383.3,271.4 382.7,270.9 382.1,270.9 381.5,271.1 380.9,271.1 380.3,271.0 379.7,270.8 379.1,270.9 378.5,270.8 377.9,271.1 377.3,271.8 376.7,272.3 376.1,272.2 375.5,272.4 374.9,272.5 374.3,272.4 373.7,272.4 373.1,272.7 372.5,272.9 371.9,272.9 371.3,273.7 370.7,273.6 370.1,273.0 369.5,272.4 368.9,272.3 368.3,272.2 367.7,272.3 367.1,272.5 366.5,272.2 365.9,271.8 365.3,271.2 364.7,271.5 364.1,272.0 363.5,272.2 362.9,272.4 362.3,273.3 361.7,273.4 361.1,273.2 360.5,272.8 359.9,272.4 359.3,272.8 358.7,273.1 358.1,273.0 357.5,273.1 356.9,273.3 356.3,273.5 355.7,273.7 355.1,273.9 354.5,274.1 353.9,274.0 353.3,273.8 352.7,273.6 352.1,273.5 351.5,273.4 350.9,273.3 350.3,273.8 349.7,274.1 349.1,273.8 348.5,273.0 347.9,272.4 347.3,271.6 346.7,271.0 346.1,271.1 345.5,271.4 344.9,271.6 344.3,271.6 343.7,271.5 343.1,271.6 342.5,271.5 341.9,271.4 341.3,271.0 340.7,271.0 340.1,271.5 339.5,271.9 338.9,271.5 338.3,271.0 337.7,270.5 337.1,270.1 336.5,269.4 335.9,269.7 335.3,270.8 334.7,271.3 334.1,271.8 333.5,271.7 332.9,271.3 332.3,271.4 331.7,271.9 331.1,272.8 330.5,273.6 329.9,274.4 329.3,274.7 328.7,274.8 328.1,274.1 327.5,273.6 326.9,273.3 326.3,273.1 325.7,272.9 325.1,273.1 324.5,273.1 323.9,273.0 323.3,272.9 322.7,272.8 322.1,272.8 321.5,272.9 320.9,273.0Z" fill="#93bde4"/>
<polyline points="320.9,272.9 321.5,272.7 322.1,272.6 322.7,272.7 323.3,272.7 323.9,272.8 324.5,272.9 325.1,272.9 325.7,272.8 326.3,273.0 326.9,273.2 327.5,273.5 328.1,274.0 328.7,274.6 329.3,274.5 329.9,274.2 330.5,273.5 331.1,272.7 331.7,271.8 332.3,271.2 332.9,271.2 333.5,271.5 334.1,271.6 334.7,271.2 335.3,270.7 335.9,269.5 336.5,269.2 337.1,269.9 337.7,270.4 338.3,270.8 338.9,271.3 339.5,271.8 340.1,271.3 340.7,270.9 341.3,270.9 341.9,271.3 342.5,271.4 343.1,271.5 343.7,271.4 344.3,271.5 344.9,271.4 345.5,271.3 346.1,271.0 346.7,270.9 347.3,271.5 347.9,272.2 348.5,272.9 349.1,273.6 349.7,274.0 350.3,273.6 350.9,273.2 351.5,273.3 352.1,273.3 352.7,273.4 353.3,273.7 353.9,273.9 354.5,274.0 355.1,273.7 355.7,273.6 356.3,273.3 356.9,273.1 357.5,272.9 358.1,272.9 358.7,272.9 359.3,272.7 359.9,272.3 360.5,272.7 361.1,273.0 361.7,273.0 362.3,272.8 362.9,271.8 363.5,271.5 364.1,271.2 364.7,270.7 365.3,270.4 365.9,271.1 366.5,271.5 367.1,271.9 367.7,271.6 368.3,271.6 368.9,271.7 369.5,271.9 370.1,272.5 370.7,273.1 371.3,273.2 371.9,272.5 372.5,272.4 373.1,272.2 373.7,271.9 374.3,271.9 374.9,272.0 375.5,271.8 376.1,271.6 376.7,271.7 377.3,271.2 377.9,270.4 378.5,270.1 379.1,270.2 379.7,270.1 380.3,270.3 380.9,270.3 381.5,270.2 382.1,270.0 382.7,269.8 383.3,269.9 383.9,270.1 384.5,270.4 385.1,270.8 385.7,270.8 386.3,270.7 386.9,270.4 387.5,269.9 388.1,269.4 388.7,269.1 389.3,268.9 389.9,269.1 390.5,269.5 391.1,269.6 391.7,269.2 392.3,268.7 392.9,268.3 393.5,268.1 394.1,268.0 394.7,268.2 395.3,267.9 395.9,267.7 396.5,268.0 397.1,268.3 397.7,268.7 398.3,269.5 398.9,270.4 399.5,270.1 400.1,270.0 400.7,270.7 401.3,271.4 401.9,271.4 402.5,271.4 403.1,271.3 403.7,271.1 404.3,271.4 404.9,271.3 405.5,270.9 406.1,270.4 406.7,270.1 407.3,270.1 407.9,270.2 408.5,270.6 409.1,271.1 409.7,271.4 410.3,271.4 410.9,271.5 411.5,271.7 412.1,272.5 412.7,272.9 413.3,273.5 413.9,273.5 414.5,273.4 415.1,273.4 415.7,273.4 416.3,273.0 416.9,272.5 417.5,273.1 418.1,273.6 418.7,273.5 419.3,273.0 419.9,272.5 420.5,272.3 421.1,272.6 421.7,273.0 422.3,273.4 422.9,274.1 423.5,274.6 424.1,275.0 424.7,275.3 425.3,275.7 425.9,276.2 426.5,276.2 427.1,276.1 427.7,276.2 428.3,276.9 428.9,277.9 429.5,277.7 430.1,277.2 430.7,276.7 431.3,277.0 431.9,277.4 432.5,277.2 433.1,276.8 433.7,276.5 434.3,276.2 434.9,275.8 435.5,275.4 436.1,275.2 436.7,275.6 437.3,276.1 437.9,276.2 438.5,275.7 439.1,275.3 439.7,275.8 440.3,276.5 440.9,276.7 441.5,275.7 442.1,275.4 442.7,276.4 443.3,277.2 443.9,277.7 444.5,278.2 445.1,278.7 445.7,279.3 446.3,280.0 446.9,280.8 447.5,281.1 448.1,280.7 448.7,280.1 449.3,279.7 449.9,279.5 450.5,279.4 451.1,279.2 451.7,279.1 452.3,279.3 452.9,279.6 453.5,279.8 454.1,279.7 454.7,279.7 455.3,279.9 455.9,279.7 456.5,279.2 457.1,278.7 457.7,278.7 458.3,279.0 458.9,279.3 459.5,279.2 460.1,279.2 460.7,279.3 461.3,279.6 461.9,279.9 462.5,280.0 463.1,280.1 463.7,280.3 464.3,280.1 464.9,279.7 465.5,279.4 466.1,279.6 466.7,280.3 467.3,280.7 467.9,280.5 468.5,280.0 469.1,279.6 469.7,279.7 470.3,279.5 470.9,279.1 471.5,278.6 472.1,278.6 472.7,278.8 473.3,278.9 473.9,278.9 474.5,279.0 475.1,278.8 475.7,278.2 476.3,278.0 476.9,278.0 477.5,277.9 478.1,277.6 478.7,277.2 479.3,276.8 479.9,276.3 480.5,276.0 481.1,275.6 481.7,275.2 482.3,274.5 482.9,273.7 483.5,272.8 484.1,272.5 484.7,272.4 485.3,272.4 485.9,272.5 486.5,272.2 487.1,272.1 487.7,272.3 488.3,272.0 488.9,271.2 489.5,271.1 490.1,272.0 490.7,272.5 491.3,272.6 491.9,272.2 492.5,272.3 493.1,272.4 493.7,272.5 494.3,272.2 494.9,271.7 495.5,272.1 496.1,272.5 496.7,271.4 497.3,270.5 497.9,271.0 498.5,271.6 499.1,272.2 499.7,272.6 500.3,273.0 500.9,273.3 501.5,273.6 502.1,273.8 502.6,273.5" fill="none" stroke="#d2202e" stroke-width="1.4" stroke-linejoin="round"/>
<rect x="32.9" y="18.4" width="218.6" height="68.5" fill="none" stroke="#a2a2a2" stroke-width="1.15"/>
<path d="M32.90 86.9v-2.2" stroke="#a2a2a2" stroke-width="1.15"/>
<path d="M32.90 18.4v2.2" stroke="#a2a2a2" stroke-width="1.15"/>
<path d="M105.77 86.9v-2.2" stroke="#a2a2a2" stroke-width="1.15"/>
<path d="M105.77 18.4v2.2" stroke="#a2a2a2" stroke-width="1.15"/>
<path d="M178.63 86.9v-2.2" stroke="#a2a2a2" stroke-width="1.15"/>
<path d="M178.63 18.4v2.2" stroke="#a2a2a2" stroke-width="1.15"/>
<path d="M251.50 86.9v-2.2" stroke="#a2a2a2" stroke-width="1.15"/>
<path d="M251.50 18.4v2.2" stroke="#a2a2a2" stroke-width="1.15"/>
<path d="M32.9 18.40h2.2" stroke="#a2a2a2" stroke-width="1.15"/>
<path d="M251.5 18.40h-2.2" stroke="#a2a2a2" stroke-width="1.15"/>
<path d="M32.9 52.65h2.2" stroke="#a2a2a2" stroke-width="1.15"/>
<path d="M251.5 52.65h-2.2" stroke="#a2a2a2" stroke-width="1.15"/>
<path d="M32.9 86.90h2.2" stroke="#a2a2a2" stroke-width="1.15"/>
<path d="M251.5 86.90h-2.2" stroke="#a2a2a2" stroke-width="1.15"/>
<text x="29.2" y="22.1" text-anchor="end">0.01</text>
<text x="29.2" y="56.4" text-anchor="end">0</text>
<text x="29.2" y="90.6" text-anchor="end">-0.01</text>
<text x="32.9" y="102.5" text-anchor="middle">0</text>
<text x="105.8" y="102.5" text-anchor="middle">0.2</text>
<text x="178.6" y="102.5" text-anchor="middle">0.4</text>
<text x="251.5" y="102.5" text-anchor="middle">0.6</text>
<text x="142.2" y="13.0" text-anchor="middle" class="t"><tspan class="p">(</tspan>a<tspan class="p">)</tspan></text>
<path d="M320.9 18.4V86.9H539.5" fill="none" stroke="#a2a2a2" stroke-width="1.15"/>
<path d="M320.90 86.9v-2.2" stroke="#a2a2a2" stroke-width="1.15"/>
<path d="M393.77 86.9v-2.2" stroke="#a2a2a2" stroke-width="1.15"/>
<path d="M466.63 86.9v-2.2" stroke="#a2a2a2" stroke-width="1.15"/>
<path d="M539.50 86.9v-2.2" stroke="#a2a2a2" stroke-width="1.15"/>
<path d="M320.9 18.40h2.2" stroke="#a2a2a2" stroke-width="1.15"/>
<path d="M320.9 52.65h2.2" stroke="#a2a2a2" stroke-width="1.15"/>
<path d="M320.9 86.90h2.2" stroke="#a2a2a2" stroke-width="1.15"/>
<text x="317.2" y="22.1" text-anchor="end">0.01</text>
<text x="317.2" y="56.4" text-anchor="end">0</text>
<text x="317.2" y="90.6" text-anchor="end">-0.01</text>
<text x="320.9" y="102.5" text-anchor="middle">0</text>
<text x="393.8" y="102.5" text-anchor="middle">0.2</text>
<text x="466.6" y="102.5" text-anchor="middle">0.4</text>
<text x="539.5" y="102.5" text-anchor="middle">0.6</text>
<text x="430.2" y="13.0" text-anchor="middle" class="t"><tspan class="p">(</tspan>b<tspan class="p">)</tspan></text>
<rect x="32.9" y="128.9" width="218.6" height="68.5" fill="none" stroke="#a2a2a2" stroke-width="1.15"/>
<path d="M32.90 197.4v-2.2" stroke="#a2a2a2" stroke-width="1.15"/>
<path d="M32.90 128.9v2.2" stroke="#a2a2a2" stroke-width="1.15"/>
<path d="M105.77 197.4v-2.2" stroke="#a2a2a2" stroke-width="1.15"/>
<path d="M105.77 128.9v2.2" stroke="#a2a2a2" stroke-width="1.15"/>
<path d="M178.63 197.4v-2.2" stroke="#a2a2a2" stroke-width="1.15"/>
<path d="M178.63 128.9v2.2" stroke="#a2a2a2" stroke-width="1.15"/>
<path d="M251.50 197.4v-2.2" stroke="#a2a2a2" stroke-width="1.15"/>
<path d="M251.50 128.9v2.2" stroke="#a2a2a2" stroke-width="1.15"/>
<path d="M32.9 128.90h2.2" stroke="#a2a2a2" stroke-width="1.15"/>
<path d="M251.5 128.90h-2.2" stroke="#a2a2a2" stroke-width="1.15"/>
<path d="M32.9 163.15h2.2" stroke="#a2a2a2" stroke-width="1.15"/>
<path d="M251.5 163.15h-2.2" stroke="#a2a2a2" stroke-width="1.15"/>
<path d="M32.9 197.40h2.2" stroke="#a2a2a2" stroke-width="1.15"/>
<path d="M251.5 197.40h-2.2" stroke="#a2a2a2" stroke-width="1.15"/>
<text x="29.2" y="132.6" text-anchor="end">0.5</text>
<text x="29.2" y="166.8" text-anchor="end">0</text>
<text x="29.2" y="201.1" text-anchor="end">-0.5</text>
<text x="32.9" y="213.0" text-anchor="middle">0</text>
<text x="105.8" y="213.0" text-anchor="middle">0.2</text>
<text x="178.6" y="213.0" text-anchor="middle">0.4</text>
<text x="251.5" y="213.0" text-anchor="middle">0.6</text>
<text x="142.2" y="122.9" text-anchor="middle" class="t"><tspan class="p">(</tspan>c<tspan class="p">)</tspan></text>
<path d="M320.9 128.9V197.4H539.5" fill="none" stroke="#a2a2a2" stroke-width="1.15"/>
<path d="M320.90 197.4v-2.2" stroke="#a2a2a2" stroke-width="1.15"/>
<path d="M393.77 197.4v-2.2" stroke="#a2a2a2" stroke-width="1.15"/>
<path d="M466.63 197.4v-2.2" stroke="#a2a2a2" stroke-width="1.15"/>
<path d="M539.50 197.4v-2.2" stroke="#a2a2a2" stroke-width="1.15"/>
<path d="M320.9 128.90h2.2" stroke="#a2a2a2" stroke-width="1.15"/>
<path d="M320.9 163.15h2.2" stroke="#a2a2a2" stroke-width="1.15"/>
<path d="M320.9 197.40h2.2" stroke="#a2a2a2" stroke-width="1.15"/>
<text x="317.2" y="132.6" text-anchor="end">0.5</text>
<text x="317.2" y="166.8" text-anchor="end">0</text>
<text x="317.2" y="201.1" text-anchor="end">-0.5</text>
<text x="320.9" y="213.0" text-anchor="middle">0</text>
<text x="393.8" y="213.0" text-anchor="middle">0.2</text>
<text x="466.6" y="213.0" text-anchor="middle">0.4</text>
<text x="539.5" y="213.0" text-anchor="middle">0.6</text>
<text x="430.2" y="122.9" text-anchor="middle" class="t"><tspan class="p">(</tspan>d<tspan class="p">)</tspan></text>
<rect x="32.9" y="238.9" width="218.6" height="68.5" fill="none" stroke="#a2a2a2" stroke-width="1.15"/>
<path d="M32.90 307.4v-2.2" stroke="#a2a2a2" stroke-width="1.15"/>
<path d="M32.90 238.9v2.2" stroke="#a2a2a2" stroke-width="1.15"/>
<path d="M105.77 307.4v-2.2" stroke="#a2a2a2" stroke-width="1.15"/>
<path d="M105.77 238.9v2.2" stroke="#a2a2a2" stroke-width="1.15"/>
<path d="M178.63 307.4v-2.2" stroke="#a2a2a2" stroke-width="1.15"/>
<path d="M178.63 238.9v2.2" stroke="#a2a2a2" stroke-width="1.15"/>
<path d="M251.50 307.4v-2.2" stroke="#a2a2a2" stroke-width="1.15"/>
<path d="M251.50 238.9v2.2" stroke="#a2a2a2" stroke-width="1.15"/>
<path d="M32.9 238.90h2.2" stroke="#a2a2a2" stroke-width="1.15"/>
<path d="M251.5 238.90h-2.2" stroke="#a2a2a2" stroke-width="1.15"/>
<path d="M32.9 273.15h2.2" stroke="#a2a2a2" stroke-width="1.15"/>
<path d="M251.5 273.15h-2.2" stroke="#a2a2a2" stroke-width="1.15"/>
<path d="M32.9 307.40h2.2" stroke="#a2a2a2" stroke-width="1.15"/>
<path d="M251.5 307.40h-2.2" stroke="#a2a2a2" stroke-width="1.15"/>
<text x="29.2" y="242.6" text-anchor="end">200</text>
<text x="29.2" y="276.8" text-anchor="end">0</text>
<text x="29.2" y="311.1" text-anchor="end">-200</text>
<text x="32.9" y="323.0" text-anchor="middle">0</text>
<text x="105.8" y="323.0" text-anchor="middle">0.2</text>
<text x="178.6" y="323.0" text-anchor="middle">0.4</text>
<text x="251.5" y="323.0" text-anchor="middle">0.6</text>
<text x="142.2" y="233.0" text-anchor="middle" class="t"><tspan class="p">(</tspan>e<tspan class="p">)</tspan></text>
<path d="M320.9 238.9V307.4H539.5" fill="none" stroke="#a2a2a2" stroke-width="1.15"/>
<path d="M320.90 307.4v-2.2" stroke="#a2a2a2" stroke-width="1.15"/>
<path d="M393.77 307.4v-2.2" stroke="#a2a2a2" stroke-width="1.15"/>
<path d="M466.63 307.4v-2.2" stroke="#a2a2a2" stroke-width="1.15"/>
<path d="M539.50 307.4v-2.2" stroke="#a2a2a2" stroke-width="1.15"/>
<path d="M320.9 238.90h2.2" stroke="#a2a2a2" stroke-width="1.15"/>
<path d="M320.9 273.15h2.2" stroke="#a2a2a2" stroke-width="1.15"/>
<path d="M320.9 307.40h2.2" stroke="#a2a2a2" stroke-width="1.15"/>
<text x="317.2" y="242.6" text-anchor="end">200</text>
<text x="317.2" y="276.8" text-anchor="end">0</text>
<text x="317.2" y="311.1" text-anchor="end">-200</text>
<text x="320.9" y="323.0" text-anchor="middle">0</text>
<text x="393.8" y="323.0" text-anchor="middle">0.2</text>
<text x="466.6" y="323.0" text-anchor="middle">0.4</text>
<text x="539.5" y="323.0" text-anchor="middle">0.6</text>
<text x="430.2" y="233.0" text-anchor="middle" class="t"><tspan class="p">(</tspan>f<tspan class="p">)</tspan></text>
</svg>
</body></html>
